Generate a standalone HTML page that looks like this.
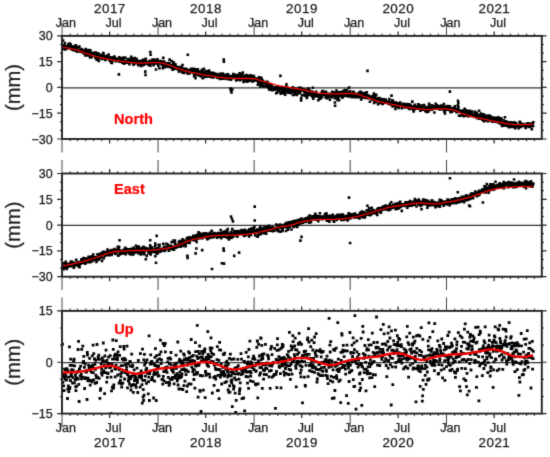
<!DOCTYPE html>
<html><head><meta charset="utf-8"><style>
html,body{margin:0;padding:0;background:#fff;width:550px;height:457px;overflow:hidden}
svg{display:block}

</style></head><body>
<div id="w"><svg width="550" height="457" viewBox="0 0 550 457">
<defs><filter id="bl" filterUnits="userSpaceOnUse" x="0" y="0" width="550" height="457" color-interpolation-filters="sRGB"><feConvolveMatrix order="3" kernelMatrix="1 6 1 6 36 6 1 6 1" divisor="64" edgeMode="duplicate"/></filter></defs><g filter="url(#bl)">
<rect width="550" height="457" fill="#fff"/>
<clipPath id="c0"><rect x="62.0" y="35.9" width="479.79999999999995" height="103.1"/></clipPath>
<clipPath id="c1"><rect x="62.0" y="173.5" width="479.79999999999995" height="103.19999999999999"/></clipPath>
<clipPath id="c2"><rect x="62.0" y="310.9" width="479.79999999999995" height="102.70000000000005"/></clipPath>
<line x1="62.0" y1="87.8" x2="541.8" y2="87.8" stroke="#333" stroke-width="1.15"/>
<line x1="62.0" y1="225.4" x2="541.8" y2="225.4" stroke="#333" stroke-width="1.15"/>
<line x1="62.0" y1="362.6" x2="541.8" y2="362.6" stroke="#333" stroke-width="1.15"/>
<path clip-path="url(#c0)" fill="#000" d="M60.7 45.0h2.6v2.6h-2.6zM61.2 47.6h2.6v2.6h-2.6zM61.5 47.3h2.6v2.6h-2.6zM61.8 44.1h2.6v2.6h-2.6zM62.3 44.5h2.6v2.6h-2.6zM62.5 44.1h2.6v2.6h-2.6zM62.8 46.2h2.6v2.6h-2.6zM63.1 45.0h2.6v2.6h-2.6zM63.3 46.6h2.6v2.6h-2.6zM63.6 41.7h2.6v2.6h-2.6zM63.9 48.2h2.6v2.6h-2.6zM64.1 45.1h2.6v2.6h-2.6zM64.4 46.6h2.6v2.6h-2.6zM64.6 45.1h2.6v2.6h-2.6zM65.2 44.7h2.6v2.6h-2.6zM65.4 46.3h2.6v2.6h-2.6zM66.0 47.1h2.6v2.6h-2.6zM66.2 45.1h2.6v2.6h-2.6zM66.5 45.3h2.6v2.6h-2.6zM66.8 46.9h2.6v2.6h-2.6zM67.0 44.0h2.6v2.6h-2.6zM67.3 42.8h2.6v2.6h-2.6zM67.5 46.5h2.6v2.6h-2.6zM68.1 44.5h2.6v2.6h-2.6zM68.3 42.2h2.6v2.6h-2.6zM68.6 44.4h2.6v2.6h-2.6zM68.9 45.1h2.6v2.6h-2.6zM69.1 43.8h2.6v2.6h-2.6zM69.4 43.2h2.6v2.6h-2.6zM69.6 46.2h2.6v2.6h-2.6zM69.9 47.9h2.6v2.6h-2.6zM70.2 45.8h2.6v2.6h-2.6zM70.4 44.9h2.6v2.6h-2.6zM70.7 47.1h2.6v2.6h-2.6zM71.0 47.8h2.6v2.6h-2.6zM71.2 45.9h2.6v2.6h-2.6zM71.8 47.6h2.6v2.6h-2.6zM72.0 48.7h2.6v2.6h-2.6zM72.3 46.4h2.6v2.6h-2.6zM72.5 45.3h2.6v2.6h-2.6zM72.8 47.6h2.6v2.6h-2.6zM73.1 47.4h2.6v2.6h-2.6zM73.3 49.1h2.6v2.6h-2.6zM73.9 44.8h2.6v2.6h-2.6zM74.1 46.0h2.6v2.6h-2.6zM74.4 45.8h2.6v2.6h-2.6zM74.6 44.1h2.6v2.6h-2.6zM74.9 47.8h2.6v2.6h-2.6zM75.2 48.6h2.6v2.6h-2.6zM75.4 46.3h2.6v2.6h-2.6zM75.7 50.4h2.6v2.6h-2.6zM76.2 49.5h2.6v2.6h-2.6zM76.5 49.2h2.6v2.6h-2.6zM76.8 48.9h2.6v2.6h-2.6zM77.0 50.0h2.6v2.6h-2.6zM77.3 45.8h2.6v2.6h-2.6zM77.5 49.6h2.6v2.6h-2.6zM77.8 49.6h2.6v2.6h-2.6zM78.1 45.2h2.6v2.6h-2.6zM78.3 49.3h2.6v2.6h-2.6zM78.9 48.4h2.6v2.6h-2.6zM79.1 50.4h2.6v2.6h-2.6zM79.4 48.2h2.6v2.6h-2.6zM79.9 49.2h2.6v2.6h-2.6zM80.2 50.0h2.6v2.6h-2.6zM80.4 47.7h2.6v2.6h-2.6zM81.2 50.8h2.6v2.6h-2.6zM81.5 49.6h2.6v2.6h-2.6zM81.8 50.8h2.6v2.6h-2.6zM82.3 49.1h2.6v2.6h-2.6zM82.5 52.2h2.6v2.6h-2.6zM83.1 51.5h2.6v2.6h-2.6zM83.3 50.1h2.6v2.6h-2.6zM83.6 51.7h2.6v2.6h-2.6zM83.9 53.0h2.6v2.6h-2.6zM84.1 54.1h2.6v2.6h-2.6zM84.4 47.8h2.6v2.6h-2.6zM84.9 52.7h2.6v2.6h-2.6zM85.2 52.0h2.6v2.6h-2.6zM85.4 51.0h2.6v2.6h-2.6zM85.7 49.4h2.6v2.6h-2.6zM86.0 53.8h2.6v2.6h-2.6zM86.2 49.1h2.6v2.6h-2.6zM86.5 52.6h2.6v2.6h-2.6zM86.8 54.1h2.6v2.6h-2.6zM87.3 48.8h2.6v2.6h-2.6zM87.5 51.4h2.6v2.6h-2.6zM87.8 49.6h2.6v2.6h-2.6zM88.3 52.7h2.6v2.6h-2.6zM88.6 55.2h2.6v2.6h-2.6zM88.9 56.2h2.6v2.6h-2.6zM89.1 49.1h2.6v2.6h-2.6zM89.4 51.5h2.6v2.6h-2.6zM89.6 54.0h2.6v2.6h-2.6zM90.2 55.8h2.6v2.6h-2.6zM90.7 53.8h2.6v2.6h-2.6zM91.0 51.7h2.6v2.6h-2.6zM91.2 53.7h2.6v2.6h-2.6zM91.5 53.2h2.6v2.6h-2.6zM91.8 52.9h2.6v2.6h-2.6zM92.0 52.0h2.6v2.6h-2.6zM92.3 54.2h2.6v2.6h-2.6zM92.5 54.1h2.6v2.6h-2.6zM92.8 53.4h2.6v2.6h-2.6zM93.1 53.3h2.6v2.6h-2.6zM93.3 51.3h2.6v2.6h-2.6zM93.6 52.9h2.6v2.6h-2.6zM93.9 56.2h2.6v2.6h-2.6zM94.1 53.6h2.6v2.6h-2.6zM94.4 51.3h2.6v2.6h-2.6zM94.6 56.6h2.6v2.6h-2.6zM95.2 55.2h2.6v2.6h-2.6zM95.4 58.3h2.6v2.6h-2.6zM95.7 54.5h2.6v2.6h-2.6zM96.2 53.6h2.6v2.6h-2.6zM96.8 51.9h2.6v2.6h-2.6zM97.0 57.2h2.6v2.6h-2.6zM97.5 59.7h2.6v2.6h-2.6zM97.8 53.3h2.6v2.6h-2.6zM98.1 53.7h2.6v2.6h-2.6zM98.6 56.2h2.6v2.6h-2.6zM99.1 53.6h2.6v2.6h-2.6zM99.4 54.7h2.6v2.6h-2.6zM99.7 54.6h2.6v2.6h-2.6zM100.2 55.8h2.6v2.6h-2.6zM100.4 57.6h2.6v2.6h-2.6zM100.7 55.6h2.6v2.6h-2.6zM101.0 57.3h2.6v2.6h-2.6zM101.2 54.9h2.6v2.6h-2.6zM101.8 56.4h2.6v2.6h-2.6zM102.0 51.8h2.6v2.6h-2.6zM102.3 53.1h2.6v2.6h-2.6zM102.5 57.5h2.6v2.6h-2.6zM102.8 54.9h2.6v2.6h-2.6zM103.3 57.2h2.6v2.6h-2.6zM103.6 57.2h2.6v2.6h-2.6zM103.9 58.7h2.6v2.6h-2.6zM104.1 57.8h2.6v2.6h-2.6zM104.4 58.3h2.6v2.6h-2.6zM104.7 56.2h2.6v2.6h-2.6zM104.9 55.1h2.6v2.6h-2.6zM105.4 55.2h2.6v2.6h-2.6zM105.7 55.7h2.6v2.6h-2.6zM106.0 54.6h2.6v2.6h-2.6zM106.2 55.7h2.6v2.6h-2.6zM106.5 56.6h2.6v2.6h-2.6zM106.8 57.4h2.6v2.6h-2.6zM107.0 56.3h2.6v2.6h-2.6zM107.3 53.3h2.6v2.6h-2.6zM107.5 56.9h2.6v2.6h-2.6zM107.8 57.5h2.6v2.6h-2.6zM108.3 59.3h2.6v2.6h-2.6zM108.9 58.4h2.6v2.6h-2.6zM109.4 56.2h2.6v2.6h-2.6zM109.7 56.1h2.6v2.6h-2.6zM109.9 61.3h2.6v2.6h-2.6zM110.2 59.0h2.6v2.6h-2.6zM110.4 61.1h2.6v2.6h-2.6zM110.7 61.7h2.6v2.6h-2.6zM111.0 56.2h2.6v2.6h-2.6zM111.2 58.5h2.6v2.6h-2.6zM111.5 58.7h2.6v2.6h-2.6zM111.8 58.9h2.6v2.6h-2.6zM112.0 58.9h2.6v2.6h-2.6zM112.3 58.3h2.6v2.6h-2.6zM112.5 58.3h2.6v2.6h-2.6zM113.1 55.2h2.6v2.6h-2.6zM113.3 57.8h2.6v2.6h-2.6zM113.6 56.7h2.6v2.6h-2.6zM113.9 58.4h2.6v2.6h-2.6zM114.1 57.3h2.6v2.6h-2.6zM114.4 59.4h2.6v2.6h-2.6zM114.7 59.8h2.6v2.6h-2.6zM114.9 58.9h2.6v2.6h-2.6zM115.7 59.0h2.6v2.6h-2.6zM116.0 58.6h2.6v2.6h-2.6zM116.2 57.6h2.6v2.6h-2.6zM116.5 58.2h2.6v2.6h-2.6zM116.8 57.6h2.6v2.6h-2.6zM117.0 59.3h2.6v2.6h-2.6zM117.3 58.6h2.6v2.6h-2.6zM117.8 59.7h2.6v2.6h-2.6zM118.1 56.1h2.6v2.6h-2.6zM118.3 60.4h2.6v2.6h-2.6zM118.9 57.3h2.6v2.6h-2.6zM119.1 57.4h2.6v2.6h-2.6zM119.4 58.4h2.6v2.6h-2.6zM119.7 57.7h2.6v2.6h-2.6zM119.9 59.4h2.6v2.6h-2.6zM120.2 57.8h2.6v2.6h-2.6zM120.4 56.9h2.6v2.6h-2.6zM120.7 57.3h2.6v2.6h-2.6zM121.0 61.4h2.6v2.6h-2.6zM121.2 59.1h2.6v2.6h-2.6zM121.5 56.8h2.6v2.6h-2.6zM122.3 59.1h2.6v2.6h-2.6zM122.5 56.2h2.6v2.6h-2.6zM122.8 62.5h2.6v2.6h-2.6zM123.1 56.3h2.6v2.6h-2.6zM123.3 60.1h2.6v2.6h-2.6zM123.9 60.3h2.6v2.6h-2.6zM124.1 56.5h2.6v2.6h-2.6zM124.4 59.9h2.6v2.6h-2.6zM124.7 61.3h2.6v2.6h-2.6zM124.9 60.3h2.6v2.6h-2.6zM125.2 59.9h2.6v2.6h-2.6zM125.4 61.3h2.6v2.6h-2.6zM125.7 59.8h2.6v2.6h-2.6zM126.0 60.2h2.6v2.6h-2.6zM126.2 59.3h2.6v2.6h-2.6zM126.5 60.8h2.6v2.6h-2.6zM126.8 57.9h2.6v2.6h-2.6zM127.0 61.2h2.6v2.6h-2.6zM127.3 58.8h2.6v2.6h-2.6zM127.5 57.7h2.6v2.6h-2.6zM127.8 60.5h2.6v2.6h-2.6zM128.1 63.0h2.6v2.6h-2.6zM128.3 61.7h2.6v2.6h-2.6zM128.6 58.9h2.6v2.6h-2.6zM128.9 61.2h2.6v2.6h-2.6zM129.1 59.1h2.6v2.6h-2.6zM129.4 59.7h2.6v2.6h-2.6zM129.7 60.2h2.6v2.6h-2.6zM129.9 55.6h2.6v2.6h-2.6zM130.2 60.4h2.6v2.6h-2.6zM130.4 58.1h2.6v2.6h-2.6zM131.0 58.8h2.6v2.6h-2.6zM131.2 57.4h2.6v2.6h-2.6zM131.5 57.3h2.6v2.6h-2.6zM131.8 58.4h2.6v2.6h-2.6zM132.0 61.8h2.6v2.6h-2.6zM132.3 63.4h2.6v2.6h-2.6zM132.8 60.3h2.6v2.6h-2.6zM133.1 62.4h2.6v2.6h-2.6zM133.3 59.8h2.6v2.6h-2.6zM133.6 56.7h2.6v2.6h-2.6zM133.9 60.7h2.6v2.6h-2.6zM134.1 61.3h2.6v2.6h-2.6zM134.4 59.6h2.6v2.6h-2.6zM134.7 61.0h2.6v2.6h-2.6zM134.9 61.5h2.6v2.6h-2.6zM135.2 58.8h2.6v2.6h-2.6zM135.4 57.7h2.6v2.6h-2.6zM135.7 60.1h2.6v2.6h-2.6zM136.0 60.1h2.6v2.6h-2.6zM136.2 59.9h2.6v2.6h-2.6zM136.5 62.4h2.6v2.6h-2.6zM137.0 63.9h2.6v2.6h-2.6zM137.3 59.8h2.6v2.6h-2.6zM137.5 61.9h2.6v2.6h-2.6zM137.8 62.4h2.6v2.6h-2.6zM138.1 62.0h2.6v2.6h-2.6zM138.9 62.6h2.6v2.6h-2.6zM139.1 59.9h2.6v2.6h-2.6zM139.4 62.1h2.6v2.6h-2.6zM139.7 64.6h2.6v2.6h-2.6zM139.9 62.3h2.6v2.6h-2.6zM140.2 59.6h2.6v2.6h-2.6zM140.4 62.0h2.6v2.6h-2.6zM140.7 63.3h2.6v2.6h-2.6zM141.0 61.6h2.6v2.6h-2.6zM141.2 59.9h2.6v2.6h-2.6zM141.5 63.9h2.6v2.6h-2.6zM141.8 58.6h2.6v2.6h-2.6zM142.0 62.0h2.6v2.6h-2.6zM142.3 61.0h2.6v2.6h-2.6zM142.5 58.8h2.6v2.6h-2.6zM142.8 63.4h2.6v2.6h-2.6zM143.1 61.8h2.6v2.6h-2.6zM143.3 58.9h2.6v2.6h-2.6zM143.6 62.3h2.6v2.6h-2.6zM144.1 60.3h2.6v2.6h-2.6zM144.4 57.6h2.6v2.6h-2.6zM144.7 59.9h2.6v2.6h-2.6zM145.2 61.7h2.6v2.6h-2.6zM145.4 62.5h2.6v2.6h-2.6zM145.7 61.6h2.6v2.6h-2.6zM146.2 61.4h2.6v2.6h-2.6zM146.5 62.2h2.6v2.6h-2.6zM147.0 60.9h2.6v2.6h-2.6zM147.3 63.6h2.6v2.6h-2.6zM147.5 61.6h2.6v2.6h-2.6zM147.8 61.9h2.6v2.6h-2.6zM148.1 62.4h2.6v2.6h-2.6zM148.3 59.4h2.6v2.6h-2.6zM148.9 60.1h2.6v2.6h-2.6zM149.1 64.3h2.6v2.6h-2.6zM149.4 62.0h2.6v2.6h-2.6zM149.7 60.8h2.6v2.6h-2.6zM149.9 62.0h2.6v2.6h-2.6zM150.2 60.4h2.6v2.6h-2.6zM150.4 61.9h2.6v2.6h-2.6zM150.7 60.1h2.6v2.6h-2.6zM151.0 61.8h2.6v2.6h-2.6zM151.2 58.3h2.6v2.6h-2.6zM152.3 63.8h2.6v2.6h-2.6zM152.5 60.3h2.6v2.6h-2.6zM152.8 58.3h2.6v2.6h-2.6zM153.1 60.9h2.6v2.6h-2.6zM153.3 60.6h2.6v2.6h-2.6zM153.6 61.6h2.6v2.6h-2.6zM153.9 59.1h2.6v2.6h-2.6zM154.1 62.1h2.6v2.6h-2.6zM154.7 68.2h2.6v2.6h-2.6zM154.9 58.9h2.6v2.6h-2.6zM155.2 62.0h2.6v2.6h-2.6zM155.4 60.7h2.6v2.6h-2.6zM155.7 61.7h2.6v2.6h-2.6zM156.0 57.9h2.6v2.6h-2.6zM156.2 59.2h2.6v2.6h-2.6zM156.5 62.3h2.6v2.6h-2.6zM156.8 61.3h2.6v2.6h-2.6zM157.0 64.5h2.6v2.6h-2.6zM157.3 60.1h2.6v2.6h-2.6zM157.8 61.8h2.6v2.6h-2.6zM158.1 67.0h2.6v2.6h-2.6zM158.3 60.0h2.6v2.6h-2.6zM159.1 59.8h2.6v2.6h-2.6zM159.7 61.5h2.6v2.6h-2.6zM159.9 61.5h2.6v2.6h-2.6zM160.2 63.2h2.6v2.6h-2.6zM160.7 61.9h2.6v2.6h-2.6zM161.0 60.3h2.6v2.6h-2.6zM161.2 62.2h2.6v2.6h-2.6zM161.5 66.8h2.6v2.6h-2.6zM161.8 64.2h2.6v2.6h-2.6zM162.0 56.6h2.6v2.6h-2.6zM162.5 61.7h2.6v2.6h-2.6zM162.8 60.3h2.6v2.6h-2.6zM163.1 63.2h2.6v2.6h-2.6zM163.3 61.8h2.6v2.6h-2.6zM163.6 65.8h2.6v2.6h-2.6zM163.9 64.0h2.6v2.6h-2.6zM164.1 64.0h2.6v2.6h-2.6zM164.4 62.7h2.6v2.6h-2.6zM164.7 62.3h2.6v2.6h-2.6zM164.9 63.1h2.6v2.6h-2.6zM165.2 65.0h2.6v2.6h-2.6zM165.7 63.7h2.6v2.6h-2.6zM166.0 62.1h2.6v2.6h-2.6zM166.5 65.4h2.6v2.6h-2.6zM166.8 63.4h2.6v2.6h-2.6zM167.0 63.0h2.6v2.6h-2.6zM167.5 61.8h2.6v2.6h-2.6zM167.8 62.4h2.6v2.6h-2.6zM168.1 62.3h2.6v2.6h-2.6zM168.3 58.3h2.6v2.6h-2.6zM168.6 65.7h2.6v2.6h-2.6zM168.9 64.9h2.6v2.6h-2.6zM169.4 63.7h2.6v2.6h-2.6zM169.7 66.2h2.6v2.6h-2.6zM169.9 65.1h2.6v2.6h-2.6zM170.2 65.1h2.6v2.6h-2.6zM170.4 59.8h2.6v2.6h-2.6zM170.7 64.1h2.6v2.6h-2.6zM171.0 65.7h2.6v2.6h-2.6zM171.2 67.9h2.6v2.6h-2.6zM171.5 68.4h2.6v2.6h-2.6zM171.8 67.7h2.6v2.6h-2.6zM172.0 62.9h2.6v2.6h-2.6zM172.3 61.0h2.6v2.6h-2.6zM172.8 66.5h2.6v2.6h-2.6zM173.1 65.5h2.6v2.6h-2.6zM173.3 67.4h2.6v2.6h-2.6zM173.6 65.5h2.6v2.6h-2.6zM173.9 66.2h2.6v2.6h-2.6zM174.1 63.0h2.6v2.6h-2.6zM174.4 66.8h2.6v2.6h-2.6zM174.7 65.2h2.6v2.6h-2.6zM175.2 66.9h2.6v2.6h-2.6zM175.4 67.2h2.6v2.6h-2.6zM175.7 66.2h2.6v2.6h-2.6zM176.0 67.1h2.6v2.6h-2.6zM176.2 66.6h2.6v2.6h-2.6zM176.5 68.1h2.6v2.6h-2.6zM176.8 67.8h2.6v2.6h-2.6zM177.0 65.8h2.6v2.6h-2.6zM177.6 65.9h2.6v2.6h-2.6zM177.8 70.5h2.6v2.6h-2.6zM178.1 67.0h2.6v2.6h-2.6zM178.3 69.2h2.6v2.6h-2.6zM178.6 68.2h2.6v2.6h-2.6zM178.9 66.4h2.6v2.6h-2.6zM179.1 66.2h2.6v2.6h-2.6zM179.4 67.9h2.6v2.6h-2.6zM179.7 68.2h2.6v2.6h-2.6zM179.9 69.0h2.6v2.6h-2.6zM180.2 65.5h2.6v2.6h-2.6zM180.4 66.9h2.6v2.6h-2.6zM180.7 67.9h2.6v2.6h-2.6zM181.0 71.2h2.6v2.6h-2.6zM181.2 63.7h2.6v2.6h-2.6zM181.5 69.1h2.6v2.6h-2.6zM181.8 67.3h2.6v2.6h-2.6zM182.0 69.3h2.6v2.6h-2.6zM182.3 67.6h2.6v2.6h-2.6zM182.6 69.3h2.6v2.6h-2.6zM182.8 71.6h2.6v2.6h-2.6zM183.1 69.4h2.6v2.6h-2.6zM183.3 69.6h2.6v2.6h-2.6zM183.6 69.6h2.6v2.6h-2.6zM183.9 67.5h2.6v2.6h-2.6zM184.1 70.0h2.6v2.6h-2.6zM184.4 68.7h2.6v2.6h-2.6zM184.7 67.6h2.6v2.6h-2.6zM185.2 69.2h2.6v2.6h-2.6zM185.4 68.9h2.6v2.6h-2.6zM185.7 70.8h2.6v2.6h-2.6zM186.0 69.4h2.6v2.6h-2.6zM186.2 68.5h2.6v2.6h-2.6zM186.5 72.3h2.6v2.6h-2.6zM186.8 71.5h2.6v2.6h-2.6zM187.0 72.1h2.6v2.6h-2.6zM187.3 70.9h2.6v2.6h-2.6zM187.6 69.6h2.6v2.6h-2.6zM188.1 69.1h2.6v2.6h-2.6zM188.3 69.4h2.6v2.6h-2.6zM188.6 71.8h2.6v2.6h-2.6zM188.9 70.3h2.6v2.6h-2.6zM189.7 67.4h2.6v2.6h-2.6zM189.9 70.2h2.6v2.6h-2.6zM190.4 67.7h2.6v2.6h-2.6zM190.7 70.7h2.6v2.6h-2.6zM191.0 68.2h2.6v2.6h-2.6zM191.5 68.1h2.6v2.6h-2.6zM191.8 70.8h2.6v2.6h-2.6zM192.0 70.5h2.6v2.6h-2.6zM192.3 67.5h2.6v2.6h-2.6zM192.6 72.2h2.6v2.6h-2.6zM192.8 74.9h2.6v2.6h-2.6zM193.1 68.0h2.6v2.6h-2.6zM193.3 74.3h2.6v2.6h-2.6zM193.6 69.6h2.6v2.6h-2.6zM193.9 70.0h2.6v2.6h-2.6zM194.1 70.7h2.6v2.6h-2.6zM194.4 68.3h2.6v2.6h-2.6zM194.7 73.6h2.6v2.6h-2.6zM194.9 72.1h2.6v2.6h-2.6zM195.2 69.8h2.6v2.6h-2.6zM195.4 70.7h2.6v2.6h-2.6zM195.7 68.4h2.6v2.6h-2.6zM196.0 70.7h2.6v2.6h-2.6zM196.2 73.1h2.6v2.6h-2.6zM196.5 68.1h2.6v2.6h-2.6zM196.8 70.6h2.6v2.6h-2.6zM197.0 71.8h2.6v2.6h-2.6zM197.3 73.5h2.6v2.6h-2.6zM197.6 74.1h2.6v2.6h-2.6zM197.8 70.7h2.6v2.6h-2.6zM198.1 70.3h2.6v2.6h-2.6zM198.3 72.6h2.6v2.6h-2.6zM198.6 71.0h2.6v2.6h-2.6zM198.9 71.2h2.6v2.6h-2.6zM199.1 73.9h2.6v2.6h-2.6zM199.7 75.1h2.6v2.6h-2.6zM199.9 72.5h2.6v2.6h-2.6zM200.2 71.6h2.6v2.6h-2.6zM200.4 73.1h2.6v2.6h-2.6zM200.7 68.5h2.6v2.6h-2.6zM201.0 72.1h2.6v2.6h-2.6zM201.2 70.2h2.6v2.6h-2.6zM201.5 76.8h2.6v2.6h-2.6zM201.8 73.6h2.6v2.6h-2.6zM202.0 72.6h2.6v2.6h-2.6zM202.3 72.0h2.6v2.6h-2.6zM202.6 67.6h2.6v2.6h-2.6zM203.1 73.8h2.6v2.6h-2.6zM203.3 75.6h2.6v2.6h-2.6zM203.6 71.2h2.6v2.6h-2.6zM203.9 73.9h2.6v2.6h-2.6zM204.1 74.0h2.6v2.6h-2.6zM204.4 69.8h2.6v2.6h-2.6zM204.7 74.5h2.6v2.6h-2.6zM204.9 75.4h2.6v2.6h-2.6zM205.2 73.3h2.6v2.6h-2.6zM205.4 72.8h2.6v2.6h-2.6zM205.7 74.4h2.6v2.6h-2.6zM206.0 70.0h2.6v2.6h-2.6zM206.2 73.2h2.6v2.6h-2.6zM206.5 75.1h2.6v2.6h-2.6zM206.8 70.7h2.6v2.6h-2.6zM207.3 75.1h2.6v2.6h-2.6zM207.6 72.4h2.6v2.6h-2.6zM207.8 69.3h2.6v2.6h-2.6zM208.1 73.1h2.6v2.6h-2.6zM208.3 71.5h2.6v2.6h-2.6zM208.6 74.0h2.6v2.6h-2.6zM208.9 71.2h2.6v2.6h-2.6zM209.1 75.5h2.6v2.6h-2.6zM209.4 72.1h2.6v2.6h-2.6zM209.7 74.3h2.6v2.6h-2.6zM209.9 72.5h2.6v2.6h-2.6zM210.2 73.1h2.6v2.6h-2.6zM210.4 76.0h2.6v2.6h-2.6zM210.7 74.2h2.6v2.6h-2.6zM211.0 73.1h2.6v2.6h-2.6zM211.8 71.6h2.6v2.6h-2.6zM212.0 76.2h2.6v2.6h-2.6zM212.3 75.4h2.6v2.6h-2.6zM212.6 73.4h2.6v2.6h-2.6zM212.8 74.6h2.6v2.6h-2.6zM213.1 72.2h2.6v2.6h-2.6zM213.9 72.3h2.6v2.6h-2.6zM214.1 72.7h2.6v2.6h-2.6zM214.4 75.0h2.6v2.6h-2.6zM214.7 74.9h2.6v2.6h-2.6zM215.4 73.1h2.6v2.6h-2.6zM215.7 75.9h2.6v2.6h-2.6zM216.0 76.1h2.6v2.6h-2.6zM216.2 74.9h2.6v2.6h-2.6zM216.8 76.6h2.6v2.6h-2.6zM217.0 74.2h2.6v2.6h-2.6zM217.3 74.5h2.6v2.6h-2.6zM217.6 75.7h2.6v2.6h-2.6zM217.8 74.7h2.6v2.6h-2.6zM218.1 76.3h2.6v2.6h-2.6zM218.3 72.5h2.6v2.6h-2.6zM218.9 77.6h2.6v2.6h-2.6zM219.1 73.5h2.6v2.6h-2.6zM219.4 74.7h2.6v2.6h-2.6zM219.7 72.4h2.6v2.6h-2.6zM219.9 76.2h2.6v2.6h-2.6zM220.2 77.5h2.6v2.6h-2.6zM220.4 77.2h2.6v2.6h-2.6zM221.0 76.8h2.6v2.6h-2.6zM221.5 72.3h2.6v2.6h-2.6zM222.0 73.8h2.6v2.6h-2.6zM222.3 74.4h2.6v2.6h-2.6zM222.6 73.6h2.6v2.6h-2.6zM222.8 77.5h2.6v2.6h-2.6zM223.1 75.7h2.6v2.6h-2.6zM223.3 75.4h2.6v2.6h-2.6zM223.6 76.4h2.6v2.6h-2.6zM223.9 73.7h2.6v2.6h-2.6zM224.1 73.8h2.6v2.6h-2.6zM224.7 73.9h2.6v2.6h-2.6zM224.9 76.5h2.6v2.6h-2.6zM225.2 76.2h2.6v2.6h-2.6zM225.4 76.7h2.6v2.6h-2.6zM225.7 77.7h2.6v2.6h-2.6zM226.0 73.0h2.6v2.6h-2.6zM226.2 74.6h2.6v2.6h-2.6zM226.5 75.9h2.6v2.6h-2.6zM226.8 73.1h2.6v2.6h-2.6zM227.0 74.7h2.6v2.6h-2.6zM227.3 77.6h2.6v2.6h-2.6zM227.6 77.8h2.6v2.6h-2.6zM227.8 77.8h2.6v2.6h-2.6zM228.1 75.8h2.6v2.6h-2.6zM228.3 75.4h2.6v2.6h-2.6zM228.6 77.8h2.6v2.6h-2.6zM229.1 75.1h2.6v2.6h-2.6zM229.4 76.4h2.6v2.6h-2.6zM229.7 78.3h2.6v2.6h-2.6zM229.9 75.1h2.6v2.6h-2.6zM230.2 74.7h2.6v2.6h-2.6zM230.4 75.8h2.6v2.6h-2.6zM230.7 77.0h2.6v2.6h-2.6zM231.0 76.8h2.6v2.6h-2.6zM231.2 76.2h2.6v2.6h-2.6zM231.8 76.9h2.6v2.6h-2.6zM232.0 72.8h2.6v2.6h-2.6zM232.3 74.3h2.6v2.6h-2.6zM232.6 76.2h2.6v2.6h-2.6zM232.8 74.1h2.6v2.6h-2.6zM233.3 73.4h2.6v2.6h-2.6zM233.6 73.6h2.6v2.6h-2.6zM233.9 74.2h2.6v2.6h-2.6zM234.1 75.6h2.6v2.6h-2.6zM234.4 74.0h2.6v2.6h-2.6zM234.7 76.4h2.6v2.6h-2.6zM234.9 79.2h2.6v2.6h-2.6zM235.2 75.7h2.6v2.6h-2.6zM235.4 78.4h2.6v2.6h-2.6zM235.7 76.5h2.6v2.6h-2.6zM236.0 73.8h2.6v2.6h-2.6zM236.5 75.5h2.6v2.6h-2.6zM236.8 74.1h2.6v2.6h-2.6zM237.0 77.4h2.6v2.6h-2.6zM237.3 73.8h2.6v2.6h-2.6zM237.6 78.5h2.6v2.6h-2.6zM238.1 77.1h2.6v2.6h-2.6zM238.3 72.1h2.6v2.6h-2.6zM238.6 77.5h2.6v2.6h-2.6zM238.9 79.0h2.6v2.6h-2.6zM239.7 74.6h2.6v2.6h-2.6zM239.9 78.0h2.6v2.6h-2.6zM240.2 72.7h2.6v2.6h-2.6zM240.4 76.6h2.6v2.6h-2.6zM240.7 73.0h2.6v2.6h-2.6zM241.0 77.1h2.6v2.6h-2.6zM241.2 72.8h2.6v2.6h-2.6zM241.5 71.2h2.6v2.6h-2.6zM241.8 77.0h2.6v2.6h-2.6zM242.3 80.6h2.6v2.6h-2.6zM242.6 75.2h2.6v2.6h-2.6zM242.8 77.9h2.6v2.6h-2.6zM243.1 76.6h2.6v2.6h-2.6zM243.3 75.8h2.6v2.6h-2.6zM243.6 77.6h2.6v2.6h-2.6zM244.1 79.6h2.6v2.6h-2.6zM244.4 74.1h2.6v2.6h-2.6zM244.7 77.5h2.6v2.6h-2.6zM244.9 77.2h2.6v2.6h-2.6zM245.2 73.8h2.6v2.6h-2.6zM245.4 79.6h2.6v2.6h-2.6zM245.7 80.3h2.6v2.6h-2.6zM246.0 74.8h2.6v2.6h-2.6zM246.2 79.9h2.6v2.6h-2.6zM246.5 76.7h2.6v2.6h-2.6zM246.8 76.3h2.6v2.6h-2.6zM247.0 79.5h2.6v2.6h-2.6zM247.3 77.1h2.6v2.6h-2.6zM247.6 77.3h2.6v2.6h-2.6zM247.8 79.6h2.6v2.6h-2.6zM248.1 79.2h2.6v2.6h-2.6zM248.3 78.5h2.6v2.6h-2.6zM248.6 74.2h2.6v2.6h-2.6zM248.9 73.9h2.6v2.6h-2.6zM249.1 79.0h2.6v2.6h-2.6zM249.4 75.1h2.6v2.6h-2.6zM249.7 77.2h2.6v2.6h-2.6zM249.9 74.9h2.6v2.6h-2.6zM250.2 76.7h2.6v2.6h-2.6zM250.4 74.6h2.6v2.6h-2.6zM251.0 80.2h2.6v2.6h-2.6zM251.2 75.2h2.6v2.6h-2.6zM251.5 77.0h2.6v2.6h-2.6zM251.8 76.9h2.6v2.6h-2.6zM252.3 79.7h2.6v2.6h-2.6zM252.6 74.7h2.6v2.6h-2.6zM252.8 77.4h2.6v2.6h-2.6zM253.1 77.2h2.6v2.6h-2.6zM253.6 78.7h2.6v2.6h-2.6zM253.9 78.7h2.6v2.6h-2.6zM254.1 77.1h2.6v2.6h-2.6zM254.4 78.5h2.6v2.6h-2.6zM254.7 77.5h2.6v2.6h-2.6zM254.9 79.2h2.6v2.6h-2.6zM255.2 78.3h2.6v2.6h-2.6zM255.5 77.4h2.6v2.6h-2.6zM256.0 78.9h2.6v2.6h-2.6zM256.2 79.7h2.6v2.6h-2.6zM256.5 83.5h2.6v2.6h-2.6zM256.8 78.4h2.6v2.6h-2.6zM257.0 80.1h2.6v2.6h-2.6zM257.3 82.4h2.6v2.6h-2.6zM257.8 76.0h2.6v2.6h-2.6zM258.1 76.8h2.6v2.6h-2.6zM258.3 78.0h2.6v2.6h-2.6zM258.6 80.2h2.6v2.6h-2.6zM258.9 85.2h2.6v2.6h-2.6zM259.1 81.5h2.6v2.6h-2.6zM259.4 83.2h2.6v2.6h-2.6zM259.7 80.6h2.6v2.6h-2.6zM259.9 76.5h2.6v2.6h-2.6zM260.2 76.9h2.6v2.6h-2.6zM260.5 83.4h2.6v2.6h-2.6zM260.7 82.0h2.6v2.6h-2.6zM261.0 79.3h2.6v2.6h-2.6zM261.2 84.1h2.6v2.6h-2.6zM261.5 79.2h2.6v2.6h-2.6zM261.8 84.4h2.6v2.6h-2.6zM262.0 85.2h2.6v2.6h-2.6zM262.3 81.1h2.6v2.6h-2.6zM262.6 80.6h2.6v2.6h-2.6zM262.8 84.5h2.6v2.6h-2.6zM263.1 80.9h2.6v2.6h-2.6zM263.9 85.1h2.6v2.6h-2.6zM264.1 81.3h2.6v2.6h-2.6zM264.4 85.1h2.6v2.6h-2.6zM264.7 83.9h2.6v2.6h-2.6zM264.9 83.0h2.6v2.6h-2.6zM265.2 82.2h2.6v2.6h-2.6zM265.7 84.5h2.6v2.6h-2.6zM266.0 80.6h2.6v2.6h-2.6zM266.2 83.7h2.6v2.6h-2.6zM266.5 83.6h2.6v2.6h-2.6zM267.0 85.8h2.6v2.6h-2.6zM267.3 82.2h2.6v2.6h-2.6zM267.8 88.1h2.6v2.6h-2.6zM268.1 84.3h2.6v2.6h-2.6zM268.3 82.8h2.6v2.6h-2.6zM268.9 87.8h2.6v2.6h-2.6zM269.4 88.5h2.6v2.6h-2.6zM269.7 85.1h2.6v2.6h-2.6zM269.9 83.8h2.6v2.6h-2.6zM270.2 85.7h2.6v2.6h-2.6zM270.5 84.4h2.6v2.6h-2.6zM270.7 85.2h2.6v2.6h-2.6zM271.0 88.9h2.6v2.6h-2.6zM271.5 86.8h2.6v2.6h-2.6zM271.8 86.4h2.6v2.6h-2.6zM272.0 86.9h2.6v2.6h-2.6zM272.3 86.2h2.6v2.6h-2.6zM273.1 88.2h2.6v2.6h-2.6zM273.3 88.3h2.6v2.6h-2.6zM274.1 86.1h2.6v2.6h-2.6zM274.7 87.2h2.6v2.6h-2.6zM274.9 91.9h2.6v2.6h-2.6zM275.2 88.0h2.6v2.6h-2.6zM275.5 86.9h2.6v2.6h-2.6zM275.7 91.4h2.6v2.6h-2.6zM276.0 87.4h2.6v2.6h-2.6zM276.2 85.3h2.6v2.6h-2.6zM276.5 88.9h2.6v2.6h-2.6zM276.8 85.8h2.6v2.6h-2.6zM277.0 86.7h2.6v2.6h-2.6zM277.3 88.4h2.6v2.6h-2.6zM277.6 87.6h2.6v2.6h-2.6zM277.8 86.4h2.6v2.6h-2.6zM278.1 86.9h2.6v2.6h-2.6zM278.3 86.8h2.6v2.6h-2.6zM278.6 90.5h2.6v2.6h-2.6zM278.9 86.7h2.6v2.6h-2.6zM279.1 87.1h2.6v2.6h-2.6zM279.4 92.5h2.6v2.6h-2.6zM279.7 87.3h2.6v2.6h-2.6zM279.9 91.5h2.6v2.6h-2.6zM280.2 91.2h2.6v2.6h-2.6zM280.5 88.3h2.6v2.6h-2.6zM280.7 85.7h2.6v2.6h-2.6zM281.0 89.7h2.6v2.6h-2.6zM281.2 90.2h2.6v2.6h-2.6zM281.5 90.9h2.6v2.6h-2.6zM281.8 89.1h2.6v2.6h-2.6zM282.0 91.5h2.6v2.6h-2.6zM282.3 91.9h2.6v2.6h-2.6zM282.6 86.9h2.6v2.6h-2.6zM282.8 92.1h2.6v2.6h-2.6zM283.1 89.6h2.6v2.6h-2.6zM283.3 88.1h2.6v2.6h-2.6zM283.6 88.7h2.6v2.6h-2.6zM283.9 93.3h2.6v2.6h-2.6zM284.1 91.5h2.6v2.6h-2.6zM284.7 85.7h2.6v2.6h-2.6zM284.9 89.7h2.6v2.6h-2.6zM285.2 89.2h2.6v2.6h-2.6zM285.7 89.2h2.6v2.6h-2.6zM286.0 88.5h2.6v2.6h-2.6zM286.8 86.6h2.6v2.6h-2.6zM287.0 91.5h2.6v2.6h-2.6zM287.3 87.7h2.6v2.6h-2.6zM287.6 88.9h2.6v2.6h-2.6zM287.8 88.5h2.6v2.6h-2.6zM288.1 88.2h2.6v2.6h-2.6zM288.3 91.4h2.6v2.6h-2.6zM288.6 90.7h2.6v2.6h-2.6zM288.9 88.4h2.6v2.6h-2.6zM289.1 87.8h2.6v2.6h-2.6zM289.4 88.9h2.6v2.6h-2.6zM289.7 92.0h2.6v2.6h-2.6zM289.9 90.2h2.6v2.6h-2.6zM290.2 90.5h2.6v2.6h-2.6zM290.7 89.3h2.6v2.6h-2.6zM291.0 89.5h2.6v2.6h-2.6zM291.2 90.5h2.6v2.6h-2.6zM291.5 86.0h2.6v2.6h-2.6zM291.8 93.7h2.6v2.6h-2.6zM292.6 88.4h2.6v2.6h-2.6zM292.8 89.0h2.6v2.6h-2.6zM293.1 93.2h2.6v2.6h-2.6zM293.3 90.8h2.6v2.6h-2.6zM293.6 90.4h2.6v2.6h-2.6zM293.9 89.0h2.6v2.6h-2.6zM294.1 86.9h2.6v2.6h-2.6zM294.4 90.8h2.6v2.6h-2.6zM294.7 93.1h2.6v2.6h-2.6zM294.9 88.4h2.6v2.6h-2.6zM295.5 93.6h2.6v2.6h-2.6zM295.7 88.0h2.6v2.6h-2.6zM296.0 88.9h2.6v2.6h-2.6zM296.2 91.8h2.6v2.6h-2.6zM296.5 90.6h2.6v2.6h-2.6zM296.8 92.2h2.6v2.6h-2.6zM297.0 89.0h2.6v2.6h-2.6zM297.3 88.4h2.6v2.6h-2.6zM297.6 86.5h2.6v2.6h-2.6zM297.8 88.1h2.6v2.6h-2.6zM298.3 88.4h2.6v2.6h-2.6zM298.6 87.6h2.6v2.6h-2.6zM298.9 91.7h2.6v2.6h-2.6zM299.1 89.5h2.6v2.6h-2.6zM299.7 86.5h2.6v2.6h-2.6zM299.9 96.8h2.6v2.6h-2.6zM300.2 89.2h2.6v2.6h-2.6zM300.5 88.3h2.6v2.6h-2.6zM300.7 94.0h2.6v2.6h-2.6zM301.0 93.9h2.6v2.6h-2.6zM301.2 88.6h2.6v2.6h-2.6zM301.5 87.9h2.6v2.6h-2.6zM302.3 89.1h2.6v2.6h-2.6zM302.8 94.0h2.6v2.6h-2.6zM303.1 90.8h2.6v2.6h-2.6zM303.3 89.7h2.6v2.6h-2.6zM303.6 91.5h2.6v2.6h-2.6zM303.9 94.3h2.6v2.6h-2.6zM304.1 88.4h2.6v2.6h-2.6zM304.4 90.8h2.6v2.6h-2.6zM304.7 88.5h2.6v2.6h-2.6zM305.5 96.7h2.6v2.6h-2.6zM305.7 95.9h2.6v2.6h-2.6zM306.2 94.0h2.6v2.6h-2.6zM306.5 91.6h2.6v2.6h-2.6zM306.8 93.5h2.6v2.6h-2.6zM307.3 87.3h2.6v2.6h-2.6zM307.6 92.7h2.6v2.6h-2.6zM307.8 89.1h2.6v2.6h-2.6zM308.1 89.1h2.6v2.6h-2.6zM308.3 90.6h2.6v2.6h-2.6zM309.1 91.5h2.6v2.6h-2.6zM309.4 93.6h2.6v2.6h-2.6zM309.7 93.9h2.6v2.6h-2.6zM309.9 93.0h2.6v2.6h-2.6zM310.2 90.3h2.6v2.6h-2.6zM310.5 94.0h2.6v2.6h-2.6zM310.7 92.2h2.6v2.6h-2.6zM311.0 95.2h2.6v2.6h-2.6zM311.2 90.5h2.6v2.6h-2.6zM311.5 86.4h2.6v2.6h-2.6zM311.8 91.6h2.6v2.6h-2.6zM312.0 97.5h2.6v2.6h-2.6zM312.3 93.8h2.6v2.6h-2.6zM312.8 92.3h2.6v2.6h-2.6zM313.1 94.8h2.6v2.6h-2.6zM313.3 94.0h2.6v2.6h-2.6zM313.6 93.9h2.6v2.6h-2.6zM313.9 91.7h2.6v2.6h-2.6zM314.1 93.1h2.6v2.6h-2.6zM314.4 93.4h2.6v2.6h-2.6zM314.7 91.5h2.6v2.6h-2.6zM314.9 90.5h2.6v2.6h-2.6zM315.2 93.3h2.6v2.6h-2.6zM315.5 95.2h2.6v2.6h-2.6zM315.7 94.5h2.6v2.6h-2.6zM316.0 94.2h2.6v2.6h-2.6zM316.8 94.3h2.6v2.6h-2.6zM317.0 98.9h2.6v2.6h-2.6zM317.6 93.8h2.6v2.6h-2.6zM317.8 95.5h2.6v2.6h-2.6zM318.1 97.6h2.6v2.6h-2.6zM318.3 93.4h2.6v2.6h-2.6zM318.6 93.8h2.6v2.6h-2.6zM318.9 95.6h2.6v2.6h-2.6zM319.4 97.1h2.6v2.6h-2.6zM319.7 94.1h2.6v2.6h-2.6zM319.9 94.2h2.6v2.6h-2.6zM320.2 93.6h2.6v2.6h-2.6zM320.5 90.8h2.6v2.6h-2.6zM320.7 96.0h2.6v2.6h-2.6zM321.0 92.9h2.6v2.6h-2.6zM321.2 89.7h2.6v2.6h-2.6zM321.5 93.2h2.6v2.6h-2.6zM321.8 89.8h2.6v2.6h-2.6zM322.8 91.4h2.6v2.6h-2.6zM323.1 93.7h2.6v2.6h-2.6zM323.6 91.7h2.6v2.6h-2.6zM324.4 96.1h2.6v2.6h-2.6zM324.7 90.6h2.6v2.6h-2.6zM324.9 94.4h2.6v2.6h-2.6zM325.2 95.0h2.6v2.6h-2.6zM325.5 97.0h2.6v2.6h-2.6zM325.7 95.8h2.6v2.6h-2.6zM326.0 94.3h2.6v2.6h-2.6zM326.2 94.0h2.6v2.6h-2.6zM326.8 93.7h2.6v2.6h-2.6zM327.0 96.3h2.6v2.6h-2.6zM327.3 92.4h2.6v2.6h-2.6zM327.6 95.0h2.6v2.6h-2.6zM327.8 93.6h2.6v2.6h-2.6zM328.1 94.4h2.6v2.6h-2.6zM328.3 93.3h2.6v2.6h-2.6zM328.6 98.5h2.6v2.6h-2.6zM328.9 92.4h2.6v2.6h-2.6zM329.1 94.4h2.6v2.6h-2.6zM329.4 94.4h2.6v2.6h-2.6zM329.7 95.2h2.6v2.6h-2.6zM329.9 94.8h2.6v2.6h-2.6zM330.5 94.7h2.6v2.6h-2.6zM330.7 96.0h2.6v2.6h-2.6zM331.0 90.6h2.6v2.6h-2.6zM331.5 93.8h2.6v2.6h-2.6zM331.8 91.1h2.6v2.6h-2.6zM332.3 94.3h2.6v2.6h-2.6zM332.6 91.2h2.6v2.6h-2.6zM332.8 91.7h2.6v2.6h-2.6zM333.4 93.7h2.6v2.6h-2.6zM333.6 96.8h2.6v2.6h-2.6zM334.1 95.0h2.6v2.6h-2.6zM334.4 94.4h2.6v2.6h-2.6zM334.7 96.8h2.6v2.6h-2.6zM334.9 91.7h2.6v2.6h-2.6zM335.2 89.2h2.6v2.6h-2.6zM335.5 92.8h2.6v2.6h-2.6zM335.7 93.1h2.6v2.6h-2.6zM336.0 96.4h2.6v2.6h-2.6zM336.2 98.3h2.6v2.6h-2.6zM336.5 90.9h2.6v2.6h-2.6zM336.8 99.0h2.6v2.6h-2.6zM337.0 97.1h2.6v2.6h-2.6zM337.3 95.5h2.6v2.6h-2.6zM337.6 94.5h2.6v2.6h-2.6zM337.8 98.9h2.6v2.6h-2.6zM338.4 93.8h2.6v2.6h-2.6zM338.6 92.6h2.6v2.6h-2.6zM338.9 93.9h2.6v2.6h-2.6zM339.1 90.7h2.6v2.6h-2.6zM339.4 94.6h2.6v2.6h-2.6zM339.7 93.4h2.6v2.6h-2.6zM339.9 94.3h2.6v2.6h-2.6zM340.5 94.3h2.6v2.6h-2.6zM340.7 91.3h2.6v2.6h-2.6zM341.0 96.3h2.6v2.6h-2.6zM341.2 91.4h2.6v2.6h-2.6zM341.5 95.4h2.6v2.6h-2.6zM341.8 90.1h2.6v2.6h-2.6zM342.0 94.3h2.6v2.6h-2.6zM342.3 91.7h2.6v2.6h-2.6zM342.8 93.5h2.6v2.6h-2.6zM343.1 92.0h2.6v2.6h-2.6zM343.4 88.8h2.6v2.6h-2.6zM343.9 91.0h2.6v2.6h-2.6zM344.1 93.5h2.6v2.6h-2.6zM344.4 94.6h2.6v2.6h-2.6zM345.2 90.2h2.6v2.6h-2.6zM345.7 88.7h2.6v2.6h-2.6zM346.0 91.4h2.6v2.6h-2.6zM346.2 92.8h2.6v2.6h-2.6zM346.5 91.9h2.6v2.6h-2.6zM346.8 91.5h2.6v2.6h-2.6zM347.0 95.0h2.6v2.6h-2.6zM347.3 95.2h2.6v2.6h-2.6zM347.6 94.7h2.6v2.6h-2.6zM347.8 91.2h2.6v2.6h-2.6zM348.1 93.3h2.6v2.6h-2.6zM348.6 92.7h2.6v2.6h-2.6zM348.9 90.1h2.6v2.6h-2.6zM349.1 94.9h2.6v2.6h-2.6zM349.4 93.2h2.6v2.6h-2.6zM349.9 92.0h2.6v2.6h-2.6zM350.5 95.9h2.6v2.6h-2.6zM350.7 94.6h2.6v2.6h-2.6zM351.0 94.7h2.6v2.6h-2.6zM351.2 95.4h2.6v2.6h-2.6zM351.8 94.4h2.6v2.6h-2.6zM352.0 90.4h2.6v2.6h-2.6zM352.3 92.2h2.6v2.6h-2.6zM352.6 95.0h2.6v2.6h-2.6zM352.8 91.4h2.6v2.6h-2.6zM353.1 93.0h2.6v2.6h-2.6zM353.4 93.8h2.6v2.6h-2.6zM353.6 95.9h2.6v2.6h-2.6zM353.9 95.6h2.6v2.6h-2.6zM354.4 94.8h2.6v2.6h-2.6zM354.7 92.7h2.6v2.6h-2.6zM355.2 94.9h2.6v2.6h-2.6zM355.5 94.2h2.6v2.6h-2.6zM355.7 92.9h2.6v2.6h-2.6zM356.2 95.9h2.6v2.6h-2.6zM356.8 94.3h2.6v2.6h-2.6zM357.3 92.0h2.6v2.6h-2.6zM357.6 96.0h2.6v2.6h-2.6zM357.8 93.1h2.6v2.6h-2.6zM358.1 94.8h2.6v2.6h-2.6zM358.4 90.8h2.6v2.6h-2.6zM358.6 93.8h2.6v2.6h-2.6zM358.9 92.1h2.6v2.6h-2.6zM359.4 92.2h2.6v2.6h-2.6zM359.7 90.5h2.6v2.6h-2.6zM359.9 98.2h2.6v2.6h-2.6zM360.2 94.0h2.6v2.6h-2.6zM360.5 94.8h2.6v2.6h-2.6zM360.7 96.5h2.6v2.6h-2.6zM361.0 94.3h2.6v2.6h-2.6zM361.2 95.5h2.6v2.6h-2.6zM361.5 92.1h2.6v2.6h-2.6zM361.8 95.1h2.6v2.6h-2.6zM362.0 94.0h2.6v2.6h-2.6zM362.6 95.9h2.6v2.6h-2.6zM362.8 95.4h2.6v2.6h-2.6zM363.1 92.6h2.6v2.6h-2.6zM363.4 91.8h2.6v2.6h-2.6zM363.6 93.4h2.6v2.6h-2.6zM363.9 96.6h2.6v2.6h-2.6zM364.4 96.2h2.6v2.6h-2.6zM364.7 96.3h2.6v2.6h-2.6zM364.9 92.1h2.6v2.6h-2.6zM365.5 91.0h2.6v2.6h-2.6zM365.7 94.8h2.6v2.6h-2.6zM366.0 95.4h2.6v2.6h-2.6zM366.2 95.0h2.6v2.6h-2.6zM366.8 96.8h2.6v2.6h-2.6zM367.0 95.9h2.6v2.6h-2.6zM367.3 94.3h2.6v2.6h-2.6zM367.6 94.9h2.6v2.6h-2.6zM367.8 96.7h2.6v2.6h-2.6zM368.1 96.7h2.6v2.6h-2.6zM368.4 96.5h2.6v2.6h-2.6zM368.6 100.5h2.6v2.6h-2.6zM368.9 96.3h2.6v2.6h-2.6zM369.1 97.0h2.6v2.6h-2.6zM369.9 95.3h2.6v2.6h-2.6zM370.2 96.5h2.6v2.6h-2.6zM370.7 98.1h2.6v2.6h-2.6zM371.0 98.3h2.6v2.6h-2.6zM371.2 97.1h2.6v2.6h-2.6zM371.5 98.1h2.6v2.6h-2.6zM371.8 97.6h2.6v2.6h-2.6zM372.0 94.4h2.6v2.6h-2.6zM372.6 92.2h2.6v2.6h-2.6zM372.8 101.7h2.6v2.6h-2.6zM373.1 99.3h2.6v2.6h-2.6zM373.4 97.8h2.6v2.6h-2.6zM373.9 95.1h2.6v2.6h-2.6zM374.1 96.0h2.6v2.6h-2.6zM374.7 100.6h2.6v2.6h-2.6zM374.9 93.6h2.6v2.6h-2.6zM375.2 97.8h2.6v2.6h-2.6zM375.5 99.9h2.6v2.6h-2.6zM376.0 98.8h2.6v2.6h-2.6zM376.2 99.9h2.6v2.6h-2.6zM376.5 98.5h2.6v2.6h-2.6zM376.8 102.9h2.6v2.6h-2.6zM377.0 97.1h2.6v2.6h-2.6zM378.1 96.8h2.6v2.6h-2.6zM378.4 99.6h2.6v2.6h-2.6zM378.6 101.6h2.6v2.6h-2.6zM379.1 99.2h2.6v2.6h-2.6zM379.4 101.2h2.6v2.6h-2.6zM379.7 98.6h2.6v2.6h-2.6zM380.5 97.7h2.6v2.6h-2.6zM381.0 102.2h2.6v2.6h-2.6zM381.2 102.6h2.6v2.6h-2.6zM381.5 102.6h2.6v2.6h-2.6zM381.8 99.3h2.6v2.6h-2.6zM382.0 98.1h2.6v2.6h-2.6zM382.3 98.2h2.6v2.6h-2.6zM382.8 99.9h2.6v2.6h-2.6zM383.1 101.4h2.6v2.6h-2.6zM383.6 101.4h2.6v2.6h-2.6zM384.4 98.2h2.6v2.6h-2.6zM384.7 101.1h2.6v2.6h-2.6zM384.9 100.8h2.6v2.6h-2.6zM385.5 101.1h2.6v2.6h-2.6zM385.7 100.9h2.6v2.6h-2.6zM386.2 100.7h2.6v2.6h-2.6zM386.5 102.1h2.6v2.6h-2.6zM386.8 101.4h2.6v2.6h-2.6zM387.0 101.6h2.6v2.6h-2.6zM387.3 100.1h2.6v2.6h-2.6zM387.6 102.0h2.6v2.6h-2.6zM387.8 101.2h2.6v2.6h-2.6zM388.1 97.8h2.6v2.6h-2.6zM388.4 102.3h2.6v2.6h-2.6zM388.6 101.1h2.6v2.6h-2.6zM388.9 103.2h2.6v2.6h-2.6zM389.1 101.4h2.6v2.6h-2.6zM389.4 101.5h2.6v2.6h-2.6zM389.9 102.2h2.6v2.6h-2.6zM390.2 101.8h2.6v2.6h-2.6zM390.5 101.1h2.6v2.6h-2.6zM391.0 98.9h2.6v2.6h-2.6zM391.2 105.2h2.6v2.6h-2.6zM391.5 99.4h2.6v2.6h-2.6zM391.8 101.6h2.6v2.6h-2.6zM392.3 103.4h2.6v2.6h-2.6zM392.6 103.0h2.6v2.6h-2.6zM392.8 103.4h2.6v2.6h-2.6zM393.1 103.8h2.6v2.6h-2.6zM393.6 104.7h2.6v2.6h-2.6zM393.9 103.1h2.6v2.6h-2.6zM394.1 107.6h2.6v2.6h-2.6zM394.4 101.0h2.6v2.6h-2.6zM394.7 103.2h2.6v2.6h-2.6zM394.9 102.2h2.6v2.6h-2.6zM395.5 102.0h2.6v2.6h-2.6zM395.7 103.5h2.6v2.6h-2.6zM396.0 105.5h2.6v2.6h-2.6zM396.2 101.9h2.6v2.6h-2.6zM396.5 101.9h2.6v2.6h-2.6zM396.8 104.4h2.6v2.6h-2.6zM397.0 104.2h2.6v2.6h-2.6zM397.3 106.7h2.6v2.6h-2.6zM397.6 105.1h2.6v2.6h-2.6zM397.8 103.8h2.6v2.6h-2.6zM398.1 102.9h2.6v2.6h-2.6zM398.4 103.9h2.6v2.6h-2.6zM398.6 103.3h2.6v2.6h-2.6zM398.9 101.3h2.6v2.6h-2.6zM399.1 103.7h2.6v2.6h-2.6zM399.4 103.5h2.6v2.6h-2.6zM399.9 103.5h2.6v2.6h-2.6zM400.2 103.2h2.6v2.6h-2.6zM400.5 106.9h2.6v2.6h-2.6zM400.7 105.2h2.6v2.6h-2.6zM401.2 105.7h2.6v2.6h-2.6zM401.8 103.2h2.6v2.6h-2.6zM402.0 102.5h2.6v2.6h-2.6zM402.3 103.8h2.6v2.6h-2.6zM402.8 104.8h2.6v2.6h-2.6zM403.1 103.9h2.6v2.6h-2.6zM403.4 104.2h2.6v2.6h-2.6zM403.6 106.2h2.6v2.6h-2.6zM403.9 105.1h2.6v2.6h-2.6zM404.1 103.0h2.6v2.6h-2.6zM404.4 104.0h2.6v2.6h-2.6zM404.7 103.6h2.6v2.6h-2.6zM404.9 105.1h2.6v2.6h-2.6zM405.2 102.8h2.6v2.6h-2.6zM405.5 104.6h2.6v2.6h-2.6zM405.7 106.1h2.6v2.6h-2.6zM406.0 105.0h2.6v2.6h-2.6zM406.2 103.4h2.6v2.6h-2.6zM406.5 104.0h2.6v2.6h-2.6zM406.8 105.3h2.6v2.6h-2.6zM407.0 106.0h2.6v2.6h-2.6zM407.3 106.6h2.6v2.6h-2.6zM407.6 104.9h2.6v2.6h-2.6zM407.8 103.0h2.6v2.6h-2.6zM408.1 107.7h2.6v2.6h-2.6zM408.4 105.8h2.6v2.6h-2.6zM408.6 106.1h2.6v2.6h-2.6zM408.9 105.9h2.6v2.6h-2.6zM409.1 103.6h2.6v2.6h-2.6zM409.9 105.0h2.6v2.6h-2.6zM410.2 106.0h2.6v2.6h-2.6zM410.5 107.4h2.6v2.6h-2.6zM410.7 105.8h2.6v2.6h-2.6zM411.0 100.3h2.6v2.6h-2.6zM411.3 105.3h2.6v2.6h-2.6zM411.5 106.4h2.6v2.6h-2.6zM411.8 108.0h2.6v2.6h-2.6zM412.0 107.1h2.6v2.6h-2.6zM412.3 110.2h2.6v2.6h-2.6zM412.6 108.4h2.6v2.6h-2.6zM412.8 108.3h2.6v2.6h-2.6zM413.1 107.6h2.6v2.6h-2.6zM413.4 103.6h2.6v2.6h-2.6zM413.6 107.5h2.6v2.6h-2.6zM413.9 107.1h2.6v2.6h-2.6zM414.1 105.2h2.6v2.6h-2.6zM414.4 107.2h2.6v2.6h-2.6zM414.7 106.9h2.6v2.6h-2.6zM414.9 105.4h2.6v2.6h-2.6zM415.2 106.0h2.6v2.6h-2.6zM415.5 105.8h2.6v2.6h-2.6zM415.7 106.7h2.6v2.6h-2.6zM416.3 105.6h2.6v2.6h-2.6zM416.5 107.4h2.6v2.6h-2.6zM416.8 103.1h2.6v2.6h-2.6zM417.0 106.0h2.6v2.6h-2.6zM417.6 103.6h2.6v2.6h-2.6zM417.8 105.7h2.6v2.6h-2.6zM418.1 107.5h2.6v2.6h-2.6zM418.4 106.7h2.6v2.6h-2.6zM418.6 106.5h2.6v2.6h-2.6zM418.9 106.8h2.6v2.6h-2.6zM419.1 109.5h2.6v2.6h-2.6zM419.7 104.9h2.6v2.6h-2.6zM419.9 108.4h2.6v2.6h-2.6zM420.2 104.3h2.6v2.6h-2.6zM420.5 106.1h2.6v2.6h-2.6zM420.7 107.2h2.6v2.6h-2.6zM421.0 105.5h2.6v2.6h-2.6zM421.3 107.3h2.6v2.6h-2.6zM421.5 108.3h2.6v2.6h-2.6zM421.8 105.0h2.6v2.6h-2.6zM422.0 106.9h2.6v2.6h-2.6zM422.3 106.4h2.6v2.6h-2.6zM422.8 103.8h2.6v2.6h-2.6zM423.6 106.9h2.6v2.6h-2.6zM423.9 105.8h2.6v2.6h-2.6zM424.1 109.5h2.6v2.6h-2.6zM424.4 105.7h2.6v2.6h-2.6zM424.7 110.2h2.6v2.6h-2.6zM425.2 106.3h2.6v2.6h-2.6zM425.5 110.6h2.6v2.6h-2.6zM425.7 108.2h2.6v2.6h-2.6zM426.0 108.1h2.6v2.6h-2.6zM426.3 108.7h2.6v2.6h-2.6zM426.5 108.8h2.6v2.6h-2.6zM426.8 109.7h2.6v2.6h-2.6zM427.0 110.3h2.6v2.6h-2.6zM427.3 106.7h2.6v2.6h-2.6zM427.6 105.1h2.6v2.6h-2.6zM427.8 102.6h2.6v2.6h-2.6zM428.1 106.6h2.6v2.6h-2.6zM428.4 108.6h2.6v2.6h-2.6zM428.6 107.9h2.6v2.6h-2.6zM428.9 107.4h2.6v2.6h-2.6zM429.1 106.6h2.6v2.6h-2.6zM429.4 106.1h2.6v2.6h-2.6zM429.7 106.7h2.6v2.6h-2.6zM429.9 107.8h2.6v2.6h-2.6zM430.5 104.0h2.6v2.6h-2.6zM430.7 108.4h2.6v2.6h-2.6zM431.0 104.5h2.6v2.6h-2.6zM431.3 106.8h2.6v2.6h-2.6zM431.5 105.9h2.6v2.6h-2.6zM431.8 106.4h2.6v2.6h-2.6zM432.0 105.2h2.6v2.6h-2.6zM432.3 105.0h2.6v2.6h-2.6zM432.6 106.5h2.6v2.6h-2.6zM432.8 105.0h2.6v2.6h-2.6zM433.1 111.2h2.6v2.6h-2.6zM433.4 106.2h2.6v2.6h-2.6zM433.6 105.7h2.6v2.6h-2.6zM433.9 105.9h2.6v2.6h-2.6zM434.1 104.9h2.6v2.6h-2.6zM434.4 102.5h2.6v2.6h-2.6zM434.7 106.3h2.6v2.6h-2.6zM435.2 107.3h2.6v2.6h-2.6zM435.5 104.1h2.6v2.6h-2.6zM436.0 106.7h2.6v2.6h-2.6zM436.3 104.6h2.6v2.6h-2.6zM436.5 106.6h2.6v2.6h-2.6zM436.8 107.3h2.6v2.6h-2.6zM437.3 107.5h2.6v2.6h-2.6zM437.6 107.4h2.6v2.6h-2.6zM438.1 105.3h2.6v2.6h-2.6zM438.4 108.1h2.6v2.6h-2.6zM438.6 105.8h2.6v2.6h-2.6zM438.9 107.2h2.6v2.6h-2.6zM439.1 107.8h2.6v2.6h-2.6zM439.4 106.0h2.6v2.6h-2.6zM439.7 104.3h2.6v2.6h-2.6zM439.9 107.7h2.6v2.6h-2.6zM440.5 104.7h2.6v2.6h-2.6zM440.7 105.1h2.6v2.6h-2.6zM441.3 104.7h2.6v2.6h-2.6zM442.0 108.2h2.6v2.6h-2.6zM442.3 106.4h2.6v2.6h-2.6zM442.6 102.8h2.6v2.6h-2.6zM442.8 108.0h2.6v2.6h-2.6zM443.1 110.4h2.6v2.6h-2.6zM443.4 109.9h2.6v2.6h-2.6zM443.6 105.8h2.6v2.6h-2.6zM444.1 107.0h2.6v2.6h-2.6zM444.7 107.8h2.6v2.6h-2.6zM444.9 108.5h2.6v2.6h-2.6zM445.2 107.0h2.6v2.6h-2.6zM445.5 105.1h2.6v2.6h-2.6zM445.7 108.3h2.6v2.6h-2.6zM446.3 108.1h2.6v2.6h-2.6zM446.5 104.8h2.6v2.6h-2.6zM446.8 106.5h2.6v2.6h-2.6zM447.0 107.6h2.6v2.6h-2.6zM447.3 107.2h2.6v2.6h-2.6zM447.6 108.1h2.6v2.6h-2.6zM447.8 108.7h2.6v2.6h-2.6zM448.1 108.3h2.6v2.6h-2.6zM448.4 107.1h2.6v2.6h-2.6zM448.6 105.0h2.6v2.6h-2.6zM448.9 108.5h2.6v2.6h-2.6zM449.1 109.9h2.6v2.6h-2.6zM449.4 111.0h2.6v2.6h-2.6zM449.9 107.6h2.6v2.6h-2.6zM450.2 107.6h2.6v2.6h-2.6zM450.5 110.3h2.6v2.6h-2.6zM450.7 110.3h2.6v2.6h-2.6zM451.0 108.5h2.6v2.6h-2.6zM451.3 109.2h2.6v2.6h-2.6zM451.5 106.7h2.6v2.6h-2.6zM452.0 109.2h2.6v2.6h-2.6zM452.6 106.9h2.6v2.6h-2.6zM452.8 108.1h2.6v2.6h-2.6zM453.1 108.3h2.6v2.6h-2.6zM453.4 107.8h2.6v2.6h-2.6zM453.6 105.0h2.6v2.6h-2.6zM453.9 107.3h2.6v2.6h-2.6zM454.1 109.5h2.6v2.6h-2.6zM454.4 108.9h2.6v2.6h-2.6zM454.7 108.4h2.6v2.6h-2.6zM454.9 110.0h2.6v2.6h-2.6zM455.2 110.5h2.6v2.6h-2.6zM455.5 110.9h2.6v2.6h-2.6zM455.7 108.2h2.6v2.6h-2.6zM456.0 109.7h2.6v2.6h-2.6zM456.3 109.2h2.6v2.6h-2.6zM456.5 108.4h2.6v2.6h-2.6zM456.8 107.4h2.6v2.6h-2.6zM457.0 110.0h2.6v2.6h-2.6zM457.6 108.9h2.6v2.6h-2.6zM457.8 114.3h2.6v2.6h-2.6zM458.1 110.5h2.6v2.6h-2.6zM458.4 110.4h2.6v2.6h-2.6zM458.9 110.3h2.6v2.6h-2.6zM459.1 114.4h2.6v2.6h-2.6zM459.4 109.5h2.6v2.6h-2.6zM459.7 111.0h2.6v2.6h-2.6zM460.2 110.1h2.6v2.6h-2.6zM460.5 111.3h2.6v2.6h-2.6zM460.7 111.5h2.6v2.6h-2.6zM461.0 113.5h2.6v2.6h-2.6zM461.5 109.2h2.6v2.6h-2.6zM462.0 111.8h2.6v2.6h-2.6zM462.3 114.8h2.6v2.6h-2.6zM462.6 111.1h2.6v2.6h-2.6zM462.8 111.7h2.6v2.6h-2.6zM463.1 110.5h2.6v2.6h-2.6zM463.4 107.5h2.6v2.6h-2.6zM463.6 112.0h2.6v2.6h-2.6zM463.9 114.3h2.6v2.6h-2.6zM464.1 111.5h2.6v2.6h-2.6zM464.4 109.1h2.6v2.6h-2.6zM464.9 112.9h2.6v2.6h-2.6zM465.2 112.6h2.6v2.6h-2.6zM465.5 114.3h2.6v2.6h-2.6zM465.7 114.2h2.6v2.6h-2.6zM466.0 112.2h2.6v2.6h-2.6zM466.3 113.4h2.6v2.6h-2.6zM466.5 109.6h2.6v2.6h-2.6zM466.8 114.7h2.6v2.6h-2.6zM467.0 113.1h2.6v2.6h-2.6zM467.3 114.8h2.6v2.6h-2.6zM467.6 114.8h2.6v2.6h-2.6zM467.8 112.4h2.6v2.6h-2.6zM468.1 112.7h2.6v2.6h-2.6zM468.4 111.5h2.6v2.6h-2.6zM468.6 109.4h2.6v2.6h-2.6zM468.9 112.9h2.6v2.6h-2.6zM469.1 113.4h2.6v2.6h-2.6zM469.4 111.2h2.6v2.6h-2.6zM469.7 114.4h2.6v2.6h-2.6zM469.9 113.4h2.6v2.6h-2.6zM470.5 114.1h2.6v2.6h-2.6zM470.7 112.0h2.6v2.6h-2.6zM471.0 110.3h2.6v2.6h-2.6zM471.5 114.9h2.6v2.6h-2.6zM471.8 114.7h2.6v2.6h-2.6zM472.3 113.6h2.6v2.6h-2.6zM472.8 113.2h2.6v2.6h-2.6zM473.1 113.5h2.6v2.6h-2.6zM473.4 113.8h2.6v2.6h-2.6zM473.6 113.2h2.6v2.6h-2.6zM473.9 110.6h2.6v2.6h-2.6zM474.1 115.6h2.6v2.6h-2.6zM474.4 111.7h2.6v2.6h-2.6zM474.7 113.8h2.6v2.6h-2.6zM474.9 113.9h2.6v2.6h-2.6zM475.2 114.9h2.6v2.6h-2.6zM475.5 111.7h2.6v2.6h-2.6zM475.7 116.7h2.6v2.6h-2.6zM476.8 116.0h2.6v2.6h-2.6zM477.0 116.2h2.6v2.6h-2.6zM477.3 117.2h2.6v2.6h-2.6zM477.6 113.6h2.6v2.6h-2.6zM477.8 109.5h2.6v2.6h-2.6zM478.1 115.7h2.6v2.6h-2.6zM478.4 117.5h2.6v2.6h-2.6zM478.6 117.3h2.6v2.6h-2.6zM478.9 114.4h2.6v2.6h-2.6zM479.1 115.2h2.6v2.6h-2.6zM479.4 115.9h2.6v2.6h-2.6zM479.7 112.3h2.6v2.6h-2.6zM479.9 114.3h2.6v2.6h-2.6zM480.7 114.6h2.6v2.6h-2.6zM481.0 118.5h2.6v2.6h-2.6zM481.3 114.7h2.6v2.6h-2.6zM481.8 118.7h2.6v2.6h-2.6zM482.0 116.0h2.6v2.6h-2.6zM482.3 113.1h2.6v2.6h-2.6zM482.6 120.0h2.6v2.6h-2.6zM482.8 114.4h2.6v2.6h-2.6zM483.1 117.3h2.6v2.6h-2.6zM483.4 119.3h2.6v2.6h-2.6zM483.6 115.4h2.6v2.6h-2.6zM483.9 114.2h2.6v2.6h-2.6zM484.2 118.3h2.6v2.6h-2.6zM484.4 116.6h2.6v2.6h-2.6zM484.7 114.4h2.6v2.6h-2.6zM484.9 114.7h2.6v2.6h-2.6zM485.2 116.0h2.6v2.6h-2.6zM485.5 118.4h2.6v2.6h-2.6zM485.7 116.3h2.6v2.6h-2.6zM486.0 118.0h2.6v2.6h-2.6zM486.3 119.8h2.6v2.6h-2.6zM486.5 119.2h2.6v2.6h-2.6zM486.8 119.6h2.6v2.6h-2.6zM487.0 119.2h2.6v2.6h-2.6zM487.3 114.3h2.6v2.6h-2.6zM487.6 119.3h2.6v2.6h-2.6zM487.8 117.8h2.6v2.6h-2.6zM488.1 117.1h2.6v2.6h-2.6zM488.4 115.4h2.6v2.6h-2.6zM488.6 114.6h2.6v2.6h-2.6zM488.9 115.5h2.6v2.6h-2.6zM489.2 117.5h2.6v2.6h-2.6zM489.4 115.5h2.6v2.6h-2.6zM489.7 116.2h2.6v2.6h-2.6zM489.9 116.6h2.6v2.6h-2.6zM490.2 118.9h2.6v2.6h-2.6zM490.5 117.3h2.6v2.6h-2.6zM490.7 117.6h2.6v2.6h-2.6zM491.0 120.3h2.6v2.6h-2.6zM491.3 117.4h2.6v2.6h-2.6zM491.5 119.1h2.6v2.6h-2.6zM491.8 116.2h2.6v2.6h-2.6zM492.0 118.7h2.6v2.6h-2.6zM492.3 118.4h2.6v2.6h-2.6zM492.6 118.6h2.6v2.6h-2.6zM492.8 117.5h2.6v2.6h-2.6zM493.1 116.6h2.6v2.6h-2.6zM493.4 117.9h2.6v2.6h-2.6zM493.6 117.7h2.6v2.6h-2.6zM493.9 120.4h2.6v2.6h-2.6zM494.2 120.2h2.6v2.6h-2.6zM494.4 116.5h2.6v2.6h-2.6zM494.7 119.8h2.6v2.6h-2.6zM494.9 117.9h2.6v2.6h-2.6zM495.2 119.7h2.6v2.6h-2.6zM495.5 118.1h2.6v2.6h-2.6zM496.0 116.4h2.6v2.6h-2.6zM496.3 120.9h2.6v2.6h-2.6zM496.5 119.9h2.6v2.6h-2.6zM496.8 117.0h2.6v2.6h-2.6zM497.0 115.9h2.6v2.6h-2.6zM497.3 118.4h2.6v2.6h-2.6zM497.6 117.3h2.6v2.6h-2.6zM497.8 118.8h2.6v2.6h-2.6zM498.1 120.6h2.6v2.6h-2.6zM498.4 122.2h2.6v2.6h-2.6zM498.6 119.0h2.6v2.6h-2.6zM498.9 122.1h2.6v2.6h-2.6zM499.2 121.9h2.6v2.6h-2.6zM499.4 119.1h2.6v2.6h-2.6zM499.9 117.1h2.6v2.6h-2.6zM500.2 121.7h2.6v2.6h-2.6zM500.5 121.4h2.6v2.6h-2.6zM500.7 124.6h2.6v2.6h-2.6zM501.5 123.2h2.6v2.6h-2.6zM501.8 122.1h2.6v2.6h-2.6zM502.0 123.8h2.6v2.6h-2.6zM502.3 119.1h2.6v2.6h-2.6zM502.6 121.4h2.6v2.6h-2.6zM502.8 120.6h2.6v2.6h-2.6zM503.1 124.3h2.6v2.6h-2.6zM503.4 122.3h2.6v2.6h-2.6zM503.6 115.9h2.6v2.6h-2.6zM503.9 123.9h2.6v2.6h-2.6zM504.2 119.9h2.6v2.6h-2.6zM504.4 123.0h2.6v2.6h-2.6zM504.7 120.9h2.6v2.6h-2.6zM504.9 122.2h2.6v2.6h-2.6zM505.2 123.0h2.6v2.6h-2.6zM505.5 122.3h2.6v2.6h-2.6zM505.7 120.4h2.6v2.6h-2.6zM506.0 124.6h2.6v2.6h-2.6zM506.5 123.0h2.6v2.6h-2.6zM506.8 122.4h2.6v2.6h-2.6zM507.0 123.7h2.6v2.6h-2.6zM507.3 121.6h2.6v2.6h-2.6zM507.6 126.0h2.6v2.6h-2.6zM507.8 123.1h2.6v2.6h-2.6zM508.1 123.4h2.6v2.6h-2.6zM508.4 123.5h2.6v2.6h-2.6zM508.6 121.3h2.6v2.6h-2.6zM509.2 121.0h2.6v2.6h-2.6zM509.4 123.6h2.6v2.6h-2.6zM509.7 123.9h2.6v2.6h-2.6zM509.9 125.7h2.6v2.6h-2.6zM510.2 124.2h2.6v2.6h-2.6zM510.5 121.5h2.6v2.6h-2.6zM510.7 124.5h2.6v2.6h-2.6zM511.0 125.0h2.6v2.6h-2.6zM511.3 125.4h2.6v2.6h-2.6zM511.5 124.2h2.6v2.6h-2.6zM511.8 121.4h2.6v2.6h-2.6zM512.0 125.7h2.6v2.6h-2.6zM512.3 122.4h2.6v2.6h-2.6zM512.6 124.7h2.6v2.6h-2.6zM512.8 120.9h2.6v2.6h-2.6zM513.1 125.1h2.6v2.6h-2.6zM513.4 122.3h2.6v2.6h-2.6zM513.6 125.7h2.6v2.6h-2.6zM513.9 126.9h2.6v2.6h-2.6zM514.2 125.8h2.6v2.6h-2.6zM514.4 121.7h2.6v2.6h-2.6zM514.7 122.1h2.6v2.6h-2.6zM514.9 122.2h2.6v2.6h-2.6zM515.2 125.0h2.6v2.6h-2.6zM515.5 124.4h2.6v2.6h-2.6zM515.7 124.1h2.6v2.6h-2.6zM516.0 124.3h2.6v2.6h-2.6zM516.8 124.8h2.6v2.6h-2.6zM517.0 124.9h2.6v2.6h-2.6zM517.3 126.8h2.6v2.6h-2.6zM517.6 123.7h2.6v2.6h-2.6zM518.1 124.1h2.6v2.6h-2.6zM518.4 120.4h2.6v2.6h-2.6zM518.6 121.4h2.6v2.6h-2.6zM518.9 122.5h2.6v2.6h-2.6zM519.2 121.6h2.6v2.6h-2.6zM519.7 124.1h2.6v2.6h-2.6zM519.9 125.6h2.6v2.6h-2.6zM520.2 122.9h2.6v2.6h-2.6zM520.7 122.8h2.6v2.6h-2.6zM521.0 122.8h2.6v2.6h-2.6zM522.0 123.9h2.6v2.6h-2.6zM522.3 122.7h2.6v2.6h-2.6zM522.6 124.4h2.6v2.6h-2.6zM522.8 124.1h2.6v2.6h-2.6zM523.1 124.2h2.6v2.6h-2.6zM523.6 124.9h2.6v2.6h-2.6zM523.9 123.6h2.6v2.6h-2.6zM524.2 123.8h2.6v2.6h-2.6zM524.4 126.7h2.6v2.6h-2.6zM524.7 123.4h2.6v2.6h-2.6zM524.9 124.9h2.6v2.6h-2.6zM525.5 123.6h2.6v2.6h-2.6zM525.7 122.7h2.6v2.6h-2.6zM526.0 122.6h2.6v2.6h-2.6zM526.3 122.0h2.6v2.6h-2.6zM526.5 123.5h2.6v2.6h-2.6zM526.8 122.3h2.6v2.6h-2.6zM527.3 122.6h2.6v2.6h-2.6zM527.6 125.6h2.6v2.6h-2.6zM528.4 123.1h2.6v2.6h-2.6zM528.6 125.4h2.6v2.6h-2.6zM529.2 123.8h2.6v2.6h-2.6zM529.4 124.8h2.6v2.6h-2.6zM529.7 122.2h2.6v2.6h-2.6zM529.9 123.5h2.6v2.6h-2.6zM530.5 127.9h2.6v2.6h-2.6zM530.7 124.7h2.6v2.6h-2.6zM531.0 125.0h2.6v2.6h-2.6zM531.3 123.6h2.6v2.6h-2.6zM531.8 124.7h2.6v2.6h-2.6zM532.0 121.0h2.6v2.6h-2.6zM61.7 39.2h2.6v2.6h-2.6zM149.0 50.7h2.6v2.6h-2.6zM149.3 53.5h2.6v2.6h-2.6zM144.0 70.3h2.6v2.6h-2.6zM144.2 73.6h2.6v2.6h-2.6zM117.6 73.1h2.6v2.6h-2.6zM186.5 53.5h2.6v2.6h-2.6zM222.5 58.3h2.6v2.6h-2.6zM222.6 60.5h2.6v2.6h-2.6zM229.2 87.3h2.6v2.6h-2.6zM229.7 89.3h2.6v2.6h-2.6zM230.2 91.1h2.6v2.6h-2.6zM231.0 88.2h2.6v2.6h-2.6zM194.2 76.9h2.6v2.6h-2.6zM279.1 74.6h2.6v2.6h-2.6zM285.2 83.1h2.6v2.6h-2.6zM299.8 99.1h2.6v2.6h-2.6zM333.6 101.2h2.6v2.6h-2.6zM333.8 104.5h2.6v2.6h-2.6zM347.8 86.3h2.6v2.6h-2.6zM366.2 69.6h2.6v2.6h-2.6zM390.2 94.3h2.6v2.6h-2.6zM448.6 90.3h2.6v2.6h-2.6zM456.7 99.5h2.6v2.6h-2.6zM457.0 101.7h2.6v2.6h-2.6zM456.5 103.9h2.6v2.6h-2.6zM457.2 105.7h2.6v2.6h-2.6zM443.7 112.2h2.6v2.6h-2.6z"/>
<path clip-path="url(#c0)" fill="none" stroke="#f00000" stroke-width="1.3" d="M62.0 47.5 63.5 47.6 65.0 47.7 66.5 47.9 68.0 48.1 69.5 48.3 71.0 48.6 72.5 48.9 74.0 49.3 75.5 49.7 77.0 50.2 78.5 50.7 80.0 51.2 81.5 51.7 83.0 52.2 84.5 52.8 86.0 53.3 87.5 53.8 89.0 54.4 90.5 54.9 92.0 55.3 93.5 55.8 95.0 56.2 96.5 56.6 98.0 56.9 99.5 57.3 101.0 57.6 102.5 58.0 104.0 58.3 105.5 58.6 107.0 59.0 108.5 59.3 110.0 59.6 111.5 59.9 113.0 60.2 114.5 60.5 116.0 60.7 117.5 60.8 119.0 61.0 120.5 61.2 122.0 61.3 123.5 61.5 125.0 61.7 126.5 61.9 128.0 62.1 129.5 62.3 131.0 62.5 132.5 62.6 134.0 62.8 135.5 62.9 137.0 63.0 138.5 63.1 140.0 63.1 141.5 63.1 143.0 63.1 144.5 63.1 146.0 63.0 147.5 62.9 149.0 62.8 150.5 62.7 152.0 62.7 153.5 62.7 155.0 62.7 156.5 62.7 158.0 62.8 159.5 62.9 161.0 63.1 162.5 63.3 164.0 63.5 165.5 63.8 167.0 64.3 168.5 64.8 170.0 65.4 171.5 66.0 173.0 66.7 174.5 67.3 176.0 67.8 177.5 68.4 179.0 68.9 180.5 69.4 182.0 69.9 183.5 70.4 185.0 70.8 186.5 71.2 188.0 71.6 189.5 72.0 191.0 72.3 192.5 72.6 194.0 72.9 195.5 73.2 197.0 73.5 198.5 73.8 200.0 74.1 201.5 74.3 203.0 74.6 204.5 74.8 206.0 75.1 207.5 75.3 209.0 75.6 210.5 75.9 212.0 76.1 213.5 76.4 215.0 76.6 216.5 76.8 218.0 77.1 219.5 77.3 221.0 77.4 222.5 77.6 224.0 77.8 225.5 77.9 227.0 78.0 228.5 78.1 230.0 78.2 231.5 78.3 233.0 78.3 234.5 78.4 236.0 78.4 237.5 78.5 239.0 78.5 240.5 78.5 242.0 78.5 243.5 78.5 245.0 78.5 246.5 78.5 248.0 78.5 249.5 78.5 251.0 78.6 252.5 78.7 254.0 78.9 255.5 79.1 257.0 79.5 258.5 79.9 260.0 80.4 261.5 80.8 263.0 81.3 264.5 81.7 266.0 82.2 267.5 82.6 269.0 83.1 270.5 83.5 272.0 83.9 273.5 84.3 275.0 84.7 276.5 85.1 278.0 85.4 279.5 85.8 281.0 86.1 282.5 86.4 284.0 86.7 285.5 86.9 287.0 87.2 288.5 87.4 290.0 87.6 291.5 87.8 293.0 88.0 294.5 88.3 296.0 88.5 297.5 88.8 299.0 89.0 300.5 89.3 302.0 89.6 303.5 89.9 305.0 90.2 306.5 90.5 308.0 90.8 309.5 91.2 311.0 91.5 312.5 91.8 314.0 92.1 315.5 92.4 317.0 92.6 318.5 92.9 320.0 93.1 321.5 93.3 323.0 93.4 324.5 93.6 326.0 93.7 327.5 93.7 329.0 93.8 330.5 93.8 332.0 93.8 333.5 93.8 335.0 93.8 336.5 93.8 338.0 93.8 339.5 93.8 341.0 93.7 342.5 93.7 344.0 93.6 345.5 93.5 347.0 93.5 348.5 93.4 350.0 93.4 351.5 93.4 353.0 93.5 354.5 93.6 356.0 93.9 357.5 94.2 359.0 94.6 360.5 95.2 362.0 95.7 363.5 96.3 365.0 96.9 366.5 97.4 368.0 97.9 369.5 98.4 371.0 98.9 372.5 99.4 374.0 99.9 375.5 100.4 377.0 100.8 378.5 101.3 380.0 101.7 381.5 102.1 383.0 102.5 384.5 102.9 386.0 103.2 387.5 103.5 389.0 103.8 390.5 104.1 392.0 104.4 393.5 104.7 395.0 105.0 396.5 105.3 398.0 105.6 399.5 105.9 401.0 106.2 402.5 106.5 404.0 106.8 405.5 107.1 407.0 107.3 408.5 107.5 410.0 107.8 411.5 108.0 413.0 108.2 414.5 108.4 416.0 108.6 417.5 108.7 419.0 108.9 420.5 109.1 422.0 109.3 423.5 109.4 425.0 109.5 426.5 109.6 428.0 109.6 429.5 109.6 431.0 109.5 432.5 109.4 434.0 109.3 435.5 109.1 437.0 109.0 438.5 108.9 440.0 108.9 441.5 108.9 443.0 108.9 444.5 108.9 446.0 109.0 447.5 109.1 449.0 109.3 450.5 109.4 452.0 109.7 453.5 110.0 455.0 110.5 456.5 111.1 458.0 111.7 459.5 112.4 461.0 113.0 462.5 113.6 464.0 114.2 465.5 114.7 467.0 115.2 468.5 115.7 470.0 116.1 471.5 116.5 473.0 116.9 474.5 117.3 476.0 117.6 477.5 117.9 479.0 118.2 480.5 118.5 482.0 118.8 483.5 119.1 485.0 119.4 486.5 119.7 488.0 120.0 489.5 120.3 491.0 120.6 492.5 120.9 494.0 121.2 495.5 121.5 497.0 121.8 498.5 122.1 500.0 122.4 501.5 122.7 503.0 123.0 504.5 123.3 506.0 123.5 507.5 123.7 509.0 123.9 510.5 124.1 512.0 124.3 513.5 124.5 515.0 124.6 516.5 124.6 518.0 124.7 519.5 124.7 521.0 124.7 522.5 124.7 524.0 124.7 525.5 124.6 527.0 124.6 528.5 124.6 530.0 124.5 531.5 124.4 533.0 124.4"/>
<path clip-path="url(#c1)" fill="#000" d="M60.7 264.8h2.6v2.6h-2.6zM61.2 266.9h2.6v2.6h-2.6zM61.5 266.3h2.6v2.6h-2.6zM61.8 266.2h2.6v2.6h-2.6zM62.3 267.9h2.6v2.6h-2.6zM62.5 262.2h2.6v2.6h-2.6zM62.8 263.4h2.6v2.6h-2.6zM63.1 261.9h2.6v2.6h-2.6zM63.3 264.3h2.6v2.6h-2.6zM63.6 266.5h2.6v2.6h-2.6zM63.9 264.4h2.6v2.6h-2.6zM64.1 265.4h2.6v2.6h-2.6zM64.4 260.6h2.6v2.6h-2.6zM64.6 264.6h2.6v2.6h-2.6zM65.2 262.4h2.6v2.6h-2.6zM65.4 267.7h2.6v2.6h-2.6zM66.0 265.9h2.6v2.6h-2.6zM66.2 266.0h2.6v2.6h-2.6zM66.5 263.9h2.6v2.6h-2.6zM66.8 265.2h2.6v2.6h-2.6zM67.0 265.2h2.6v2.6h-2.6zM67.3 263.2h2.6v2.6h-2.6zM67.5 262.8h2.6v2.6h-2.6zM68.1 263.5h2.6v2.6h-2.6zM68.3 262.5h2.6v2.6h-2.6zM68.6 262.4h2.6v2.6h-2.6zM68.9 263.0h2.6v2.6h-2.6zM69.1 262.1h2.6v2.6h-2.6zM69.4 265.0h2.6v2.6h-2.6zM69.6 260.2h2.6v2.6h-2.6zM69.9 265.0h2.6v2.6h-2.6zM70.2 262.1h2.6v2.6h-2.6zM70.4 262.2h2.6v2.6h-2.6zM70.7 260.5h2.6v2.6h-2.6zM71.0 262.9h2.6v2.6h-2.6zM71.2 262.6h2.6v2.6h-2.6zM71.8 263.4h2.6v2.6h-2.6zM72.0 261.9h2.6v2.6h-2.6zM72.3 263.1h2.6v2.6h-2.6zM72.5 266.5h2.6v2.6h-2.6zM72.8 263.6h2.6v2.6h-2.6zM73.1 261.6h2.6v2.6h-2.6zM73.3 264.6h2.6v2.6h-2.6zM73.9 262.3h2.6v2.6h-2.6zM74.1 263.7h2.6v2.6h-2.6zM74.4 263.6h2.6v2.6h-2.6zM74.6 261.6h2.6v2.6h-2.6zM74.9 258.4h2.6v2.6h-2.6zM75.2 261.5h2.6v2.6h-2.6zM75.4 263.3h2.6v2.6h-2.6zM75.7 261.4h2.6v2.6h-2.6zM76.2 262.9h2.6v2.6h-2.6zM76.5 263.9h2.6v2.6h-2.6zM76.8 260.8h2.6v2.6h-2.6zM77.0 264.3h2.6v2.6h-2.6zM77.3 265.0h2.6v2.6h-2.6zM77.5 263.8h2.6v2.6h-2.6zM77.8 263.9h2.6v2.6h-2.6zM78.1 263.7h2.6v2.6h-2.6zM78.3 266.0h2.6v2.6h-2.6zM78.9 261.7h2.6v2.6h-2.6zM79.1 261.3h2.6v2.6h-2.6zM79.4 262.4h2.6v2.6h-2.6zM79.9 259.3h2.6v2.6h-2.6zM80.2 257.9h2.6v2.6h-2.6zM80.4 259.2h2.6v2.6h-2.6zM81.2 261.5h2.6v2.6h-2.6zM81.5 261.6h2.6v2.6h-2.6zM81.8 257.5h2.6v2.6h-2.6zM82.3 256.7h2.6v2.6h-2.6zM82.5 259.8h2.6v2.6h-2.6zM83.1 259.9h2.6v2.6h-2.6zM83.3 260.1h2.6v2.6h-2.6zM83.6 261.5h2.6v2.6h-2.6zM83.9 262.5h2.6v2.6h-2.6zM84.1 260.4h2.6v2.6h-2.6zM84.4 261.1h2.6v2.6h-2.6zM84.9 257.6h2.6v2.6h-2.6zM85.2 257.3h2.6v2.6h-2.6zM85.4 260.1h2.6v2.6h-2.6zM85.7 260.9h2.6v2.6h-2.6zM86.0 260.9h2.6v2.6h-2.6zM86.2 260.6h2.6v2.6h-2.6zM86.5 260.9h2.6v2.6h-2.6zM86.8 260.8h2.6v2.6h-2.6zM87.3 255.6h2.6v2.6h-2.6zM87.5 257.5h2.6v2.6h-2.6zM87.8 259.8h2.6v2.6h-2.6zM88.3 259.9h2.6v2.6h-2.6zM88.6 255.6h2.6v2.6h-2.6zM88.9 260.9h2.6v2.6h-2.6zM89.1 257.6h2.6v2.6h-2.6zM89.4 257.9h2.6v2.6h-2.6zM89.6 258.9h2.6v2.6h-2.6zM90.2 259.7h2.6v2.6h-2.6zM90.7 255.1h2.6v2.6h-2.6zM91.0 259.9h2.6v2.6h-2.6zM91.2 258.0h2.6v2.6h-2.6zM91.5 256.2h2.6v2.6h-2.6zM91.8 257.1h2.6v2.6h-2.6zM92.0 253.2h2.6v2.6h-2.6zM92.3 256.2h2.6v2.6h-2.6zM92.5 257.7h2.6v2.6h-2.6zM92.8 255.9h2.6v2.6h-2.6zM93.1 256.5h2.6v2.6h-2.6zM93.3 256.8h2.6v2.6h-2.6zM93.6 257.1h2.6v2.6h-2.6zM93.9 259.0h2.6v2.6h-2.6zM94.1 256.8h2.6v2.6h-2.6zM94.4 256.2h2.6v2.6h-2.6zM94.6 257.7h2.6v2.6h-2.6zM95.2 260.6h2.6v2.6h-2.6zM95.4 255.7h2.6v2.6h-2.6zM95.7 257.3h2.6v2.6h-2.6zM96.2 252.9h2.6v2.6h-2.6zM96.8 258.5h2.6v2.6h-2.6zM97.0 257.1h2.6v2.6h-2.6zM97.5 258.2h2.6v2.6h-2.6zM97.8 255.3h2.6v2.6h-2.6zM98.1 253.3h2.6v2.6h-2.6zM98.6 256.9h2.6v2.6h-2.6zM99.1 256.5h2.6v2.6h-2.6zM99.4 253.1h2.6v2.6h-2.6zM99.7 251.8h2.6v2.6h-2.6zM100.2 255.5h2.6v2.6h-2.6zM100.4 254.1h2.6v2.6h-2.6zM100.7 259.6h2.6v2.6h-2.6zM101.0 253.1h2.6v2.6h-2.6zM101.2 253.1h2.6v2.6h-2.6zM101.8 253.8h2.6v2.6h-2.6zM102.0 250.6h2.6v2.6h-2.6zM102.3 252.0h2.6v2.6h-2.6zM102.5 257.0h2.6v2.6h-2.6zM102.8 253.4h2.6v2.6h-2.6zM103.3 252.2h2.6v2.6h-2.6zM103.6 250.8h2.6v2.6h-2.6zM103.9 254.4h2.6v2.6h-2.6zM104.1 254.5h2.6v2.6h-2.6zM104.4 253.6h2.6v2.6h-2.6zM104.7 252.2h2.6v2.6h-2.6zM104.9 253.5h2.6v2.6h-2.6zM105.4 253.4h2.6v2.6h-2.6zM105.7 251.2h2.6v2.6h-2.6zM106.0 253.7h2.6v2.6h-2.6zM106.2 248.2h2.6v2.6h-2.6zM106.5 249.7h2.6v2.6h-2.6zM106.8 251.6h2.6v2.6h-2.6zM107.0 251.9h2.6v2.6h-2.6zM107.3 249.7h2.6v2.6h-2.6zM107.5 252.6h2.6v2.6h-2.6zM107.8 254.0h2.6v2.6h-2.6zM108.3 252.6h2.6v2.6h-2.6zM108.9 252.0h2.6v2.6h-2.6zM109.4 253.0h2.6v2.6h-2.6zM109.7 252.1h2.6v2.6h-2.6zM109.9 248.9h2.6v2.6h-2.6zM110.2 250.8h2.6v2.6h-2.6zM110.4 253.7h2.6v2.6h-2.6zM110.7 248.8h2.6v2.6h-2.6zM111.0 251.1h2.6v2.6h-2.6zM111.2 250.1h2.6v2.6h-2.6zM111.5 249.1h2.6v2.6h-2.6zM111.8 248.8h2.6v2.6h-2.6zM112.0 251.0h2.6v2.6h-2.6zM112.3 251.3h2.6v2.6h-2.6zM112.5 251.3h2.6v2.6h-2.6zM113.1 247.7h2.6v2.6h-2.6zM113.3 250.0h2.6v2.6h-2.6zM113.6 251.2h2.6v2.6h-2.6zM113.9 252.4h2.6v2.6h-2.6zM114.1 251.8h2.6v2.6h-2.6zM114.4 252.1h2.6v2.6h-2.6zM114.7 252.6h2.6v2.6h-2.6zM114.9 252.0h2.6v2.6h-2.6zM115.7 248.6h2.6v2.6h-2.6zM116.0 250.4h2.6v2.6h-2.6zM116.2 248.8h2.6v2.6h-2.6zM116.5 245.4h2.6v2.6h-2.6zM116.8 246.8h2.6v2.6h-2.6zM117.0 254.3h2.6v2.6h-2.6zM117.3 247.9h2.6v2.6h-2.6zM117.8 245.6h2.6v2.6h-2.6zM118.1 248.9h2.6v2.6h-2.6zM118.3 253.1h2.6v2.6h-2.6zM118.9 250.0h2.6v2.6h-2.6zM119.1 250.9h2.6v2.6h-2.6zM119.4 249.5h2.6v2.6h-2.6zM119.7 249.8h2.6v2.6h-2.6zM119.9 252.5h2.6v2.6h-2.6zM120.2 251.6h2.6v2.6h-2.6zM120.4 249.8h2.6v2.6h-2.6zM120.7 251.7h2.6v2.6h-2.6zM121.0 252.1h2.6v2.6h-2.6zM121.2 249.5h2.6v2.6h-2.6zM121.5 250.4h2.6v2.6h-2.6zM122.3 250.4h2.6v2.6h-2.6zM122.5 248.5h2.6v2.6h-2.6zM122.8 252.1h2.6v2.6h-2.6zM123.1 249.5h2.6v2.6h-2.6zM123.3 248.6h2.6v2.6h-2.6zM123.9 246.4h2.6v2.6h-2.6zM124.1 247.2h2.6v2.6h-2.6zM124.4 252.8h2.6v2.6h-2.6zM124.7 247.5h2.6v2.6h-2.6zM124.9 250.6h2.6v2.6h-2.6zM125.2 249.0h2.6v2.6h-2.6zM125.4 250.7h2.6v2.6h-2.6zM125.7 250.9h2.6v2.6h-2.6zM126.0 248.1h2.6v2.6h-2.6zM126.2 249.1h2.6v2.6h-2.6zM126.5 249.8h2.6v2.6h-2.6zM126.8 249.8h2.6v2.6h-2.6zM127.0 249.5h2.6v2.6h-2.6zM127.3 248.9h2.6v2.6h-2.6zM127.5 250.8h2.6v2.6h-2.6zM127.8 252.2h2.6v2.6h-2.6zM128.1 250.6h2.6v2.6h-2.6zM128.3 248.0h2.6v2.6h-2.6zM128.6 250.3h2.6v2.6h-2.6zM128.9 249.6h2.6v2.6h-2.6zM129.1 250.4h2.6v2.6h-2.6zM129.4 253.1h2.6v2.6h-2.6zM129.7 249.0h2.6v2.6h-2.6zM129.9 249.4h2.6v2.6h-2.6zM130.2 247.6h2.6v2.6h-2.6zM130.4 248.8h2.6v2.6h-2.6zM131.0 248.2h2.6v2.6h-2.6zM131.2 252.5h2.6v2.6h-2.6zM131.5 249.9h2.6v2.6h-2.6zM131.8 248.2h2.6v2.6h-2.6zM132.0 253.2h2.6v2.6h-2.6zM132.3 246.6h2.6v2.6h-2.6zM132.8 251.0h2.6v2.6h-2.6zM133.1 251.3h2.6v2.6h-2.6zM133.3 250.4h2.6v2.6h-2.6zM133.6 248.7h2.6v2.6h-2.6zM133.9 249.0h2.6v2.6h-2.6zM134.1 248.6h2.6v2.6h-2.6zM134.4 250.8h2.6v2.6h-2.6zM134.7 244.6h2.6v2.6h-2.6zM134.9 248.2h2.6v2.6h-2.6zM135.2 249.5h2.6v2.6h-2.6zM135.4 248.0h2.6v2.6h-2.6zM135.7 245.6h2.6v2.6h-2.6zM136.0 248.7h2.6v2.6h-2.6zM136.2 247.7h2.6v2.6h-2.6zM136.5 250.8h2.6v2.6h-2.6zM137.0 252.0h2.6v2.6h-2.6zM137.3 249.3h2.6v2.6h-2.6zM137.5 245.3h2.6v2.6h-2.6zM137.8 248.8h2.6v2.6h-2.6zM138.1 247.3h2.6v2.6h-2.6zM138.9 250.5h2.6v2.6h-2.6zM139.1 252.6h2.6v2.6h-2.6zM139.4 249.8h2.6v2.6h-2.6zM139.7 253.2h2.6v2.6h-2.6zM139.9 252.2h2.6v2.6h-2.6zM140.2 250.6h2.6v2.6h-2.6zM140.4 247.4h2.6v2.6h-2.6zM140.7 249.6h2.6v2.6h-2.6zM141.0 246.5h2.6v2.6h-2.6zM141.2 251.5h2.6v2.6h-2.6zM141.5 249.6h2.6v2.6h-2.6zM141.8 252.1h2.6v2.6h-2.6zM142.0 250.0h2.6v2.6h-2.6zM142.3 245.5h2.6v2.6h-2.6zM142.5 250.7h2.6v2.6h-2.6zM142.8 251.3h2.6v2.6h-2.6zM143.1 252.8h2.6v2.6h-2.6zM143.3 247.5h2.6v2.6h-2.6zM143.6 247.6h2.6v2.6h-2.6zM144.1 249.5h2.6v2.6h-2.6zM144.4 247.3h2.6v2.6h-2.6zM144.7 246.7h2.6v2.6h-2.6zM145.2 247.2h2.6v2.6h-2.6zM145.4 254.6h2.6v2.6h-2.6zM145.7 248.1h2.6v2.6h-2.6zM146.2 247.3h2.6v2.6h-2.6zM146.5 248.4h2.6v2.6h-2.6zM147.0 249.3h2.6v2.6h-2.6zM147.3 251.8h2.6v2.6h-2.6zM147.5 251.1h2.6v2.6h-2.6zM147.8 250.8h2.6v2.6h-2.6zM148.1 249.3h2.6v2.6h-2.6zM148.3 249.5h2.6v2.6h-2.6zM148.9 247.9h2.6v2.6h-2.6zM149.1 246.1h2.6v2.6h-2.6zM149.4 253.2h2.6v2.6h-2.6zM149.7 248.2h2.6v2.6h-2.6zM149.9 251.1h2.6v2.6h-2.6zM150.2 248.4h2.6v2.6h-2.6zM150.4 248.8h2.6v2.6h-2.6zM150.7 248.7h2.6v2.6h-2.6zM151.0 246.2h2.6v2.6h-2.6zM151.2 248.8h2.6v2.6h-2.6zM152.3 249.6h2.6v2.6h-2.6zM152.5 250.4h2.6v2.6h-2.6zM152.8 249.7h2.6v2.6h-2.6zM153.1 250.7h2.6v2.6h-2.6zM153.3 249.3h2.6v2.6h-2.6zM153.6 248.6h2.6v2.6h-2.6zM153.9 244.7h2.6v2.6h-2.6zM154.1 247.5h2.6v2.6h-2.6zM154.7 251.6h2.6v2.6h-2.6zM154.9 248.7h2.6v2.6h-2.6zM155.2 250.0h2.6v2.6h-2.6zM155.4 248.0h2.6v2.6h-2.6zM155.7 247.0h2.6v2.6h-2.6zM156.0 252.4h2.6v2.6h-2.6zM156.2 249.0h2.6v2.6h-2.6zM156.5 251.3h2.6v2.6h-2.6zM156.8 249.3h2.6v2.6h-2.6zM157.0 247.6h2.6v2.6h-2.6zM157.3 243.7h2.6v2.6h-2.6zM157.8 248.3h2.6v2.6h-2.6zM158.1 244.9h2.6v2.6h-2.6zM158.3 243.6h2.6v2.6h-2.6zM159.1 250.4h2.6v2.6h-2.6zM159.7 249.3h2.6v2.6h-2.6zM159.9 249.1h2.6v2.6h-2.6zM160.2 247.9h2.6v2.6h-2.6zM160.7 247.6h2.6v2.6h-2.6zM161.0 248.5h2.6v2.6h-2.6zM161.2 247.9h2.6v2.6h-2.6zM161.5 247.7h2.6v2.6h-2.6zM161.8 249.0h2.6v2.6h-2.6zM162.0 242.6h2.6v2.6h-2.6zM162.5 249.2h2.6v2.6h-2.6zM162.8 246.1h2.6v2.6h-2.6zM163.1 249.1h2.6v2.6h-2.6zM163.3 249.6h2.6v2.6h-2.6zM163.6 245.6h2.6v2.6h-2.6zM163.9 248.8h2.6v2.6h-2.6zM164.1 248.7h2.6v2.6h-2.6zM164.4 245.7h2.6v2.6h-2.6zM164.7 246.0h2.6v2.6h-2.6zM164.9 247.2h2.6v2.6h-2.6zM165.2 242.4h2.6v2.6h-2.6zM165.7 245.9h2.6v2.6h-2.6zM166.0 247.1h2.6v2.6h-2.6zM166.5 245.7h2.6v2.6h-2.6zM166.8 243.4h2.6v2.6h-2.6zM167.0 245.7h2.6v2.6h-2.6zM167.5 249.4h2.6v2.6h-2.6zM167.8 249.0h2.6v2.6h-2.6zM168.1 246.0h2.6v2.6h-2.6zM168.3 244.6h2.6v2.6h-2.6zM168.6 246.1h2.6v2.6h-2.6zM168.9 246.1h2.6v2.6h-2.6zM169.4 244.6h2.6v2.6h-2.6zM169.7 245.2h2.6v2.6h-2.6zM169.9 247.1h2.6v2.6h-2.6zM170.2 247.6h2.6v2.6h-2.6zM170.4 240.8h2.6v2.6h-2.6zM170.7 247.5h2.6v2.6h-2.6zM171.0 245.8h2.6v2.6h-2.6zM171.2 247.7h2.6v2.6h-2.6zM171.5 245.3h2.6v2.6h-2.6zM171.8 246.2h2.6v2.6h-2.6zM172.0 248.5h2.6v2.6h-2.6zM172.3 239.2h2.6v2.6h-2.6zM172.8 248.1h2.6v2.6h-2.6zM173.1 245.2h2.6v2.6h-2.6zM173.3 241.1h2.6v2.6h-2.6zM173.6 239.3h2.6v2.6h-2.6zM173.9 245.2h2.6v2.6h-2.6zM174.1 242.5h2.6v2.6h-2.6zM174.4 246.4h2.6v2.6h-2.6zM174.7 244.8h2.6v2.6h-2.6zM175.2 243.9h2.6v2.6h-2.6zM175.4 246.0h2.6v2.6h-2.6zM175.7 244.3h2.6v2.6h-2.6zM176.0 245.3h2.6v2.6h-2.6zM176.2 245.4h2.6v2.6h-2.6zM176.5 244.3h2.6v2.6h-2.6zM176.8 245.2h2.6v2.6h-2.6zM177.0 245.1h2.6v2.6h-2.6zM177.6 240.5h2.6v2.6h-2.6zM177.8 242.6h2.6v2.6h-2.6zM178.1 242.8h2.6v2.6h-2.6zM178.3 242.2h2.6v2.6h-2.6zM178.6 239.7h2.6v2.6h-2.6zM178.9 241.6h2.6v2.6h-2.6zM179.1 243.3h2.6v2.6h-2.6zM179.4 242.9h2.6v2.6h-2.6zM179.7 245.5h2.6v2.6h-2.6zM179.9 241.1h2.6v2.6h-2.6zM180.2 241.3h2.6v2.6h-2.6zM180.4 240.9h2.6v2.6h-2.6zM180.7 241.3h2.6v2.6h-2.6zM181.0 240.6h2.6v2.6h-2.6zM181.2 237.9h2.6v2.6h-2.6zM181.5 242.3h2.6v2.6h-2.6zM181.8 243.4h2.6v2.6h-2.6zM182.0 243.6h2.6v2.6h-2.6zM182.3 239.0h2.6v2.6h-2.6zM182.6 240.7h2.6v2.6h-2.6zM182.8 244.6h2.6v2.6h-2.6zM183.1 240.6h2.6v2.6h-2.6zM183.3 241.4h2.6v2.6h-2.6zM183.6 240.2h2.6v2.6h-2.6zM183.9 242.4h2.6v2.6h-2.6zM184.1 242.2h2.6v2.6h-2.6zM184.4 244.8h2.6v2.6h-2.6zM184.7 241.0h2.6v2.6h-2.6zM185.2 240.7h2.6v2.6h-2.6zM185.4 237.2h2.6v2.6h-2.6zM185.7 238.7h2.6v2.6h-2.6zM186.0 238.0h2.6v2.6h-2.6zM186.2 238.6h2.6v2.6h-2.6zM186.5 236.5h2.6v2.6h-2.6zM186.8 241.4h2.6v2.6h-2.6zM187.0 236.8h2.6v2.6h-2.6zM187.3 239.3h2.6v2.6h-2.6zM187.6 236.1h2.6v2.6h-2.6zM188.1 239.1h2.6v2.6h-2.6zM188.3 241.6h2.6v2.6h-2.6zM188.6 236.6h2.6v2.6h-2.6zM188.9 238.8h2.6v2.6h-2.6zM189.7 237.7h2.6v2.6h-2.6zM189.9 238.3h2.6v2.6h-2.6zM190.4 238.4h2.6v2.6h-2.6zM190.7 236.2h2.6v2.6h-2.6zM191.0 237.0h2.6v2.6h-2.6zM191.5 236.0h2.6v2.6h-2.6zM191.8 235.4h2.6v2.6h-2.6zM192.0 234.5h2.6v2.6h-2.6zM192.3 238.8h2.6v2.6h-2.6zM192.6 235.4h2.6v2.6h-2.6zM192.8 238.1h2.6v2.6h-2.6zM193.1 237.8h2.6v2.6h-2.6zM193.3 234.6h2.6v2.6h-2.6zM193.6 238.6h2.6v2.6h-2.6zM193.9 234.7h2.6v2.6h-2.6zM194.1 237.7h2.6v2.6h-2.6zM194.4 239.2h2.6v2.6h-2.6zM194.7 234.8h2.6v2.6h-2.6zM194.9 234.3h2.6v2.6h-2.6zM195.2 234.2h2.6v2.6h-2.6zM195.4 240.6h2.6v2.6h-2.6zM195.7 235.2h2.6v2.6h-2.6zM196.0 233.4h2.6v2.6h-2.6zM196.2 237.5h2.6v2.6h-2.6zM196.5 235.4h2.6v2.6h-2.6zM196.8 235.7h2.6v2.6h-2.6zM197.0 233.7h2.6v2.6h-2.6zM197.3 231.1h2.6v2.6h-2.6zM197.6 234.1h2.6v2.6h-2.6zM197.8 233.4h2.6v2.6h-2.6zM198.1 232.2h2.6v2.6h-2.6zM198.3 233.2h2.6v2.6h-2.6zM198.6 233.4h2.6v2.6h-2.6zM198.9 236.8h2.6v2.6h-2.6zM199.1 236.6h2.6v2.6h-2.6zM199.7 236.1h2.6v2.6h-2.6zM199.9 234.0h2.6v2.6h-2.6zM200.2 232.5h2.6v2.6h-2.6zM200.4 235.5h2.6v2.6h-2.6zM200.7 235.8h2.6v2.6h-2.6zM201.0 236.8h2.6v2.6h-2.6zM201.2 234.7h2.6v2.6h-2.6zM201.5 234.5h2.6v2.6h-2.6zM201.8 235.3h2.6v2.6h-2.6zM202.0 232.8h2.6v2.6h-2.6zM202.3 233.0h2.6v2.6h-2.6zM202.6 235.8h2.6v2.6h-2.6zM203.1 231.9h2.6v2.6h-2.6zM203.3 234.3h2.6v2.6h-2.6zM203.6 235.9h2.6v2.6h-2.6zM203.9 234.8h2.6v2.6h-2.6zM204.1 235.1h2.6v2.6h-2.6zM204.4 232.0h2.6v2.6h-2.6zM204.7 233.9h2.6v2.6h-2.6zM204.9 233.6h2.6v2.6h-2.6zM205.2 235.3h2.6v2.6h-2.6zM205.4 234.9h2.6v2.6h-2.6zM205.7 234.1h2.6v2.6h-2.6zM206.0 237.8h2.6v2.6h-2.6zM206.2 235.0h2.6v2.6h-2.6zM206.5 233.3h2.6v2.6h-2.6zM206.8 232.6h2.6v2.6h-2.6zM207.3 233.7h2.6v2.6h-2.6zM207.6 232.6h2.6v2.6h-2.6zM207.8 236.9h2.6v2.6h-2.6zM208.1 234.8h2.6v2.6h-2.6zM208.3 233.0h2.6v2.6h-2.6zM208.6 232.2h2.6v2.6h-2.6zM208.9 231.4h2.6v2.6h-2.6zM209.1 232.9h2.6v2.6h-2.6zM209.4 236.1h2.6v2.6h-2.6zM209.7 235.1h2.6v2.6h-2.6zM209.9 233.3h2.6v2.6h-2.6zM210.2 233.6h2.6v2.6h-2.6zM210.4 229.6h2.6v2.6h-2.6zM210.7 234.8h2.6v2.6h-2.6zM211.0 232.8h2.6v2.6h-2.6zM211.8 235.9h2.6v2.6h-2.6zM212.0 232.8h2.6v2.6h-2.6zM212.3 232.1h2.6v2.6h-2.6zM212.6 233.5h2.6v2.6h-2.6zM212.8 231.8h2.6v2.6h-2.6zM213.1 235.7h2.6v2.6h-2.6zM213.9 233.5h2.6v2.6h-2.6zM214.1 233.7h2.6v2.6h-2.6zM214.4 233.6h2.6v2.6h-2.6zM214.7 232.2h2.6v2.6h-2.6zM215.4 233.8h2.6v2.6h-2.6zM215.7 233.2h2.6v2.6h-2.6zM216.0 236.3h2.6v2.6h-2.6zM216.2 232.9h2.6v2.6h-2.6zM216.8 233.5h2.6v2.6h-2.6zM217.0 231.8h2.6v2.6h-2.6zM217.3 232.0h2.6v2.6h-2.6zM217.6 232.1h2.6v2.6h-2.6zM217.8 235.3h2.6v2.6h-2.6zM218.1 232.9h2.6v2.6h-2.6zM218.3 234.7h2.6v2.6h-2.6zM218.9 232.2h2.6v2.6h-2.6zM219.1 232.0h2.6v2.6h-2.6zM219.4 228.8h2.6v2.6h-2.6zM219.7 234.3h2.6v2.6h-2.6zM219.9 236.8h2.6v2.6h-2.6zM220.2 232.2h2.6v2.6h-2.6zM220.4 235.5h2.6v2.6h-2.6zM221.0 234.4h2.6v2.6h-2.6zM221.5 231.3h2.6v2.6h-2.6zM222.0 234.2h2.6v2.6h-2.6zM222.3 230.8h2.6v2.6h-2.6zM222.6 232.0h2.6v2.6h-2.6zM222.8 235.1h2.6v2.6h-2.6zM223.1 232.9h2.6v2.6h-2.6zM223.3 230.3h2.6v2.6h-2.6zM223.6 235.4h2.6v2.6h-2.6zM223.9 230.4h2.6v2.6h-2.6zM224.1 232.3h2.6v2.6h-2.6zM224.7 231.9h2.6v2.6h-2.6zM224.9 232.3h2.6v2.6h-2.6zM225.2 230.9h2.6v2.6h-2.6zM225.4 229.3h2.6v2.6h-2.6zM225.7 236.3h2.6v2.6h-2.6zM226.0 230.7h2.6v2.6h-2.6zM226.2 230.8h2.6v2.6h-2.6zM226.5 227.7h2.6v2.6h-2.6zM226.8 232.8h2.6v2.6h-2.6zM227.0 235.2h2.6v2.6h-2.6zM227.3 235.4h2.6v2.6h-2.6zM227.6 238.1h2.6v2.6h-2.6zM227.8 235.6h2.6v2.6h-2.6zM228.1 233.4h2.6v2.6h-2.6zM228.3 232.7h2.6v2.6h-2.6zM228.6 235.5h2.6v2.6h-2.6zM229.1 232.5h2.6v2.6h-2.6zM229.4 233.0h2.6v2.6h-2.6zM229.7 230.7h2.6v2.6h-2.6zM229.9 232.8h2.6v2.6h-2.6zM230.2 236.6h2.6v2.6h-2.6zM230.4 232.5h2.6v2.6h-2.6zM230.7 233.4h2.6v2.6h-2.6zM231.0 227.8h2.6v2.6h-2.6zM231.2 235.3h2.6v2.6h-2.6zM231.8 233.3h2.6v2.6h-2.6zM232.0 235.4h2.6v2.6h-2.6zM232.3 233.1h2.6v2.6h-2.6zM232.6 230.9h2.6v2.6h-2.6zM232.8 229.8h2.6v2.6h-2.6zM233.3 233.6h2.6v2.6h-2.6zM233.6 232.5h2.6v2.6h-2.6zM233.9 230.6h2.6v2.6h-2.6zM234.1 232.4h2.6v2.6h-2.6zM234.4 231.2h2.6v2.6h-2.6zM234.7 233.9h2.6v2.6h-2.6zM234.9 231.6h2.6v2.6h-2.6zM235.2 230.0h2.6v2.6h-2.6zM235.4 232.2h2.6v2.6h-2.6zM235.7 231.3h2.6v2.6h-2.6zM236.0 235.3h2.6v2.6h-2.6zM236.5 231.4h2.6v2.6h-2.6zM236.8 229.7h2.6v2.6h-2.6zM237.0 232.2h2.6v2.6h-2.6zM237.3 231.7h2.6v2.6h-2.6zM237.6 232.7h2.6v2.6h-2.6zM238.1 232.6h2.6v2.6h-2.6zM238.3 230.1h2.6v2.6h-2.6zM238.6 232.0h2.6v2.6h-2.6zM238.9 231.9h2.6v2.6h-2.6zM239.7 229.6h2.6v2.6h-2.6zM239.9 230.8h2.6v2.6h-2.6zM240.2 232.3h2.6v2.6h-2.6zM240.4 228.7h2.6v2.6h-2.6zM240.7 229.7h2.6v2.6h-2.6zM241.0 230.9h2.6v2.6h-2.6zM241.2 231.6h2.6v2.6h-2.6zM241.5 232.8h2.6v2.6h-2.6zM241.8 229.0h2.6v2.6h-2.6zM242.3 232.3h2.6v2.6h-2.6zM242.6 232.9h2.6v2.6h-2.6zM242.8 234.7h2.6v2.6h-2.6zM243.1 230.7h2.6v2.6h-2.6zM243.3 229.7h2.6v2.6h-2.6zM243.6 228.4h2.6v2.6h-2.6zM244.1 232.5h2.6v2.6h-2.6zM244.4 234.0h2.6v2.6h-2.6zM244.7 230.0h2.6v2.6h-2.6zM244.9 232.2h2.6v2.6h-2.6zM245.2 233.0h2.6v2.6h-2.6zM245.4 233.2h2.6v2.6h-2.6zM245.7 230.5h2.6v2.6h-2.6zM246.0 232.6h2.6v2.6h-2.6zM246.2 231.2h2.6v2.6h-2.6zM246.5 229.4h2.6v2.6h-2.6zM246.8 231.7h2.6v2.6h-2.6zM247.0 231.9h2.6v2.6h-2.6zM247.3 229.3h2.6v2.6h-2.6zM247.6 232.0h2.6v2.6h-2.6zM247.8 235.1h2.6v2.6h-2.6zM248.1 228.1h2.6v2.6h-2.6zM248.3 232.5h2.6v2.6h-2.6zM248.6 232.8h2.6v2.6h-2.6zM248.9 231.1h2.6v2.6h-2.6zM249.1 231.6h2.6v2.6h-2.6zM249.4 230.4h2.6v2.6h-2.6zM249.7 233.6h2.6v2.6h-2.6zM249.9 229.0h2.6v2.6h-2.6zM250.2 230.6h2.6v2.6h-2.6zM250.4 226.9h2.6v2.6h-2.6zM251.0 231.4h2.6v2.6h-2.6zM251.2 231.4h2.6v2.6h-2.6zM251.5 227.3h2.6v2.6h-2.6zM251.8 228.8h2.6v2.6h-2.6zM252.3 231.5h2.6v2.6h-2.6zM252.6 229.5h2.6v2.6h-2.6zM252.8 228.0h2.6v2.6h-2.6zM253.1 225.4h2.6v2.6h-2.6zM253.6 231.0h2.6v2.6h-2.6zM253.9 234.1h2.6v2.6h-2.6zM254.1 229.3h2.6v2.6h-2.6zM254.4 231.1h2.6v2.6h-2.6zM254.7 231.0h2.6v2.6h-2.6zM254.9 229.9h2.6v2.6h-2.6zM255.2 230.3h2.6v2.6h-2.6zM255.5 230.3h2.6v2.6h-2.6zM256.0 228.2h2.6v2.6h-2.6zM256.2 234.9h2.6v2.6h-2.6zM256.5 235.3h2.6v2.6h-2.6zM256.8 230.5h2.6v2.6h-2.6zM257.0 233.4h2.6v2.6h-2.6zM257.3 228.2h2.6v2.6h-2.6zM257.8 229.3h2.6v2.6h-2.6zM258.1 232.0h2.6v2.6h-2.6zM258.3 227.4h2.6v2.6h-2.6zM258.6 227.0h2.6v2.6h-2.6zM258.9 230.3h2.6v2.6h-2.6zM259.1 225.6h2.6v2.6h-2.6zM259.4 233.0h2.6v2.6h-2.6zM259.7 231.0h2.6v2.6h-2.6zM259.9 230.0h2.6v2.6h-2.6zM260.2 230.8h2.6v2.6h-2.6zM260.5 227.6h2.6v2.6h-2.6zM260.7 227.5h2.6v2.6h-2.6zM261.0 231.0h2.6v2.6h-2.6zM261.2 231.2h2.6v2.6h-2.6zM261.5 229.6h2.6v2.6h-2.6zM261.8 229.2h2.6v2.6h-2.6zM262.0 228.2h2.6v2.6h-2.6zM262.3 232.0h2.6v2.6h-2.6zM262.6 226.2h2.6v2.6h-2.6zM262.8 227.4h2.6v2.6h-2.6zM263.1 228.0h2.6v2.6h-2.6zM263.9 225.9h2.6v2.6h-2.6zM264.1 226.3h2.6v2.6h-2.6zM264.4 226.8h2.6v2.6h-2.6zM264.7 230.9h2.6v2.6h-2.6zM264.9 232.4h2.6v2.6h-2.6zM265.2 229.5h2.6v2.6h-2.6zM265.7 225.4h2.6v2.6h-2.6zM266.0 227.4h2.6v2.6h-2.6zM266.2 228.3h2.6v2.6h-2.6zM266.5 228.0h2.6v2.6h-2.6zM267.0 227.7h2.6v2.6h-2.6zM267.3 229.4h2.6v2.6h-2.6zM267.8 224.4h2.6v2.6h-2.6zM268.1 227.0h2.6v2.6h-2.6zM268.3 228.6h2.6v2.6h-2.6zM268.9 229.4h2.6v2.6h-2.6zM269.4 228.5h2.6v2.6h-2.6zM269.7 227.9h2.6v2.6h-2.6zM269.9 227.5h2.6v2.6h-2.6zM270.2 226.4h2.6v2.6h-2.6zM270.5 227.8h2.6v2.6h-2.6zM270.7 227.2h2.6v2.6h-2.6zM271.0 226.1h2.6v2.6h-2.6zM271.5 229.8h2.6v2.6h-2.6zM271.8 229.7h2.6v2.6h-2.6zM272.0 226.5h2.6v2.6h-2.6zM272.3 228.4h2.6v2.6h-2.6zM273.1 229.4h2.6v2.6h-2.6zM273.3 227.4h2.6v2.6h-2.6zM274.1 227.0h2.6v2.6h-2.6zM274.7 227.6h2.6v2.6h-2.6zM274.9 223.2h2.6v2.6h-2.6zM275.2 223.6h2.6v2.6h-2.6zM275.5 227.4h2.6v2.6h-2.6zM275.7 226.9h2.6v2.6h-2.6zM276.0 229.0h2.6v2.6h-2.6zM276.2 225.2h2.6v2.6h-2.6zM276.5 228.4h2.6v2.6h-2.6zM276.8 228.2h2.6v2.6h-2.6zM277.0 230.0h2.6v2.6h-2.6zM277.3 224.4h2.6v2.6h-2.6zM277.6 225.3h2.6v2.6h-2.6zM277.8 226.5h2.6v2.6h-2.6zM278.1 226.4h2.6v2.6h-2.6zM278.3 223.9h2.6v2.6h-2.6zM278.6 224.7h2.6v2.6h-2.6zM278.9 223.2h2.6v2.6h-2.6zM279.1 230.3h2.6v2.6h-2.6zM279.4 225.5h2.6v2.6h-2.6zM279.7 225.6h2.6v2.6h-2.6zM279.9 224.3h2.6v2.6h-2.6zM280.2 225.6h2.6v2.6h-2.6zM280.5 227.0h2.6v2.6h-2.6zM280.7 224.8h2.6v2.6h-2.6zM281.0 225.3h2.6v2.6h-2.6zM281.2 229.6h2.6v2.6h-2.6zM281.5 227.1h2.6v2.6h-2.6zM281.8 225.7h2.6v2.6h-2.6zM282.0 224.4h2.6v2.6h-2.6zM282.3 225.1h2.6v2.6h-2.6zM282.6 223.7h2.6v2.6h-2.6zM282.8 225.6h2.6v2.6h-2.6zM283.1 223.7h2.6v2.6h-2.6zM283.3 223.6h2.6v2.6h-2.6zM283.6 224.1h2.6v2.6h-2.6zM283.9 222.8h2.6v2.6h-2.6zM284.1 225.2h2.6v2.6h-2.6zM284.7 229.7h2.6v2.6h-2.6zM284.9 223.5h2.6v2.6h-2.6zM285.2 221.4h2.6v2.6h-2.6zM285.7 226.5h2.6v2.6h-2.6zM286.0 224.3h2.6v2.6h-2.6zM286.8 228.3h2.6v2.6h-2.6zM287.0 225.1h2.6v2.6h-2.6zM287.3 226.1h2.6v2.6h-2.6zM287.6 222.7h2.6v2.6h-2.6zM287.8 221.0h2.6v2.6h-2.6zM288.1 223.7h2.6v2.6h-2.6zM288.3 225.3h2.6v2.6h-2.6zM288.6 222.3h2.6v2.6h-2.6zM288.9 220.8h2.6v2.6h-2.6zM289.1 222.7h2.6v2.6h-2.6zM289.4 222.9h2.6v2.6h-2.6zM289.7 223.1h2.6v2.6h-2.6zM289.9 223.6h2.6v2.6h-2.6zM290.2 228.2h2.6v2.6h-2.6zM290.7 223.5h2.6v2.6h-2.6zM291.0 222.4h2.6v2.6h-2.6zM291.2 221.2h2.6v2.6h-2.6zM291.5 224.8h2.6v2.6h-2.6zM291.8 220.1h2.6v2.6h-2.6zM292.6 225.7h2.6v2.6h-2.6zM292.8 222.8h2.6v2.6h-2.6zM293.1 219.8h2.6v2.6h-2.6zM293.3 223.0h2.6v2.6h-2.6zM293.6 222.4h2.6v2.6h-2.6zM293.9 224.9h2.6v2.6h-2.6zM294.1 219.5h2.6v2.6h-2.6zM294.4 222.7h2.6v2.6h-2.6zM294.7 222.2h2.6v2.6h-2.6zM294.9 223.9h2.6v2.6h-2.6zM295.5 219.8h2.6v2.6h-2.6zM295.7 220.4h2.6v2.6h-2.6zM296.0 225.6h2.6v2.6h-2.6zM296.2 222.8h2.6v2.6h-2.6zM296.5 218.8h2.6v2.6h-2.6zM296.8 222.2h2.6v2.6h-2.6zM297.0 220.0h2.6v2.6h-2.6zM297.3 220.1h2.6v2.6h-2.6zM297.6 219.0h2.6v2.6h-2.6zM297.8 223.1h2.6v2.6h-2.6zM298.3 220.1h2.6v2.6h-2.6zM298.6 221.4h2.6v2.6h-2.6zM298.9 221.1h2.6v2.6h-2.6zM299.1 217.9h2.6v2.6h-2.6zM299.7 219.1h2.6v2.6h-2.6zM299.9 221.9h2.6v2.6h-2.6zM300.2 217.3h2.6v2.6h-2.6zM300.5 220.7h2.6v2.6h-2.6zM300.7 219.9h2.6v2.6h-2.6zM301.0 221.2h2.6v2.6h-2.6zM301.2 221.2h2.6v2.6h-2.6zM301.5 221.4h2.6v2.6h-2.6zM302.3 219.6h2.6v2.6h-2.6zM302.8 219.8h2.6v2.6h-2.6zM303.1 217.8h2.6v2.6h-2.6zM303.3 218.0h2.6v2.6h-2.6zM303.6 220.7h2.6v2.6h-2.6zM303.9 217.7h2.6v2.6h-2.6zM304.1 220.7h2.6v2.6h-2.6zM304.4 220.6h2.6v2.6h-2.6zM304.7 217.1h2.6v2.6h-2.6zM305.5 219.3h2.6v2.6h-2.6zM305.7 216.7h2.6v2.6h-2.6zM306.2 218.7h2.6v2.6h-2.6zM306.5 216.5h2.6v2.6h-2.6zM306.8 218.5h2.6v2.6h-2.6zM307.3 218.0h2.6v2.6h-2.6zM307.6 215.6h2.6v2.6h-2.6zM307.8 221.3h2.6v2.6h-2.6zM308.1 219.2h2.6v2.6h-2.6zM308.3 214.3h2.6v2.6h-2.6zM309.1 217.7h2.6v2.6h-2.6zM309.4 216.2h2.6v2.6h-2.6zM309.7 220.8h2.6v2.6h-2.6zM309.9 216.7h2.6v2.6h-2.6zM310.2 217.5h2.6v2.6h-2.6zM310.5 216.4h2.6v2.6h-2.6zM310.7 217.8h2.6v2.6h-2.6zM311.0 215.6h2.6v2.6h-2.6zM311.2 214.9h2.6v2.6h-2.6zM311.5 215.6h2.6v2.6h-2.6zM311.8 215.7h2.6v2.6h-2.6zM312.0 217.7h2.6v2.6h-2.6zM312.3 216.6h2.6v2.6h-2.6zM312.8 215.6h2.6v2.6h-2.6zM313.1 215.7h2.6v2.6h-2.6zM313.3 214.7h2.6v2.6h-2.6zM313.6 216.6h2.6v2.6h-2.6zM313.9 212.6h2.6v2.6h-2.6zM314.1 215.9h2.6v2.6h-2.6zM314.4 218.5h2.6v2.6h-2.6zM314.7 215.6h2.6v2.6h-2.6zM314.9 215.1h2.6v2.6h-2.6zM315.2 216.4h2.6v2.6h-2.6zM315.5 214.5h2.6v2.6h-2.6zM315.7 214.8h2.6v2.6h-2.6zM316.0 217.5h2.6v2.6h-2.6zM316.8 215.0h2.6v2.6h-2.6zM317.0 219.8h2.6v2.6h-2.6zM317.6 217.1h2.6v2.6h-2.6zM317.8 215.9h2.6v2.6h-2.6zM318.1 215.0h2.6v2.6h-2.6zM318.3 215.6h2.6v2.6h-2.6zM318.6 211.9h2.6v2.6h-2.6zM318.9 216.5h2.6v2.6h-2.6zM319.4 217.7h2.6v2.6h-2.6zM319.7 217.1h2.6v2.6h-2.6zM319.9 215.3h2.6v2.6h-2.6zM320.2 217.2h2.6v2.6h-2.6zM320.5 217.2h2.6v2.6h-2.6zM320.7 215.8h2.6v2.6h-2.6zM321.0 216.7h2.6v2.6h-2.6zM321.2 217.9h2.6v2.6h-2.6zM321.5 216.9h2.6v2.6h-2.6zM321.8 215.3h2.6v2.6h-2.6zM322.8 216.1h2.6v2.6h-2.6zM323.1 216.3h2.6v2.6h-2.6zM323.6 213.1h2.6v2.6h-2.6zM324.4 216.3h2.6v2.6h-2.6zM324.7 215.8h2.6v2.6h-2.6zM324.9 212.1h2.6v2.6h-2.6zM325.2 212.9h2.6v2.6h-2.6zM325.5 219.3h2.6v2.6h-2.6zM325.7 216.2h2.6v2.6h-2.6zM326.0 218.5h2.6v2.6h-2.6zM326.2 215.4h2.6v2.6h-2.6zM326.8 218.8h2.6v2.6h-2.6zM327.0 217.1h2.6v2.6h-2.6zM327.3 214.8h2.6v2.6h-2.6zM327.6 216.6h2.6v2.6h-2.6zM327.8 218.9h2.6v2.6h-2.6zM328.1 220.4h2.6v2.6h-2.6zM328.3 217.0h2.6v2.6h-2.6zM328.6 215.3h2.6v2.6h-2.6zM328.9 214.5h2.6v2.6h-2.6zM329.1 217.3h2.6v2.6h-2.6zM329.4 218.0h2.6v2.6h-2.6zM329.7 216.3h2.6v2.6h-2.6zM329.9 215.9h2.6v2.6h-2.6zM330.5 217.6h2.6v2.6h-2.6zM330.7 217.0h2.6v2.6h-2.6zM331.0 216.8h2.6v2.6h-2.6zM331.5 213.4h2.6v2.6h-2.6zM331.8 215.5h2.6v2.6h-2.6zM332.3 219.5h2.6v2.6h-2.6zM332.6 216.1h2.6v2.6h-2.6zM332.8 220.4h2.6v2.6h-2.6zM333.4 216.8h2.6v2.6h-2.6zM333.6 215.6h2.6v2.6h-2.6zM334.1 216.6h2.6v2.6h-2.6zM334.4 217.2h2.6v2.6h-2.6zM334.7 214.8h2.6v2.6h-2.6zM334.9 216.5h2.6v2.6h-2.6zM335.2 215.3h2.6v2.6h-2.6zM335.5 218.7h2.6v2.6h-2.6zM335.7 215.3h2.6v2.6h-2.6zM336.0 216.3h2.6v2.6h-2.6zM336.2 213.4h2.6v2.6h-2.6zM336.5 213.6h2.6v2.6h-2.6zM336.8 215.9h2.6v2.6h-2.6zM337.0 214.4h2.6v2.6h-2.6zM337.3 215.5h2.6v2.6h-2.6zM337.6 216.4h2.6v2.6h-2.6zM337.8 217.0h2.6v2.6h-2.6zM338.4 213.5h2.6v2.6h-2.6zM338.6 215.6h2.6v2.6h-2.6zM338.9 217.1h2.6v2.6h-2.6zM339.1 214.7h2.6v2.6h-2.6zM339.4 213.6h2.6v2.6h-2.6zM339.7 214.6h2.6v2.6h-2.6zM339.9 218.7h2.6v2.6h-2.6zM340.5 215.8h2.6v2.6h-2.6zM340.7 218.5h2.6v2.6h-2.6zM341.0 215.2h2.6v2.6h-2.6zM341.2 217.8h2.6v2.6h-2.6zM341.5 213.2h2.6v2.6h-2.6zM341.8 215.3h2.6v2.6h-2.6zM342.0 215.8h2.6v2.6h-2.6zM342.3 218.7h2.6v2.6h-2.6zM342.8 216.4h2.6v2.6h-2.6zM343.1 217.5h2.6v2.6h-2.6zM343.4 214.8h2.6v2.6h-2.6zM343.9 214.8h2.6v2.6h-2.6zM344.1 217.7h2.6v2.6h-2.6zM344.4 218.0h2.6v2.6h-2.6zM345.2 217.6h2.6v2.6h-2.6zM345.7 217.5h2.6v2.6h-2.6zM346.0 214.6h2.6v2.6h-2.6zM346.2 219.2h2.6v2.6h-2.6zM346.5 215.7h2.6v2.6h-2.6zM346.8 217.6h2.6v2.6h-2.6zM347.0 216.7h2.6v2.6h-2.6zM347.3 212.4h2.6v2.6h-2.6zM347.6 212.0h2.6v2.6h-2.6zM347.8 212.6h2.6v2.6h-2.6zM348.1 215.2h2.6v2.6h-2.6zM348.6 217.2h2.6v2.6h-2.6zM348.9 214.8h2.6v2.6h-2.6zM349.1 216.7h2.6v2.6h-2.6zM349.4 213.1h2.6v2.6h-2.6zM349.9 214.1h2.6v2.6h-2.6zM350.5 213.6h2.6v2.6h-2.6zM350.7 215.2h2.6v2.6h-2.6zM351.0 213.1h2.6v2.6h-2.6zM351.2 214.9h2.6v2.6h-2.6zM351.8 216.0h2.6v2.6h-2.6zM352.0 214.2h2.6v2.6h-2.6zM352.3 213.4h2.6v2.6h-2.6zM352.6 214.1h2.6v2.6h-2.6zM352.8 212.8h2.6v2.6h-2.6zM353.1 213.1h2.6v2.6h-2.6zM353.4 216.2h2.6v2.6h-2.6zM353.6 215.3h2.6v2.6h-2.6zM353.9 212.3h2.6v2.6h-2.6zM354.4 214.2h2.6v2.6h-2.6zM354.7 215.4h2.6v2.6h-2.6zM355.2 215.9h2.6v2.6h-2.6zM355.5 215.6h2.6v2.6h-2.6zM355.7 216.1h2.6v2.6h-2.6zM356.2 214.3h2.6v2.6h-2.6zM356.8 214.3h2.6v2.6h-2.6zM357.3 213.8h2.6v2.6h-2.6zM357.6 216.1h2.6v2.6h-2.6zM357.8 215.6h2.6v2.6h-2.6zM358.1 217.1h2.6v2.6h-2.6zM358.4 216.0h2.6v2.6h-2.6zM358.6 212.7h2.6v2.6h-2.6zM358.9 211.5h2.6v2.6h-2.6zM359.4 211.5h2.6v2.6h-2.6zM359.7 212.3h2.6v2.6h-2.6zM359.9 214.7h2.6v2.6h-2.6zM360.2 211.3h2.6v2.6h-2.6zM360.5 210.2h2.6v2.6h-2.6zM360.7 213.2h2.6v2.6h-2.6zM361.0 214.8h2.6v2.6h-2.6zM361.2 214.6h2.6v2.6h-2.6zM361.5 216.1h2.6v2.6h-2.6zM361.8 213.1h2.6v2.6h-2.6zM362.0 212.2h2.6v2.6h-2.6zM362.6 212.5h2.6v2.6h-2.6zM362.8 210.7h2.6v2.6h-2.6zM363.1 211.7h2.6v2.6h-2.6zM363.4 214.9h2.6v2.6h-2.6zM363.6 216.2h2.6v2.6h-2.6zM363.9 214.7h2.6v2.6h-2.6zM364.4 212.9h2.6v2.6h-2.6zM364.7 212.0h2.6v2.6h-2.6zM364.9 212.7h2.6v2.6h-2.6zM365.5 209.0h2.6v2.6h-2.6zM365.7 213.0h2.6v2.6h-2.6zM366.0 213.3h2.6v2.6h-2.6zM366.2 211.7h2.6v2.6h-2.6zM366.8 211.8h2.6v2.6h-2.6zM367.0 208.9h2.6v2.6h-2.6zM367.3 212.9h2.6v2.6h-2.6zM367.6 212.8h2.6v2.6h-2.6zM367.8 206.9h2.6v2.6h-2.6zM368.1 210.4h2.6v2.6h-2.6zM368.4 211.9h2.6v2.6h-2.6zM368.6 214.0h2.6v2.6h-2.6zM368.9 209.7h2.6v2.6h-2.6zM369.1 211.0h2.6v2.6h-2.6zM369.9 213.2h2.6v2.6h-2.6zM370.2 211.5h2.6v2.6h-2.6zM370.7 210.2h2.6v2.6h-2.6zM371.0 209.8h2.6v2.6h-2.6zM371.2 210.5h2.6v2.6h-2.6zM371.5 209.1h2.6v2.6h-2.6zM371.8 211.9h2.6v2.6h-2.6zM372.0 208.8h2.6v2.6h-2.6zM372.6 211.0h2.6v2.6h-2.6zM372.8 211.5h2.6v2.6h-2.6zM373.1 211.9h2.6v2.6h-2.6zM373.4 210.1h2.6v2.6h-2.6zM373.9 209.8h2.6v2.6h-2.6zM374.1 210.2h2.6v2.6h-2.6zM374.7 209.7h2.6v2.6h-2.6zM374.9 211.2h2.6v2.6h-2.6zM375.2 209.2h2.6v2.6h-2.6zM375.5 212.4h2.6v2.6h-2.6zM376.0 213.7h2.6v2.6h-2.6zM376.2 208.0h2.6v2.6h-2.6zM376.5 209.7h2.6v2.6h-2.6zM376.8 207.1h2.6v2.6h-2.6zM377.0 210.1h2.6v2.6h-2.6zM378.1 209.2h2.6v2.6h-2.6zM378.4 208.1h2.6v2.6h-2.6zM378.6 206.7h2.6v2.6h-2.6zM379.1 208.2h2.6v2.6h-2.6zM379.4 211.3h2.6v2.6h-2.6zM379.7 210.6h2.6v2.6h-2.6zM380.5 208.4h2.6v2.6h-2.6zM381.0 206.6h2.6v2.6h-2.6zM381.2 207.5h2.6v2.6h-2.6zM381.5 206.2h2.6v2.6h-2.6zM381.8 205.2h2.6v2.6h-2.6zM382.0 205.8h2.6v2.6h-2.6zM382.3 208.2h2.6v2.6h-2.6zM382.8 207.5h2.6v2.6h-2.6zM383.1 207.2h2.6v2.6h-2.6zM383.6 205.0h2.6v2.6h-2.6zM384.4 204.3h2.6v2.6h-2.6zM384.7 208.1h2.6v2.6h-2.6zM384.9 205.9h2.6v2.6h-2.6zM385.5 208.2h2.6v2.6h-2.6zM385.7 205.0h2.6v2.6h-2.6zM386.2 207.7h2.6v2.6h-2.6zM386.5 206.4h2.6v2.6h-2.6zM386.8 205.3h2.6v2.6h-2.6zM387.0 205.2h2.6v2.6h-2.6zM387.3 208.9h2.6v2.6h-2.6zM387.6 207.3h2.6v2.6h-2.6zM387.8 205.3h2.6v2.6h-2.6zM388.1 206.0h2.6v2.6h-2.6zM388.4 203.1h2.6v2.6h-2.6zM388.6 208.3h2.6v2.6h-2.6zM388.9 207.8h2.6v2.6h-2.6zM389.1 204.8h2.6v2.6h-2.6zM389.4 206.2h2.6v2.6h-2.6zM389.9 200.9h2.6v2.6h-2.6zM390.2 206.8h2.6v2.6h-2.6zM390.5 206.0h2.6v2.6h-2.6zM391.0 205.5h2.6v2.6h-2.6zM391.2 206.4h2.6v2.6h-2.6zM391.5 205.5h2.6v2.6h-2.6zM391.8 203.4h2.6v2.6h-2.6zM392.3 203.8h2.6v2.6h-2.6zM392.6 204.5h2.6v2.6h-2.6zM392.8 206.2h2.6v2.6h-2.6zM393.1 204.8h2.6v2.6h-2.6zM393.6 203.6h2.6v2.6h-2.6zM393.9 205.2h2.6v2.6h-2.6zM394.1 202.6h2.6v2.6h-2.6zM394.4 207.9h2.6v2.6h-2.6zM394.7 205.0h2.6v2.6h-2.6zM394.9 202.9h2.6v2.6h-2.6zM395.5 204.6h2.6v2.6h-2.6zM395.7 206.1h2.6v2.6h-2.6zM396.0 205.2h2.6v2.6h-2.6zM396.2 207.5h2.6v2.6h-2.6zM396.5 201.9h2.6v2.6h-2.6zM396.8 206.7h2.6v2.6h-2.6zM397.0 204.1h2.6v2.6h-2.6zM397.3 205.5h2.6v2.6h-2.6zM397.6 206.8h2.6v2.6h-2.6zM397.8 202.1h2.6v2.6h-2.6zM398.1 201.7h2.6v2.6h-2.6zM398.4 203.3h2.6v2.6h-2.6zM398.6 201.2h2.6v2.6h-2.6zM398.9 200.6h2.6v2.6h-2.6zM399.1 204.0h2.6v2.6h-2.6zM399.4 205.7h2.6v2.6h-2.6zM399.9 203.0h2.6v2.6h-2.6zM400.2 204.5h2.6v2.6h-2.6zM400.5 209.6h2.6v2.6h-2.6zM400.7 204.2h2.6v2.6h-2.6zM401.2 203.1h2.6v2.6h-2.6zM401.8 203.2h2.6v2.6h-2.6zM402.0 204.2h2.6v2.6h-2.6zM402.3 203.0h2.6v2.6h-2.6zM402.8 204.5h2.6v2.6h-2.6zM403.1 203.7h2.6v2.6h-2.6zM403.4 204.7h2.6v2.6h-2.6zM403.6 203.5h2.6v2.6h-2.6zM403.9 203.1h2.6v2.6h-2.6zM404.1 201.7h2.6v2.6h-2.6zM404.4 200.9h2.6v2.6h-2.6zM404.7 202.6h2.6v2.6h-2.6zM404.9 202.4h2.6v2.6h-2.6zM405.2 203.4h2.6v2.6h-2.6zM405.5 202.8h2.6v2.6h-2.6zM405.7 202.3h2.6v2.6h-2.6zM406.0 206.5h2.6v2.6h-2.6zM406.2 203.3h2.6v2.6h-2.6zM406.5 204.7h2.6v2.6h-2.6zM406.8 201.1h2.6v2.6h-2.6zM407.0 204.3h2.6v2.6h-2.6zM407.3 204.5h2.6v2.6h-2.6zM407.6 203.3h2.6v2.6h-2.6zM407.8 201.1h2.6v2.6h-2.6zM408.1 204.5h2.6v2.6h-2.6zM408.4 201.3h2.6v2.6h-2.6zM408.6 199.9h2.6v2.6h-2.6zM408.9 199.8h2.6v2.6h-2.6zM409.1 202.4h2.6v2.6h-2.6zM409.9 201.4h2.6v2.6h-2.6zM410.2 203.5h2.6v2.6h-2.6zM410.5 203.2h2.6v2.6h-2.6zM410.7 204.3h2.6v2.6h-2.6zM411.0 202.6h2.6v2.6h-2.6zM411.3 202.2h2.6v2.6h-2.6zM411.5 202.0h2.6v2.6h-2.6zM411.8 200.7h2.6v2.6h-2.6zM412.0 200.6h2.6v2.6h-2.6zM412.3 200.7h2.6v2.6h-2.6zM412.6 202.2h2.6v2.6h-2.6zM412.8 200.4h2.6v2.6h-2.6zM413.1 201.6h2.6v2.6h-2.6zM413.4 203.5h2.6v2.6h-2.6zM413.6 197.8h2.6v2.6h-2.6zM413.9 200.3h2.6v2.6h-2.6zM414.1 200.0h2.6v2.6h-2.6zM414.4 201.6h2.6v2.6h-2.6zM414.7 199.2h2.6v2.6h-2.6zM414.9 200.5h2.6v2.6h-2.6zM415.2 205.2h2.6v2.6h-2.6zM415.5 199.3h2.6v2.6h-2.6zM415.7 201.3h2.6v2.6h-2.6zM416.3 201.8h2.6v2.6h-2.6zM416.5 201.0h2.6v2.6h-2.6zM416.8 199.5h2.6v2.6h-2.6zM417.0 203.0h2.6v2.6h-2.6zM417.6 198.3h2.6v2.6h-2.6zM417.8 199.9h2.6v2.6h-2.6zM418.1 201.0h2.6v2.6h-2.6zM418.4 200.4h2.6v2.6h-2.6zM418.6 203.3h2.6v2.6h-2.6zM418.9 200.9h2.6v2.6h-2.6zM419.1 204.5h2.6v2.6h-2.6zM419.7 201.4h2.6v2.6h-2.6zM419.9 203.9h2.6v2.6h-2.6zM420.2 202.1h2.6v2.6h-2.6zM420.5 201.0h2.6v2.6h-2.6zM420.7 201.0h2.6v2.6h-2.6zM421.0 203.1h2.6v2.6h-2.6zM421.3 200.6h2.6v2.6h-2.6zM421.5 201.4h2.6v2.6h-2.6zM421.8 200.2h2.6v2.6h-2.6zM422.0 198.2h2.6v2.6h-2.6zM422.3 202.4h2.6v2.6h-2.6zM422.8 202.6h2.6v2.6h-2.6zM423.6 199.7h2.6v2.6h-2.6zM423.9 202.4h2.6v2.6h-2.6zM424.1 201.3h2.6v2.6h-2.6zM424.4 198.7h2.6v2.6h-2.6zM424.7 200.2h2.6v2.6h-2.6zM425.2 202.9h2.6v2.6h-2.6zM425.5 203.5h2.6v2.6h-2.6zM425.7 202.5h2.6v2.6h-2.6zM426.0 206.4h2.6v2.6h-2.6zM426.3 202.5h2.6v2.6h-2.6zM426.5 200.8h2.6v2.6h-2.6zM426.8 199.6h2.6v2.6h-2.6zM427.0 204.4h2.6v2.6h-2.6zM427.3 201.3h2.6v2.6h-2.6zM427.6 201.5h2.6v2.6h-2.6zM427.8 200.8h2.6v2.6h-2.6zM428.1 200.8h2.6v2.6h-2.6zM428.4 201.6h2.6v2.6h-2.6zM428.6 202.9h2.6v2.6h-2.6zM428.9 203.1h2.6v2.6h-2.6zM429.1 202.8h2.6v2.6h-2.6zM429.4 203.8h2.6v2.6h-2.6zM429.7 201.5h2.6v2.6h-2.6zM429.9 200.7h2.6v2.6h-2.6zM430.5 202.3h2.6v2.6h-2.6zM430.7 199.1h2.6v2.6h-2.6zM431.0 203.8h2.6v2.6h-2.6zM431.3 203.2h2.6v2.6h-2.6zM431.5 203.3h2.6v2.6h-2.6zM431.8 200.7h2.6v2.6h-2.6zM432.0 201.6h2.6v2.6h-2.6zM432.3 202.5h2.6v2.6h-2.6zM432.6 200.8h2.6v2.6h-2.6zM432.8 200.7h2.6v2.6h-2.6zM433.1 202.1h2.6v2.6h-2.6zM433.4 202.6h2.6v2.6h-2.6zM433.6 201.3h2.6v2.6h-2.6zM433.9 204.0h2.6v2.6h-2.6zM434.1 205.9h2.6v2.6h-2.6zM434.4 203.3h2.6v2.6h-2.6zM434.7 202.1h2.6v2.6h-2.6zM435.2 201.8h2.6v2.6h-2.6zM435.5 204.9h2.6v2.6h-2.6zM436.0 202.8h2.6v2.6h-2.6zM436.3 203.2h2.6v2.6h-2.6zM436.5 202.6h2.6v2.6h-2.6zM436.8 201.3h2.6v2.6h-2.6zM437.3 204.6h2.6v2.6h-2.6zM437.6 201.7h2.6v2.6h-2.6zM438.1 202.3h2.6v2.6h-2.6zM438.4 198.5h2.6v2.6h-2.6zM438.6 205.4h2.6v2.6h-2.6zM438.9 203.1h2.6v2.6h-2.6zM439.1 201.7h2.6v2.6h-2.6zM439.4 200.6h2.6v2.6h-2.6zM439.7 200.8h2.6v2.6h-2.6zM439.9 199.0h2.6v2.6h-2.6zM440.5 202.4h2.6v2.6h-2.6zM440.7 200.2h2.6v2.6h-2.6zM441.3 202.2h2.6v2.6h-2.6zM442.0 202.1h2.6v2.6h-2.6zM442.3 204.5h2.6v2.6h-2.6zM442.6 201.7h2.6v2.6h-2.6zM442.8 201.8h2.6v2.6h-2.6zM443.1 202.1h2.6v2.6h-2.6zM443.4 200.2h2.6v2.6h-2.6zM443.6 200.8h2.6v2.6h-2.6zM444.1 201.6h2.6v2.6h-2.6zM444.7 202.9h2.6v2.6h-2.6zM444.9 202.2h2.6v2.6h-2.6zM445.2 200.5h2.6v2.6h-2.6zM445.5 202.8h2.6v2.6h-2.6zM445.7 200.2h2.6v2.6h-2.6zM446.3 198.3h2.6v2.6h-2.6zM446.5 203.2h2.6v2.6h-2.6zM446.8 200.7h2.6v2.6h-2.6zM447.0 199.9h2.6v2.6h-2.6zM447.3 198.7h2.6v2.6h-2.6zM447.6 199.9h2.6v2.6h-2.6zM447.8 203.2h2.6v2.6h-2.6zM448.1 200.4h2.6v2.6h-2.6zM448.4 204.0h2.6v2.6h-2.6zM448.6 200.5h2.6v2.6h-2.6zM448.9 202.2h2.6v2.6h-2.6zM449.1 200.4h2.6v2.6h-2.6zM449.4 199.6h2.6v2.6h-2.6zM449.9 199.5h2.6v2.6h-2.6zM450.2 199.7h2.6v2.6h-2.6zM450.5 198.2h2.6v2.6h-2.6zM450.7 198.1h2.6v2.6h-2.6zM451.0 200.6h2.6v2.6h-2.6zM451.3 202.0h2.6v2.6h-2.6zM451.5 200.2h2.6v2.6h-2.6zM452.0 199.9h2.6v2.6h-2.6zM452.6 198.3h2.6v2.6h-2.6zM452.8 201.5h2.6v2.6h-2.6zM453.1 201.3h2.6v2.6h-2.6zM453.4 197.7h2.6v2.6h-2.6zM453.6 199.7h2.6v2.6h-2.6zM453.9 199.0h2.6v2.6h-2.6zM454.1 197.0h2.6v2.6h-2.6zM454.4 202.0h2.6v2.6h-2.6zM454.7 201.3h2.6v2.6h-2.6zM454.9 199.8h2.6v2.6h-2.6zM455.2 201.5h2.6v2.6h-2.6zM455.5 198.4h2.6v2.6h-2.6zM455.7 199.6h2.6v2.6h-2.6zM456.0 201.3h2.6v2.6h-2.6zM456.3 198.6h2.6v2.6h-2.6zM456.5 199.5h2.6v2.6h-2.6zM456.8 197.4h2.6v2.6h-2.6zM457.0 199.9h2.6v2.6h-2.6zM457.6 200.6h2.6v2.6h-2.6zM457.8 197.1h2.6v2.6h-2.6zM458.1 197.4h2.6v2.6h-2.6zM458.4 198.5h2.6v2.6h-2.6zM458.9 200.7h2.6v2.6h-2.6zM459.1 197.6h2.6v2.6h-2.6zM459.4 197.0h2.6v2.6h-2.6zM459.7 198.1h2.6v2.6h-2.6zM460.2 200.0h2.6v2.6h-2.6zM460.5 195.6h2.6v2.6h-2.6zM460.7 197.7h2.6v2.6h-2.6zM461.0 200.0h2.6v2.6h-2.6zM461.5 197.8h2.6v2.6h-2.6zM462.0 197.2h2.6v2.6h-2.6zM462.3 199.0h2.6v2.6h-2.6zM462.6 195.6h2.6v2.6h-2.6zM462.8 200.8h2.6v2.6h-2.6zM463.1 198.2h2.6v2.6h-2.6zM463.4 196.7h2.6v2.6h-2.6zM463.6 197.4h2.6v2.6h-2.6zM463.9 197.1h2.6v2.6h-2.6zM464.1 196.6h2.6v2.6h-2.6zM464.4 195.0h2.6v2.6h-2.6zM464.9 196.5h2.6v2.6h-2.6zM465.2 194.0h2.6v2.6h-2.6zM465.5 198.9h2.6v2.6h-2.6zM465.7 194.8h2.6v2.6h-2.6zM466.0 195.4h2.6v2.6h-2.6zM466.3 195.2h2.6v2.6h-2.6zM466.5 197.5h2.6v2.6h-2.6zM466.8 196.0h2.6v2.6h-2.6zM467.0 198.5h2.6v2.6h-2.6zM467.3 195.4h2.6v2.6h-2.6zM467.6 196.3h2.6v2.6h-2.6zM467.8 195.9h2.6v2.6h-2.6zM468.1 195.4h2.6v2.6h-2.6zM468.4 197.6h2.6v2.6h-2.6zM468.6 197.7h2.6v2.6h-2.6zM468.9 197.7h2.6v2.6h-2.6zM469.1 193.3h2.6v2.6h-2.6zM469.4 195.9h2.6v2.6h-2.6zM469.7 193.4h2.6v2.6h-2.6zM469.9 193.3h2.6v2.6h-2.6zM470.5 192.0h2.6v2.6h-2.6zM470.7 193.2h2.6v2.6h-2.6zM471.0 195.6h2.6v2.6h-2.6zM471.5 196.6h2.6v2.6h-2.6zM471.8 197.0h2.6v2.6h-2.6zM472.3 192.5h2.6v2.6h-2.6zM472.8 192.7h2.6v2.6h-2.6zM473.1 193.9h2.6v2.6h-2.6zM473.4 193.6h2.6v2.6h-2.6zM473.6 193.6h2.6v2.6h-2.6zM473.9 190.3h2.6v2.6h-2.6zM474.1 192.7h2.6v2.6h-2.6zM474.4 193.8h2.6v2.6h-2.6zM474.7 193.2h2.6v2.6h-2.6zM474.9 192.4h2.6v2.6h-2.6zM475.2 191.3h2.6v2.6h-2.6zM475.5 192.2h2.6v2.6h-2.6zM475.7 194.8h2.6v2.6h-2.6zM476.8 192.5h2.6v2.6h-2.6zM477.0 193.2h2.6v2.6h-2.6zM477.3 194.0h2.6v2.6h-2.6zM477.6 189.5h2.6v2.6h-2.6zM477.8 192.2h2.6v2.6h-2.6zM478.1 191.7h2.6v2.6h-2.6zM478.4 192.9h2.6v2.6h-2.6zM478.6 190.3h2.6v2.6h-2.6zM478.9 190.2h2.6v2.6h-2.6zM479.1 189.4h2.6v2.6h-2.6zM479.4 190.6h2.6v2.6h-2.6zM479.7 189.8h2.6v2.6h-2.6zM479.9 189.9h2.6v2.6h-2.6zM480.7 190.3h2.6v2.6h-2.6zM481.0 189.0h2.6v2.6h-2.6zM481.3 188.1h2.6v2.6h-2.6zM481.8 188.7h2.6v2.6h-2.6zM482.0 188.3h2.6v2.6h-2.6zM482.3 189.8h2.6v2.6h-2.6zM482.6 191.0h2.6v2.6h-2.6zM482.8 188.3h2.6v2.6h-2.6zM483.1 184.9h2.6v2.6h-2.6zM483.4 189.6h2.6v2.6h-2.6zM483.6 188.4h2.6v2.6h-2.6zM483.9 186.9h2.6v2.6h-2.6zM484.2 187.9h2.6v2.6h-2.6zM484.4 191.2h2.6v2.6h-2.6zM484.7 185.7h2.6v2.6h-2.6zM484.9 186.2h2.6v2.6h-2.6zM485.2 187.8h2.6v2.6h-2.6zM485.5 182.8h2.6v2.6h-2.6zM485.7 187.0h2.6v2.6h-2.6zM486.0 189.2h2.6v2.6h-2.6zM486.3 188.4h2.6v2.6h-2.6zM486.5 188.0h2.6v2.6h-2.6zM486.8 186.8h2.6v2.6h-2.6zM487.0 187.0h2.6v2.6h-2.6zM487.3 191.5h2.6v2.6h-2.6zM487.6 187.4h2.6v2.6h-2.6zM487.8 189.1h2.6v2.6h-2.6zM488.1 184.8h2.6v2.6h-2.6zM488.4 187.2h2.6v2.6h-2.6zM488.6 187.3h2.6v2.6h-2.6zM488.9 186.8h2.6v2.6h-2.6zM489.2 183.0h2.6v2.6h-2.6zM489.4 185.8h2.6v2.6h-2.6zM489.7 188.7h2.6v2.6h-2.6zM489.9 187.2h2.6v2.6h-2.6zM490.2 184.9h2.6v2.6h-2.6zM490.5 187.5h2.6v2.6h-2.6zM490.7 183.0h2.6v2.6h-2.6zM491.0 186.9h2.6v2.6h-2.6zM491.3 186.4h2.6v2.6h-2.6zM491.5 184.8h2.6v2.6h-2.6zM491.8 184.1h2.6v2.6h-2.6zM492.0 183.0h2.6v2.6h-2.6zM492.3 185.3h2.6v2.6h-2.6zM492.6 188.3h2.6v2.6h-2.6zM492.8 186.9h2.6v2.6h-2.6zM493.1 186.1h2.6v2.6h-2.6zM493.4 186.8h2.6v2.6h-2.6zM493.6 184.3h2.6v2.6h-2.6zM493.9 186.1h2.6v2.6h-2.6zM494.2 180.5h2.6v2.6h-2.6zM494.4 184.3h2.6v2.6h-2.6zM494.7 184.2h2.6v2.6h-2.6zM494.9 184.8h2.6v2.6h-2.6zM495.2 184.6h2.6v2.6h-2.6zM495.5 185.8h2.6v2.6h-2.6zM496.0 183.7h2.6v2.6h-2.6zM496.3 186.1h2.6v2.6h-2.6zM496.5 184.2h2.6v2.6h-2.6zM496.8 185.9h2.6v2.6h-2.6zM497.0 184.6h2.6v2.6h-2.6zM497.3 185.8h2.6v2.6h-2.6zM497.6 185.1h2.6v2.6h-2.6zM497.8 183.3h2.6v2.6h-2.6zM498.1 184.5h2.6v2.6h-2.6zM498.4 182.1h2.6v2.6h-2.6zM498.6 184.2h2.6v2.6h-2.6zM498.9 184.7h2.6v2.6h-2.6zM499.2 183.6h2.6v2.6h-2.6zM499.4 183.7h2.6v2.6h-2.6zM499.9 185.5h2.6v2.6h-2.6zM500.2 185.8h2.6v2.6h-2.6zM500.5 186.1h2.6v2.6h-2.6zM500.7 182.9h2.6v2.6h-2.6zM501.5 183.1h2.6v2.6h-2.6zM501.8 185.0h2.6v2.6h-2.6zM502.0 185.1h2.6v2.6h-2.6zM502.3 180.8h2.6v2.6h-2.6zM502.6 186.8h2.6v2.6h-2.6zM502.8 185.5h2.6v2.6h-2.6zM503.1 181.6h2.6v2.6h-2.6zM503.4 185.4h2.6v2.6h-2.6zM503.6 182.9h2.6v2.6h-2.6zM503.9 183.3h2.6v2.6h-2.6zM504.2 181.9h2.6v2.6h-2.6zM504.4 182.2h2.6v2.6h-2.6zM504.7 182.9h2.6v2.6h-2.6zM504.9 183.6h2.6v2.6h-2.6zM505.2 181.7h2.6v2.6h-2.6zM505.5 183.3h2.6v2.6h-2.6zM505.7 182.3h2.6v2.6h-2.6zM506.0 182.5h2.6v2.6h-2.6zM506.5 181.9h2.6v2.6h-2.6zM506.8 182.3h2.6v2.6h-2.6zM507.0 185.9h2.6v2.6h-2.6zM507.3 180.7h2.6v2.6h-2.6zM507.6 181.2h2.6v2.6h-2.6zM507.8 183.1h2.6v2.6h-2.6zM508.1 182.4h2.6v2.6h-2.6zM508.4 181.5h2.6v2.6h-2.6zM508.6 183.8h2.6v2.6h-2.6zM509.2 181.3h2.6v2.6h-2.6zM509.4 183.1h2.6v2.6h-2.6zM509.7 184.6h2.6v2.6h-2.6zM509.9 184.0h2.6v2.6h-2.6zM510.2 182.6h2.6v2.6h-2.6zM510.5 183.1h2.6v2.6h-2.6zM510.7 183.3h2.6v2.6h-2.6zM511.0 184.0h2.6v2.6h-2.6zM511.3 181.5h2.6v2.6h-2.6zM511.5 185.0h2.6v2.6h-2.6zM511.8 184.2h2.6v2.6h-2.6zM512.0 186.0h2.6v2.6h-2.6zM512.3 184.3h2.6v2.6h-2.6zM512.6 184.6h2.6v2.6h-2.6zM512.8 178.2h2.6v2.6h-2.6zM513.1 182.2h2.6v2.6h-2.6zM513.4 185.9h2.6v2.6h-2.6zM513.6 183.5h2.6v2.6h-2.6zM513.9 182.2h2.6v2.6h-2.6zM514.2 184.0h2.6v2.6h-2.6zM514.4 183.0h2.6v2.6h-2.6zM514.7 183.5h2.6v2.6h-2.6zM514.9 181.7h2.6v2.6h-2.6zM515.2 183.7h2.6v2.6h-2.6zM515.5 185.3h2.6v2.6h-2.6zM515.7 183.2h2.6v2.6h-2.6zM516.0 183.5h2.6v2.6h-2.6zM516.8 181.7h2.6v2.6h-2.6zM517.0 183.6h2.6v2.6h-2.6zM517.3 182.2h2.6v2.6h-2.6zM517.6 180.6h2.6v2.6h-2.6zM518.1 182.1h2.6v2.6h-2.6zM518.4 182.4h2.6v2.6h-2.6zM518.6 183.7h2.6v2.6h-2.6zM518.9 184.3h2.6v2.6h-2.6zM519.2 182.5h2.6v2.6h-2.6zM519.7 182.2h2.6v2.6h-2.6zM519.9 183.8h2.6v2.6h-2.6zM520.2 181.4h2.6v2.6h-2.6zM520.7 182.3h2.6v2.6h-2.6zM521.0 182.4h2.6v2.6h-2.6zM522.0 182.6h2.6v2.6h-2.6zM522.3 181.9h2.6v2.6h-2.6zM522.6 185.4h2.6v2.6h-2.6zM522.8 184.4h2.6v2.6h-2.6zM523.1 182.6h2.6v2.6h-2.6zM523.6 180.5h2.6v2.6h-2.6zM523.9 182.0h2.6v2.6h-2.6zM524.2 183.8h2.6v2.6h-2.6zM524.4 179.7h2.6v2.6h-2.6zM524.7 186.8h2.6v2.6h-2.6zM524.9 182.7h2.6v2.6h-2.6zM525.5 182.8h2.6v2.6h-2.6zM525.7 183.9h2.6v2.6h-2.6zM526.0 180.6h2.6v2.6h-2.6zM526.3 183.0h2.6v2.6h-2.6zM526.5 182.9h2.6v2.6h-2.6zM526.8 184.1h2.6v2.6h-2.6zM527.3 181.3h2.6v2.6h-2.6zM527.6 183.9h2.6v2.6h-2.6zM528.4 184.8h2.6v2.6h-2.6zM528.6 183.4h2.6v2.6h-2.6zM529.2 182.1h2.6v2.6h-2.6zM529.4 181.6h2.6v2.6h-2.6zM529.7 180.1h2.6v2.6h-2.6zM529.9 182.1h2.6v2.6h-2.6zM530.5 183.8h2.6v2.6h-2.6zM530.7 185.4h2.6v2.6h-2.6zM531.0 184.7h2.6v2.6h-2.6zM531.3 184.9h2.6v2.6h-2.6zM531.8 182.2h2.6v2.6h-2.6zM532.0 182.3h2.6v2.6h-2.6zM118.3 239.0h2.6v2.6h-2.6zM148.9 239.0h2.6v2.6h-2.6zM155.4 234.6h2.6v2.6h-2.6zM154.7 261.5h2.6v2.6h-2.6zM144.5 257.9h2.6v2.6h-2.6zM154.0 255.0h2.6v2.6h-2.6zM154.0 242.3h2.6v2.6h-2.6zM148.9 244.1h2.6v2.6h-2.6zM253.4 205.3h2.6v2.6h-2.6zM253.4 219.2h2.6v2.6h-2.6zM229.7 215.2h2.6v2.6h-2.6zM230.7 217.7h2.6v2.6h-2.6zM231.7 220.2h2.6v2.6h-2.6zM210.7 267.7h2.6v2.6h-2.6zM220.6 261.9h2.6v2.6h-2.6zM222.7 262.3h2.6v2.6h-2.6zM222.2 247.2h2.6v2.6h-2.6zM222.5 249.3h2.6v2.6h-2.6zM186.1 254.6h2.6v2.6h-2.6zM186.3 256.7h2.6v2.6h-2.6zM195.1 247.2h2.6v2.6h-2.6zM194.3 252.1h2.6v2.6h-2.6zM200.9 248.8h2.6v2.6h-2.6zM232.9 254.6h2.6v2.6h-2.6zM237.8 251.3h2.6v2.6h-2.6zM347.7 196.3h2.6v2.6h-2.6zM348.8 241.7h2.6v2.6h-2.6zM300.2 235.6h2.6v2.6h-2.6zM299.1 239.3h2.6v2.6h-2.6zM366.1 204.4h2.6v2.6h-2.6zM370.4 206.6h2.6v2.6h-2.6zM448.7 176.9h2.6v2.6h-2.6zM456.5 190.9h2.6v2.6h-2.6zM420.2 207.8h2.6v2.6h-2.6zM467.8 204.2h2.6v2.6h-2.6zM481.6 201.2h2.6v2.6h-2.6zM468.7 205.0h2.6v2.6h-2.6z"/>
<path clip-path="url(#c1)" fill="none" stroke="#f00000" stroke-width="1.3" d="M62.0 265.6 63.5 265.5 65.0 265.3 66.5 265.1 68.0 264.8 69.5 264.5 71.0 264.3 72.5 264.0 74.0 263.7 75.5 263.3 77.0 263.0 78.5 262.7 80.0 262.3 81.5 262.0 83.0 261.6 84.5 261.2 86.0 260.8 87.5 260.4 89.0 259.9 90.5 259.5 92.0 259.0 93.5 258.5 95.0 258.0 96.5 257.5 98.0 256.9 99.5 256.4 101.0 255.8 102.5 255.3 104.0 254.8 105.5 254.2 107.0 253.7 108.5 253.2 110.0 252.7 111.5 252.3 113.0 252.0 114.5 251.7 116.0 251.5 117.5 251.4 119.0 251.3 120.5 251.2 122.0 251.2 123.5 251.1 125.0 251.0 126.5 250.9 128.0 250.9 129.5 250.8 131.0 250.7 132.5 250.6 134.0 250.6 135.5 250.5 137.0 250.5 138.5 250.5 140.0 250.5 141.5 250.5 143.0 250.5 144.5 250.5 146.0 250.5 147.5 250.5 149.0 250.4 150.5 250.3 152.0 250.2 153.5 250.0 155.0 249.9 156.5 249.7 158.0 249.5 159.5 249.3 161.0 249.2 162.5 249.0 164.0 248.7 165.5 248.5 167.0 248.3 168.5 248.0 170.0 247.6 171.5 247.3 173.0 246.8 174.5 246.4 176.0 245.9 177.5 245.4 179.0 244.8 180.5 244.3 182.0 243.7 183.5 243.0 185.0 242.4 186.5 241.7 188.0 241.1 189.5 240.6 191.0 240.0 192.5 239.6 194.0 239.2 195.5 238.9 197.0 238.6 198.5 238.3 200.0 238.1 201.5 237.8 203.0 237.5 204.5 237.3 206.0 237.0 207.5 236.7 209.0 236.5 210.5 236.2 212.0 236.0 213.5 235.8 215.0 235.7 216.5 235.6 218.0 235.5 219.5 235.4 221.0 235.3 222.5 235.3 224.0 235.2 225.5 235.2 227.0 235.2 228.5 235.2 230.0 235.2 231.5 235.2 233.0 235.2 234.5 235.2 236.0 235.2 237.5 235.1 239.0 235.0 240.5 234.9 242.0 234.8 243.5 234.6 245.0 234.4 246.5 234.3 248.0 234.1 249.5 233.9 251.0 233.6 252.5 233.4 254.0 233.1 255.5 232.8 257.0 232.6 258.5 232.3 260.0 232.0 261.5 231.7 263.0 231.5 264.5 231.2 266.0 230.9 267.5 230.5 269.0 230.1 270.5 229.7 272.0 229.2 273.5 228.8 275.0 228.3 276.5 227.9 278.0 227.4 279.5 227.1 281.0 226.8 282.5 226.5 284.0 226.3 285.5 226.1 287.0 225.8 288.5 225.6 290.0 225.3 291.5 225.0 293.0 224.6 294.5 224.1 296.0 223.7 297.5 223.2 299.0 222.7 300.5 222.3 302.0 221.9 303.5 221.5 305.0 221.2 306.5 220.9 308.0 220.6 309.5 220.4 311.0 220.1 312.5 220.0 314.0 219.8 315.5 219.7 317.0 219.6 318.5 219.5 320.0 219.4 321.5 219.4 323.0 219.3 324.5 219.3 326.0 219.3 327.5 219.3 329.0 219.3 330.5 219.3 332.0 219.3 333.5 219.3 335.0 219.3 336.5 219.2 338.0 219.2 339.5 219.1 341.0 219.0 342.5 218.9 344.0 218.7 345.5 218.6 347.0 218.4 348.5 218.2 350.0 217.9 351.5 217.7 353.0 217.4 354.5 217.1 356.0 216.8 357.5 216.4 359.0 216.1 360.5 215.7 362.0 215.3 363.5 214.9 365.0 214.5 366.5 214.0 368.0 213.6 369.5 213.1 371.0 212.7 372.5 212.2 374.0 211.8 375.5 211.3 377.0 210.9 378.5 210.4 380.0 209.9 381.5 209.5 383.0 209.0 384.5 208.5 386.0 208.1 387.5 207.7 389.0 207.4 390.5 207.1 392.0 206.8 393.5 206.5 395.0 206.3 396.5 206.0 398.0 205.8 399.5 205.6 401.0 205.4 402.5 205.2 404.0 205.0 405.5 204.7 407.0 204.5 408.5 204.2 410.0 204.0 411.5 203.7 413.0 203.5 414.5 203.3 416.0 203.1 417.5 203.0 419.0 203.0 420.5 203.0 422.0 203.1 423.5 203.2 425.0 203.3 426.5 203.5 428.0 203.6 429.5 203.7 431.0 203.8 432.5 203.9 434.0 203.9 435.5 203.9 437.0 203.8 438.5 203.6 440.0 203.4 441.5 203.2 443.0 202.9 444.5 202.7 446.0 202.4 447.5 202.1 449.0 201.9 450.5 201.6 452.0 201.3 453.5 201.1 455.0 200.8 456.5 200.5 458.0 200.1 459.5 199.8 461.0 199.5 462.5 199.1 464.0 198.7 465.5 198.3 467.0 197.9 468.5 197.5 470.0 197.0 471.5 196.6 473.0 196.1 474.5 195.6 476.0 195.1 477.5 194.6 479.0 194.1 480.5 193.6 482.0 193.0 483.5 192.5 485.0 191.9 486.5 191.4 488.0 190.9 489.5 190.5 491.0 190.1 492.5 189.7 494.0 189.4 495.5 189.1 497.0 188.8 498.5 188.5 500.0 188.3 501.5 188.1 503.0 187.9 504.5 187.7 506.0 187.6 507.5 187.4 509.0 187.3 510.5 187.1 512.0 187.0 513.5 186.9 515.0 186.8 516.5 186.7 518.0 186.7 519.5 186.6 521.0 186.6 522.5 186.6 524.0 186.6 525.5 186.6 527.0 186.6 528.5 186.6 530.0 186.6 531.5 186.6 533.0 186.6"/>
<path clip-path="url(#c2)" fill="#000" d="M60.6 389.2h2.8v2.8h-2.8zM61.1 342.7h2.8v2.8h-2.8zM61.4 381.0h2.8v2.8h-2.8zM61.7 372.6h2.8v2.8h-2.8zM62.2 384.4h2.8v2.8h-2.8zM62.4 375.6h2.8v2.8h-2.8zM62.7 389.3h2.8v2.8h-2.8zM63.0 372.2h2.8v2.8h-2.8zM63.2 367.8h2.8v2.8h-2.8zM63.5 377.4h2.8v2.8h-2.8zM63.8 376.0h2.8v2.8h-2.8zM64.0 368.5h2.8v2.8h-2.8zM64.3 374.1h2.8v2.8h-2.8zM64.5 378.7h2.8v2.8h-2.8zM65.1 378.6h2.8v2.8h-2.8zM65.3 367.2h2.8v2.8h-2.8zM65.9 368.4h2.8v2.8h-2.8zM66.1 397.1h2.8v2.8h-2.8zM66.4 387.8h2.8v2.8h-2.8zM66.7 369.7h2.8v2.8h-2.8zM66.9 384.6h2.8v2.8h-2.8zM67.2 375.8h2.8v2.8h-2.8zM67.4 390.3h2.8v2.8h-2.8zM68.0 345.4h2.8v2.8h-2.8zM68.2 387.1h2.8v2.8h-2.8zM68.5 385.9h2.8v2.8h-2.8zM68.8 364.0h2.8v2.8h-2.8zM69.0 379.1h2.8v2.8h-2.8zM69.3 357.7h2.8v2.8h-2.8zM69.5 375.0h2.8v2.8h-2.8zM69.8 373.1h2.8v2.8h-2.8zM70.1 373.8h2.8v2.8h-2.8zM70.3 368.2h2.8v2.8h-2.8zM70.6 364.0h2.8v2.8h-2.8zM70.9 368.4h2.8v2.8h-2.8zM71.1 381.6h2.8v2.8h-2.8zM71.7 376.2h2.8v2.8h-2.8zM71.9 369.1h2.8v2.8h-2.8zM72.2 359.8h2.8v2.8h-2.8zM72.4 359.4h2.8v2.8h-2.8zM72.7 357.8h2.8v2.8h-2.8zM73.0 381.4h2.8v2.8h-2.8zM73.2 364.5h2.8v2.8h-2.8zM73.8 378.5h2.8v2.8h-2.8zM74.0 373.7h2.8v2.8h-2.8zM74.3 385.5h2.8v2.8h-2.8zM74.5 389.2h2.8v2.8h-2.8zM74.8 377.9h2.8v2.8h-2.8zM75.1 376.4h2.8v2.8h-2.8zM75.3 384.7h2.8v2.8h-2.8zM75.6 370.9h2.8v2.8h-2.8zM76.1 377.2h2.8v2.8h-2.8zM76.4 370.0h2.8v2.8h-2.8zM76.7 348.1h2.8v2.8h-2.8zM76.9 377.5h2.8v2.8h-2.8zM77.2 340.0h2.8v2.8h-2.8zM77.4 383.0h2.8v2.8h-2.8zM77.7 400.1h2.8v2.8h-2.8zM78.0 367.5h2.8v2.8h-2.8zM78.2 367.8h2.8v2.8h-2.8zM78.8 374.4h2.8v2.8h-2.8zM79.3 364.8h2.8v2.8h-2.8zM79.8 372.7h2.8v2.8h-2.8zM80.1 377.5h2.8v2.8h-2.8zM80.3 347.9h2.8v2.8h-2.8zM81.1 375.8h2.8v2.8h-2.8zM81.4 344.8h2.8v2.8h-2.8zM81.7 361.2h2.8v2.8h-2.8zM82.2 359.9h2.8v2.8h-2.8zM82.4 354.9h2.8v2.8h-2.8zM83.0 366.0h2.8v2.8h-2.8zM83.2 387.1h2.8v2.8h-2.8zM83.5 377.2h2.8v2.8h-2.8zM83.8 362.7h2.8v2.8h-2.8zM84.0 376.3h2.8v2.8h-2.8zM84.3 370.2h2.8v2.8h-2.8zM84.8 370.5h2.8v2.8h-2.8zM85.1 370.6h2.8v2.8h-2.8zM85.3 369.2h2.8v2.8h-2.8zM85.6 398.1h2.8v2.8h-2.8zM85.9 350.9h2.8v2.8h-2.8zM86.1 353.7h2.8v2.8h-2.8zM86.4 379.2h2.8v2.8h-2.8zM86.7 376.8h2.8v2.8h-2.8zM87.2 363.8h2.8v2.8h-2.8zM87.4 379.4h2.8v2.8h-2.8zM87.7 366.6h2.8v2.8h-2.8zM88.2 356.9h2.8v2.8h-2.8zM88.5 364.9h2.8v2.8h-2.8zM88.8 383.7h2.8v2.8h-2.8zM89.0 369.1h2.8v2.8h-2.8zM89.3 378.9h2.8v2.8h-2.8zM89.5 365.6h2.8v2.8h-2.8zM90.1 371.0h2.8v2.8h-2.8zM90.6 380.4h2.8v2.8h-2.8zM90.9 354.4h2.8v2.8h-2.8zM91.1 363.7h2.8v2.8h-2.8zM91.4 365.4h2.8v2.8h-2.8zM91.7 343.7h2.8v2.8h-2.8zM91.9 371.2h2.8v2.8h-2.8zM92.2 378.6h2.8v2.8h-2.8zM92.4 352.2h2.8v2.8h-2.8zM92.7 367.2h2.8v2.8h-2.8zM93.0 357.7h2.8v2.8h-2.8zM93.2 357.4h2.8v2.8h-2.8zM93.5 363.0h2.8v2.8h-2.8zM93.8 381.9h2.8v2.8h-2.8zM94.0 368.0h2.8v2.8h-2.8zM94.3 358.9h2.8v2.8h-2.8zM94.5 373.7h2.8v2.8h-2.8zM95.1 376.4h2.8v2.8h-2.8zM95.3 381.1h2.8v2.8h-2.8zM95.6 343.1h2.8v2.8h-2.8zM96.1 375.7h2.8v2.8h-2.8zM96.7 355.8h2.8v2.8h-2.8zM96.9 357.6h2.8v2.8h-2.8zM97.4 353.7h2.8v2.8h-2.8zM97.7 376.9h2.8v2.8h-2.8zM98.0 357.9h2.8v2.8h-2.8zM98.5 396.9h2.8v2.8h-2.8zM99.0 389.0h2.8v2.8h-2.8zM99.3 387.3h2.8v2.8h-2.8zM99.6 362.4h2.8v2.8h-2.8zM100.1 371.3h2.8v2.8h-2.8zM100.3 367.6h2.8v2.8h-2.8zM100.6 373.6h2.8v2.8h-2.8zM100.9 356.4h2.8v2.8h-2.8zM101.1 359.7h2.8v2.8h-2.8zM101.7 359.3h2.8v2.8h-2.8zM101.9 341.6h2.8v2.8h-2.8zM102.2 369.4h2.8v2.8h-2.8zM102.4 371.2h2.8v2.8h-2.8zM102.7 363.5h2.8v2.8h-2.8zM103.2 392.3h2.8v2.8h-2.8zM103.5 354.6h2.8v2.8h-2.8zM103.8 371.1h2.8v2.8h-2.8zM104.0 360.2h2.8v2.8h-2.8zM104.3 366.5h2.8v2.8h-2.8zM104.6 348.7h2.8v2.8h-2.8zM104.8 365.4h2.8v2.8h-2.8zM105.3 380.8h2.8v2.8h-2.8zM105.6 359.0h2.8v2.8h-2.8zM105.9 376.0h2.8v2.8h-2.8zM106.1 362.0h2.8v2.8h-2.8zM106.4 372.1h2.8v2.8h-2.8zM106.7 371.7h2.8v2.8h-2.8zM106.9 362.2h2.8v2.8h-2.8zM107.2 355.8h2.8v2.8h-2.8zM107.4 364.3h2.8v2.8h-2.8zM107.7 361.9h2.8v2.8h-2.8zM108.2 366.3h2.8v2.8h-2.8zM108.8 354.2h2.8v2.8h-2.8zM109.3 365.8h2.8v2.8h-2.8zM109.6 375.7h2.8v2.8h-2.8zM109.8 412.2h2.8v2.8h-2.8zM110.1 389.5h2.8v2.8h-2.8zM110.3 369.6h2.8v2.8h-2.8zM110.6 362.8h2.8v2.8h-2.8zM110.9 385.8h2.8v2.8h-2.8zM111.1 357.7h2.8v2.8h-2.8zM111.4 338.6h2.8v2.8h-2.8zM111.7 386.1h2.8v2.8h-2.8zM111.9 347.9h2.8v2.8h-2.8zM112.2 386.8h2.8v2.8h-2.8zM112.4 383.4h2.8v2.8h-2.8zM113.0 354.6h2.8v2.8h-2.8zM113.2 357.8h2.8v2.8h-2.8zM113.5 367.5h2.8v2.8h-2.8zM113.8 375.4h2.8v2.8h-2.8zM114.0 352.8h2.8v2.8h-2.8zM114.3 367.6h2.8v2.8h-2.8zM114.6 363.7h2.8v2.8h-2.8zM114.8 339.3h2.8v2.8h-2.8zM115.6 353.5h2.8v2.8h-2.8zM115.9 356.6h2.8v2.8h-2.8zM116.1 358.3h2.8v2.8h-2.8zM116.4 373.6h2.8v2.8h-2.8zM116.7 350.4h2.8v2.8h-2.8zM116.9 366.5h2.8v2.8h-2.8zM117.2 366.6h2.8v2.8h-2.8zM117.7 381.6h2.8v2.8h-2.8zM118.0 368.2h2.8v2.8h-2.8zM118.2 353.9h2.8v2.8h-2.8zM118.8 345.3h2.8v2.8h-2.8zM119.0 378.9h2.8v2.8h-2.8zM119.3 372.3h2.8v2.8h-2.8zM119.6 375.2h2.8v2.8h-2.8zM119.8 364.2h2.8v2.8h-2.8zM120.1 382.1h2.8v2.8h-2.8zM120.3 385.6h2.8v2.8h-2.8zM120.6 371.1h2.8v2.8h-2.8zM120.9 357.6h2.8v2.8h-2.8zM121.1 364.3h2.8v2.8h-2.8zM121.4 381.7h2.8v2.8h-2.8zM122.2 358.8h2.8v2.8h-2.8zM122.4 344.9h2.8v2.8h-2.8zM122.7 347.8h2.8v2.8h-2.8zM123.0 357.1h2.8v2.8h-2.8zM123.2 377.6h2.8v2.8h-2.8zM123.8 371.2h2.8v2.8h-2.8zM124.0 363.3h2.8v2.8h-2.8zM124.3 358.5h2.8v2.8h-2.8zM124.6 369.8h2.8v2.8h-2.8zM124.8 369.6h2.8v2.8h-2.8zM125.1 365.9h2.8v2.8h-2.8zM125.3 369.1h2.8v2.8h-2.8zM125.6 344.8h2.8v2.8h-2.8zM125.9 373.0h2.8v2.8h-2.8zM126.1 386.5h2.8v2.8h-2.8zM126.4 373.3h2.8v2.8h-2.8zM126.7 362.6h2.8v2.8h-2.8zM126.9 379.2h2.8v2.8h-2.8zM127.2 379.6h2.8v2.8h-2.8zM127.4 376.1h2.8v2.8h-2.8zM127.7 378.0h2.8v2.8h-2.8zM128.0 375.0h2.8v2.8h-2.8zM128.2 382.6h2.8v2.8h-2.8zM128.5 360.1h2.8v2.8h-2.8zM128.8 364.7h2.8v2.8h-2.8zM129.0 360.8h2.8v2.8h-2.8zM129.3 377.3h2.8v2.8h-2.8zM129.6 388.6h2.8v2.8h-2.8zM129.8 384.6h2.8v2.8h-2.8zM130.1 375.0h2.8v2.8h-2.8zM130.3 352.8h2.8v2.8h-2.8zM130.9 365.3h2.8v2.8h-2.8zM131.1 383.7h2.8v2.8h-2.8zM131.4 363.8h2.8v2.8h-2.8zM131.7 372.9h2.8v2.8h-2.8zM131.9 391.0h2.8v2.8h-2.8zM132.2 383.1h2.8v2.8h-2.8zM132.7 368.5h2.8v2.8h-2.8zM133.0 379.3h2.8v2.8h-2.8zM133.2 375.8h2.8v2.8h-2.8zM133.5 375.8h2.8v2.8h-2.8zM133.8 374.2h2.8v2.8h-2.8zM134.0 376.6h2.8v2.8h-2.8zM134.3 383.7h2.8v2.8h-2.8zM134.6 376.5h2.8v2.8h-2.8zM134.8 386.0h2.8v2.8h-2.8zM135.1 379.0h2.8v2.8h-2.8zM135.3 379.4h2.8v2.8h-2.8zM135.6 366.8h2.8v2.8h-2.8zM135.9 381.1h2.8v2.8h-2.8zM136.1 378.7h2.8v2.8h-2.8zM136.4 391.1h2.8v2.8h-2.8zM136.9 359.1h2.8v2.8h-2.8zM137.2 372.2h2.8v2.8h-2.8zM137.4 372.4h2.8v2.8h-2.8zM137.7 375.8h2.8v2.8h-2.8zM138.0 374.5h2.8v2.8h-2.8zM138.8 385.7h2.8v2.8h-2.8zM139.0 352.3h2.8v2.8h-2.8zM139.3 371.8h2.8v2.8h-2.8zM139.6 373.4h2.8v2.8h-2.8zM139.8 369.6h2.8v2.8h-2.8zM140.1 376.7h2.8v2.8h-2.8zM140.3 374.2h2.8v2.8h-2.8zM140.6 383.3h2.8v2.8h-2.8zM140.9 401.7h2.8v2.8h-2.8zM141.1 347.8h2.8v2.8h-2.8zM141.4 378.9h2.8v2.8h-2.8zM141.7 395.6h2.8v2.8h-2.8zM141.9 388.3h2.8v2.8h-2.8zM142.2 398.9h2.8v2.8h-2.8zM142.4 358.4h2.8v2.8h-2.8zM142.7 393.7h2.8v2.8h-2.8zM143.0 353.0h2.8v2.8h-2.8zM143.2 363.6h2.8v2.8h-2.8zM143.5 378.9h2.8v2.8h-2.8zM144.0 374.7h2.8v2.8h-2.8zM144.3 361.1h2.8v2.8h-2.8zM144.6 368.3h2.8v2.8h-2.8zM145.1 382.0h2.8v2.8h-2.8zM145.3 367.0h2.8v2.8h-2.8zM145.6 358.4h2.8v2.8h-2.8zM146.1 371.1h2.8v2.8h-2.8zM146.4 372.0h2.8v2.8h-2.8zM146.9 392.4h2.8v2.8h-2.8zM147.2 380.3h2.8v2.8h-2.8zM147.4 375.7h2.8v2.8h-2.8zM147.7 334.5h2.8v2.8h-2.8zM148.0 399.1h2.8v2.8h-2.8zM148.2 372.3h2.8v2.8h-2.8zM148.8 369.7h2.8v2.8h-2.8zM149.0 362.8h2.8v2.8h-2.8zM149.3 353.5h2.8v2.8h-2.8zM149.6 362.3h2.8v2.8h-2.8zM149.8 361.0h2.8v2.8h-2.8zM150.1 378.2h2.8v2.8h-2.8zM150.3 360.0h2.8v2.8h-2.8zM150.6 360.8h2.8v2.8h-2.8zM150.9 376.0h2.8v2.8h-2.8zM151.1 378.4h2.8v2.8h-2.8zM152.2 396.6h2.8v2.8h-2.8zM152.4 373.1h2.8v2.8h-2.8zM152.7 363.1h2.8v2.8h-2.8zM153.0 370.5h2.8v2.8h-2.8zM153.2 379.7h2.8v2.8h-2.8zM153.5 355.9h2.8v2.8h-2.8zM153.8 364.1h2.8v2.8h-2.8zM154.0 347.2h2.8v2.8h-2.8zM154.6 372.8h2.8v2.8h-2.8zM154.8 399.1h2.8v2.8h-2.8zM155.1 354.2h2.8v2.8h-2.8zM155.3 364.5h2.8v2.8h-2.8zM155.6 360.2h2.8v2.8h-2.8zM155.9 367.6h2.8v2.8h-2.8zM156.1 371.2h2.8v2.8h-2.8zM156.4 358.5h2.8v2.8h-2.8zM156.7 374.6h2.8v2.8h-2.8zM156.9 364.5h2.8v2.8h-2.8zM157.2 365.0h2.8v2.8h-2.8zM157.7 374.3h2.8v2.8h-2.8zM158.0 353.3h2.8v2.8h-2.8zM158.2 357.5h2.8v2.8h-2.8zM159.0 338.8h2.8v2.8h-2.8zM159.6 350.4h2.8v2.8h-2.8zM159.8 362.3h2.8v2.8h-2.8zM160.1 358.6h2.8v2.8h-2.8zM160.6 377.9h2.8v2.8h-2.8zM160.9 377.9h2.8v2.8h-2.8zM161.1 378.1h2.8v2.8h-2.8zM161.4 382.7h2.8v2.8h-2.8zM161.7 342.1h2.8v2.8h-2.8zM161.9 375.0h2.8v2.8h-2.8zM162.4 370.2h2.8v2.8h-2.8zM162.7 379.5h2.8v2.8h-2.8zM163.0 344.2h2.8v2.8h-2.8zM163.2 342.5h2.8v2.8h-2.8zM163.5 369.7h2.8v2.8h-2.8zM163.8 342.0h2.8v2.8h-2.8zM164.0 350.5h2.8v2.8h-2.8zM164.3 366.0h2.8v2.8h-2.8zM164.6 368.3h2.8v2.8h-2.8zM164.8 381.3h2.8v2.8h-2.8zM165.1 366.7h2.8v2.8h-2.8zM165.6 370.9h2.8v2.8h-2.8zM165.9 365.6h2.8v2.8h-2.8zM166.4 360.5h2.8v2.8h-2.8zM166.7 356.9h2.8v2.8h-2.8zM166.9 375.9h2.8v2.8h-2.8zM167.4 381.0h2.8v2.8h-2.8zM167.7 384.0h2.8v2.8h-2.8zM168.0 362.2h2.8v2.8h-2.8zM168.2 381.7h2.8v2.8h-2.8zM168.5 356.5h2.8v2.8h-2.8zM168.8 377.6h2.8v2.8h-2.8zM169.3 357.8h2.8v2.8h-2.8zM169.6 351.1h2.8v2.8h-2.8zM169.8 363.4h2.8v2.8h-2.8zM170.1 367.9h2.8v2.8h-2.8zM170.3 367.9h2.8v2.8h-2.8zM170.6 378.3h2.8v2.8h-2.8zM170.9 369.2h2.8v2.8h-2.8zM171.1 375.9h2.8v2.8h-2.8zM171.4 368.0h2.8v2.8h-2.8zM171.7 368.0h2.8v2.8h-2.8zM171.9 370.9h2.8v2.8h-2.8zM172.2 366.9h2.8v2.8h-2.8zM172.7 382.5h2.8v2.8h-2.8zM173.0 364.4h2.8v2.8h-2.8zM173.2 366.9h2.8v2.8h-2.8zM173.5 362.9h2.8v2.8h-2.8zM173.8 376.7h2.8v2.8h-2.8zM174.0 374.0h2.8v2.8h-2.8zM174.3 363.8h2.8v2.8h-2.8zM174.6 353.7h2.8v2.8h-2.8zM175.1 366.9h2.8v2.8h-2.8zM175.3 361.7h2.8v2.8h-2.8zM175.6 372.2h2.8v2.8h-2.8zM175.9 379.4h2.8v2.8h-2.8zM176.1 377.2h2.8v2.8h-2.8zM176.4 340.6h2.8v2.8h-2.8zM176.7 383.6h2.8v2.8h-2.8zM176.9 374.4h2.8v2.8h-2.8zM177.5 387.6h2.8v2.8h-2.8zM177.7 374.0h2.8v2.8h-2.8zM178.0 359.8h2.8v2.8h-2.8zM178.2 357.9h2.8v2.8h-2.8zM178.5 370.7h2.8v2.8h-2.8zM178.8 376.5h2.8v2.8h-2.8zM179.0 387.5h2.8v2.8h-2.8zM179.3 349.8h2.8v2.8h-2.8zM179.6 361.8h2.8v2.8h-2.8zM179.8 360.2h2.8v2.8h-2.8zM180.1 375.3h2.8v2.8h-2.8zM180.3 368.3h2.8v2.8h-2.8zM180.6 372.4h2.8v2.8h-2.8zM180.9 359.6h2.8v2.8h-2.8zM181.1 364.1h2.8v2.8h-2.8zM181.4 388.1h2.8v2.8h-2.8zM181.7 368.3h2.8v2.8h-2.8zM181.9 362.2h2.8v2.8h-2.8zM182.2 352.4h2.8v2.8h-2.8zM182.5 384.2h2.8v2.8h-2.8zM182.7 367.4h2.8v2.8h-2.8zM183.0 353.7h2.8v2.8h-2.8zM183.2 357.5h2.8v2.8h-2.8zM183.5 379.7h2.8v2.8h-2.8zM183.8 358.6h2.8v2.8h-2.8zM184.0 369.6h2.8v2.8h-2.8zM184.3 368.5h2.8v2.8h-2.8zM184.6 373.2h2.8v2.8h-2.8zM185.1 368.7h2.8v2.8h-2.8zM185.3 390.2h2.8v2.8h-2.8zM185.6 356.9h2.8v2.8h-2.8zM185.9 384.6h2.8v2.8h-2.8zM186.1 361.9h2.8v2.8h-2.8zM186.4 363.6h2.8v2.8h-2.8zM186.7 358.8h2.8v2.8h-2.8zM186.9 370.3h2.8v2.8h-2.8zM187.2 350.5h2.8v2.8h-2.8zM187.5 382.5h2.8v2.8h-2.8zM188.0 357.0h2.8v2.8h-2.8zM188.2 351.8h2.8v2.8h-2.8zM188.5 355.9h2.8v2.8h-2.8zM188.8 359.9h2.8v2.8h-2.8zM189.6 382.8h2.8v2.8h-2.8zM189.8 338.1h2.8v2.8h-2.8zM190.3 365.8h2.8v2.8h-2.8zM190.6 355.0h2.8v2.8h-2.8zM190.9 359.1h2.8v2.8h-2.8zM191.4 370.3h2.8v2.8h-2.8zM191.7 367.8h2.8v2.8h-2.8zM191.9 354.0h2.8v2.8h-2.8zM192.2 359.5h2.8v2.8h-2.8zM192.5 378.1h2.8v2.8h-2.8zM192.7 373.1h2.8v2.8h-2.8zM193.0 368.4h2.8v2.8h-2.8zM193.2 360.1h2.8v2.8h-2.8zM193.5 386.8h2.8v2.8h-2.8zM193.8 363.6h2.8v2.8h-2.8zM194.0 341.3h2.8v2.8h-2.8zM194.3 350.2h2.8v2.8h-2.8zM194.6 364.6h2.8v2.8h-2.8zM194.8 363.2h2.8v2.8h-2.8zM195.1 371.0h2.8v2.8h-2.8zM195.3 354.8h2.8v2.8h-2.8zM195.6 372.7h2.8v2.8h-2.8zM195.9 323.9h2.8v2.8h-2.8zM196.1 371.1h2.8v2.8h-2.8zM196.4 357.2h2.8v2.8h-2.8zM196.7 395.7h2.8v2.8h-2.8zM196.9 350.0h2.8v2.8h-2.8zM197.2 363.9h2.8v2.8h-2.8zM197.5 356.3h2.8v2.8h-2.8zM197.7 363.2h2.8v2.8h-2.8zM198.0 352.2h2.8v2.8h-2.8zM198.2 344.6h2.8v2.8h-2.8zM198.5 389.1h2.8v2.8h-2.8zM198.8 390.0h2.8v2.8h-2.8zM199.0 374.1h2.8v2.8h-2.8zM199.6 410.1h2.8v2.8h-2.8zM199.8 355.8h2.8v2.8h-2.8zM200.1 359.4h2.8v2.8h-2.8zM200.3 350.0h2.8v2.8h-2.8zM200.6 355.9h2.8v2.8h-2.8zM200.9 355.6h2.8v2.8h-2.8zM201.1 374.5h2.8v2.8h-2.8zM201.4 352.3h2.8v2.8h-2.8zM201.7 358.1h2.8v2.8h-2.8zM201.9 388.8h2.8v2.8h-2.8zM202.2 358.7h2.8v2.8h-2.8zM202.5 359.1h2.8v2.8h-2.8zM203.0 348.7h2.8v2.8h-2.8zM203.2 350.4h2.8v2.8h-2.8zM203.5 347.4h2.8v2.8h-2.8zM203.8 396.2h2.8v2.8h-2.8zM204.0 370.0h2.8v2.8h-2.8zM204.3 370.9h2.8v2.8h-2.8zM204.6 374.0h2.8v2.8h-2.8zM204.8 355.9h2.8v2.8h-2.8zM205.1 358.8h2.8v2.8h-2.8zM205.3 360.9h2.8v2.8h-2.8zM205.6 362.5h2.8v2.8h-2.8zM205.9 363.9h2.8v2.8h-2.8zM206.1 372.8h2.8v2.8h-2.8zM206.4 330.2h2.8v2.8h-2.8zM206.7 353.1h2.8v2.8h-2.8zM207.2 364.9h2.8v2.8h-2.8zM207.5 355.1h2.8v2.8h-2.8zM207.7 357.1h2.8v2.8h-2.8zM208.0 372.8h2.8v2.8h-2.8zM208.2 360.6h2.8v2.8h-2.8zM208.5 375.8h2.8v2.8h-2.8zM208.8 346.6h2.8v2.8h-2.8zM209.0 361.2h2.8v2.8h-2.8zM209.3 348.9h2.8v2.8h-2.8zM209.6 336.5h2.8v2.8h-2.8zM209.8 355.3h2.8v2.8h-2.8zM210.1 360.0h2.8v2.8h-2.8zM210.3 351.7h2.8v2.8h-2.8zM210.6 346.8h2.8v2.8h-2.8zM210.9 391.6h2.8v2.8h-2.8zM211.7 360.7h2.8v2.8h-2.8zM211.9 360.3h2.8v2.8h-2.8zM212.2 352.9h2.8v2.8h-2.8zM212.5 376.1h2.8v2.8h-2.8zM212.7 384.0h2.8v2.8h-2.8zM213.0 363.7h2.8v2.8h-2.8zM213.8 375.0h2.8v2.8h-2.8zM214.0 366.7h2.8v2.8h-2.8zM214.3 377.6h2.8v2.8h-2.8zM214.6 368.1h2.8v2.8h-2.8zM215.3 362.3h2.8v2.8h-2.8zM215.6 358.3h2.8v2.8h-2.8zM215.9 345.3h2.8v2.8h-2.8zM216.1 389.2h2.8v2.8h-2.8zM216.7 373.9h2.8v2.8h-2.8zM216.9 388.9h2.8v2.8h-2.8zM217.2 368.1h2.8v2.8h-2.8zM217.5 358.9h2.8v2.8h-2.8zM217.7 397.2h2.8v2.8h-2.8zM218.0 348.5h2.8v2.8h-2.8zM218.2 341.0h2.8v2.8h-2.8zM218.8 368.6h2.8v2.8h-2.8zM219.0 375.6h2.8v2.8h-2.8zM219.3 348.8h2.8v2.8h-2.8zM219.6 373.1h2.8v2.8h-2.8zM219.8 362.7h2.8v2.8h-2.8zM220.1 371.0h2.8v2.8h-2.8zM220.3 382.6h2.8v2.8h-2.8zM220.9 373.5h2.8v2.8h-2.8zM221.4 365.9h2.8v2.8h-2.8zM221.9 352.9h2.8v2.8h-2.8zM222.2 370.1h2.8v2.8h-2.8zM222.5 353.3h2.8v2.8h-2.8zM222.7 372.2h2.8v2.8h-2.8zM223.0 374.8h2.8v2.8h-2.8zM223.2 351.7h2.8v2.8h-2.8zM223.5 381.2h2.8v2.8h-2.8zM223.8 373.5h2.8v2.8h-2.8zM224.0 364.3h2.8v2.8h-2.8zM224.6 367.7h2.8v2.8h-2.8zM224.8 361.0h2.8v2.8h-2.8zM225.1 380.3h2.8v2.8h-2.8zM225.3 365.8h2.8v2.8h-2.8zM225.6 359.8h2.8v2.8h-2.8zM225.9 368.5h2.8v2.8h-2.8zM226.1 370.1h2.8v2.8h-2.8zM226.4 375.6h2.8v2.8h-2.8zM226.7 388.5h2.8v2.8h-2.8zM226.9 363.0h2.8v2.8h-2.8zM227.2 373.2h2.8v2.8h-2.8zM227.5 390.9h2.8v2.8h-2.8zM227.7 374.2h2.8v2.8h-2.8zM228.0 356.9h2.8v2.8h-2.8zM228.2 384.4h2.8v2.8h-2.8zM228.5 390.7h2.8v2.8h-2.8zM229.0 352.7h2.8v2.8h-2.8zM229.3 370.5h2.8v2.8h-2.8zM229.6 379.5h2.8v2.8h-2.8zM229.8 374.5h2.8v2.8h-2.8zM230.1 358.0h2.8v2.8h-2.8zM230.3 381.5h2.8v2.8h-2.8zM230.6 378.4h2.8v2.8h-2.8zM230.9 405.3h2.8v2.8h-2.8zM231.1 372.3h2.8v2.8h-2.8zM231.7 370.5h2.8v2.8h-2.8zM231.9 384.3h2.8v2.8h-2.8zM232.2 387.8h2.8v2.8h-2.8zM232.5 357.6h2.8v2.8h-2.8zM232.7 385.2h2.8v2.8h-2.8zM233.2 376.5h2.8v2.8h-2.8zM233.5 366.7h2.8v2.8h-2.8zM233.8 391.7h2.8v2.8h-2.8zM234.0 372.4h2.8v2.8h-2.8zM234.3 411.1h2.8v2.8h-2.8zM234.6 378.5h2.8v2.8h-2.8zM234.8 399.0h2.8v2.8h-2.8zM235.1 369.1h2.8v2.8h-2.8zM235.3 366.0h2.8v2.8h-2.8zM235.6 365.9h2.8v2.8h-2.8zM235.9 366.6h2.8v2.8h-2.8zM236.4 358.0h2.8v2.8h-2.8zM236.7 372.7h2.8v2.8h-2.8zM236.9 364.3h2.8v2.8h-2.8zM237.2 371.9h2.8v2.8h-2.8zM237.5 377.8h2.8v2.8h-2.8zM238.0 392.2h2.8v2.8h-2.8zM238.2 389.3h2.8v2.8h-2.8zM238.5 387.3h2.8v2.8h-2.8zM238.8 381.4h2.8v2.8h-2.8zM239.6 352.2h2.8v2.8h-2.8zM239.8 373.2h2.8v2.8h-2.8zM240.1 357.8h2.8v2.8h-2.8zM240.3 369.6h2.8v2.8h-2.8zM240.6 397.2h2.8v2.8h-2.8zM240.9 369.2h2.8v2.8h-2.8zM241.1 370.7h2.8v2.8h-2.8zM241.4 372.1h2.8v2.8h-2.8zM241.7 369.1h2.8v2.8h-2.8zM242.2 396.6h2.8v2.8h-2.8zM242.5 360.0h2.8v2.8h-2.8zM243.0 359.9h2.8v2.8h-2.8zM243.2 409.4h2.8v2.8h-2.8zM243.5 361.0h2.8v2.8h-2.8zM244.0 368.2h2.8v2.8h-2.8zM244.3 370.0h2.8v2.8h-2.8zM244.6 375.1h2.8v2.8h-2.8zM244.8 351.0h2.8v2.8h-2.8zM245.1 370.6h2.8v2.8h-2.8zM245.3 365.9h2.8v2.8h-2.8zM245.6 370.2h2.8v2.8h-2.8zM245.9 362.8h2.8v2.8h-2.8zM246.1 381.7h2.8v2.8h-2.8zM246.4 375.5h2.8v2.8h-2.8zM246.7 360.5h2.8v2.8h-2.8zM246.9 355.4h2.8v2.8h-2.8zM247.2 387.0h2.8v2.8h-2.8zM247.5 348.1h2.8v2.8h-2.8zM247.7 365.8h2.8v2.8h-2.8zM248.0 370.5h2.8v2.8h-2.8zM248.2 362.2h2.8v2.8h-2.8zM248.5 339.7h2.8v2.8h-2.8zM248.8 370.1h2.8v2.8h-2.8zM249.0 379.4h2.8v2.8h-2.8zM249.3 374.6h2.8v2.8h-2.8zM249.6 371.3h2.8v2.8h-2.8zM249.8 360.6h2.8v2.8h-2.8zM250.1 364.1h2.8v2.8h-2.8zM250.3 362.6h2.8v2.8h-2.8zM250.9 365.4h2.8v2.8h-2.8zM251.1 366.2h2.8v2.8h-2.8zM251.4 357.3h2.8v2.8h-2.8zM251.7 380.2h2.8v2.8h-2.8zM252.2 354.8h2.8v2.8h-2.8zM252.5 368.1h2.8v2.8h-2.8zM252.7 356.5h2.8v2.8h-2.8zM253.0 364.2h2.8v2.8h-2.8zM253.5 357.9h2.8v2.8h-2.8zM253.8 364.5h2.8v2.8h-2.8zM254.0 382.6h2.8v2.8h-2.8zM254.3 370.0h2.8v2.8h-2.8zM254.6 383.4h2.8v2.8h-2.8zM254.8 369.4h2.8v2.8h-2.8zM255.1 361.9h2.8v2.8h-2.8zM255.4 345.9h2.8v2.8h-2.8zM255.9 339.4h2.8v2.8h-2.8zM256.1 339.9h2.8v2.8h-2.8zM256.4 396.5h2.8v2.8h-2.8zM256.7 382.5h2.8v2.8h-2.8zM256.9 359.4h2.8v2.8h-2.8zM257.2 343.0h2.8v2.8h-2.8zM257.7 361.7h2.8v2.8h-2.8zM258.0 354.6h2.8v2.8h-2.8zM258.2 373.8h2.8v2.8h-2.8zM258.5 366.2h2.8v2.8h-2.8zM258.8 362.3h2.8v2.8h-2.8zM259.0 371.6h2.8v2.8h-2.8zM259.3 336.4h2.8v2.8h-2.8zM259.6 336.9h2.8v2.8h-2.8zM259.8 358.3h2.8v2.8h-2.8zM260.1 366.1h2.8v2.8h-2.8zM260.4 344.0h2.8v2.8h-2.8zM260.6 352.9h2.8v2.8h-2.8zM260.9 386.9h2.8v2.8h-2.8zM261.1 355.8h2.8v2.8h-2.8zM261.4 357.2h2.8v2.8h-2.8zM261.7 363.1h2.8v2.8h-2.8zM261.9 368.6h2.8v2.8h-2.8zM262.2 377.7h2.8v2.8h-2.8zM262.5 352.6h2.8v2.8h-2.8zM262.7 373.0h2.8v2.8h-2.8zM263.0 369.3h2.8v2.8h-2.8zM263.8 363.3h2.8v2.8h-2.8zM264.0 342.9h2.8v2.8h-2.8zM264.3 366.5h2.8v2.8h-2.8zM264.6 362.0h2.8v2.8h-2.8zM264.8 363.1h2.8v2.8h-2.8zM265.1 373.3h2.8v2.8h-2.8zM265.6 367.3h2.8v2.8h-2.8zM265.9 361.4h2.8v2.8h-2.8zM266.1 353.8h2.8v2.8h-2.8zM266.4 362.0h2.8v2.8h-2.8zM266.9 354.9h2.8v2.8h-2.8zM267.2 357.5h2.8v2.8h-2.8zM267.7 375.5h2.8v2.8h-2.8zM268.0 369.7h2.8v2.8h-2.8zM268.2 364.1h2.8v2.8h-2.8zM268.8 386.9h2.8v2.8h-2.8zM269.3 347.6h2.8v2.8h-2.8zM269.6 362.3h2.8v2.8h-2.8zM269.8 369.1h2.8v2.8h-2.8zM270.1 345.1h2.8v2.8h-2.8zM270.4 364.7h2.8v2.8h-2.8zM270.6 353.3h2.8v2.8h-2.8zM270.9 375.7h2.8v2.8h-2.8zM271.4 362.5h2.8v2.8h-2.8zM271.7 361.5h2.8v2.8h-2.8zM271.9 360.9h2.8v2.8h-2.8zM272.2 374.2h2.8v2.8h-2.8zM273.0 373.1h2.8v2.8h-2.8zM273.2 346.9h2.8v2.8h-2.8zM274.0 407.0h2.8v2.8h-2.8zM274.6 373.0h2.8v2.8h-2.8zM274.8 358.1h2.8v2.8h-2.8zM275.1 370.1h2.8v2.8h-2.8zM275.4 386.2h2.8v2.8h-2.8zM275.6 348.9h2.8v2.8h-2.8zM275.9 343.5h2.8v2.8h-2.8zM276.1 337.3h2.8v2.8h-2.8zM276.4 358.5h2.8v2.8h-2.8zM276.7 361.2h2.8v2.8h-2.8zM276.9 348.8h2.8v2.8h-2.8zM277.2 358.4h2.8v2.8h-2.8zM277.5 355.3h2.8v2.8h-2.8zM277.7 364.7h2.8v2.8h-2.8zM278.0 365.6h2.8v2.8h-2.8zM278.2 366.0h2.8v2.8h-2.8zM278.5 364.5h2.8v2.8h-2.8zM278.8 347.7h2.8v2.8h-2.8zM279.0 372.2h2.8v2.8h-2.8zM279.3 358.0h2.8v2.8h-2.8zM279.6 386.4h2.8v2.8h-2.8zM279.8 356.4h2.8v2.8h-2.8zM280.1 346.4h2.8v2.8h-2.8zM280.4 358.0h2.8v2.8h-2.8zM280.6 362.4h2.8v2.8h-2.8zM280.9 342.9h2.8v2.8h-2.8zM281.1 364.5h2.8v2.8h-2.8zM281.4 345.4h2.8v2.8h-2.8zM281.7 343.9h2.8v2.8h-2.8zM281.9 358.6h2.8v2.8h-2.8zM282.2 360.0h2.8v2.8h-2.8zM282.5 370.5h2.8v2.8h-2.8zM282.7 356.1h2.8v2.8h-2.8zM283.0 373.6h2.8v2.8h-2.8zM283.2 357.7h2.8v2.8h-2.8zM283.5 361.8h2.8v2.8h-2.8zM283.8 363.5h2.8v2.8h-2.8zM284.0 367.1h2.8v2.8h-2.8zM284.6 372.0h2.8v2.8h-2.8zM284.8 357.9h2.8v2.8h-2.8zM285.1 363.4h2.8v2.8h-2.8zM285.6 364.8h2.8v2.8h-2.8zM285.9 353.2h2.8v2.8h-2.8zM286.7 373.0h2.8v2.8h-2.8zM286.9 355.1h2.8v2.8h-2.8zM287.2 349.9h2.8v2.8h-2.8zM287.5 373.3h2.8v2.8h-2.8zM287.7 367.9h2.8v2.8h-2.8zM288.0 331.0h2.8v2.8h-2.8zM288.2 364.2h2.8v2.8h-2.8zM288.5 358.1h2.8v2.8h-2.8zM288.8 356.7h2.8v2.8h-2.8zM289.0 377.9h2.8v2.8h-2.8zM289.3 368.6h2.8v2.8h-2.8zM289.6 363.0h2.8v2.8h-2.8zM289.8 344.6h2.8v2.8h-2.8zM290.1 348.4h2.8v2.8h-2.8zM290.6 372.7h2.8v2.8h-2.8zM290.9 360.4h2.8v2.8h-2.8zM291.1 346.1h2.8v2.8h-2.8zM291.4 334.3h2.8v2.8h-2.8zM291.7 340.3h2.8v2.8h-2.8zM292.5 357.7h2.8v2.8h-2.8zM292.7 359.7h2.8v2.8h-2.8zM293.0 353.3h2.8v2.8h-2.8zM293.2 344.6h2.8v2.8h-2.8zM293.5 355.7h2.8v2.8h-2.8zM293.8 336.7h2.8v2.8h-2.8zM294.0 348.3h2.8v2.8h-2.8zM294.3 364.5h2.8v2.8h-2.8zM294.6 367.0h2.8v2.8h-2.8zM294.8 385.5h2.8v2.8h-2.8zM295.4 362.8h2.8v2.8h-2.8zM295.6 348.8h2.8v2.8h-2.8zM295.9 360.1h2.8v2.8h-2.8zM296.1 352.9h2.8v2.8h-2.8zM296.4 362.1h2.8v2.8h-2.8zM296.7 360.1h2.8v2.8h-2.8zM296.9 343.0h2.8v2.8h-2.8zM297.2 341.9h2.8v2.8h-2.8zM297.5 351.2h2.8v2.8h-2.8zM297.7 332.0h2.8v2.8h-2.8zM298.2 360.4h2.8v2.8h-2.8zM298.5 341.0h2.8v2.8h-2.8zM298.8 364.2h2.8v2.8h-2.8zM299.0 371.7h2.8v2.8h-2.8zM299.6 375.5h2.8v2.8h-2.8zM299.8 368.6h2.8v2.8h-2.8zM300.1 343.0h2.8v2.8h-2.8zM300.4 359.6h2.8v2.8h-2.8zM300.6 365.3h2.8v2.8h-2.8zM300.9 354.6h2.8v2.8h-2.8zM301.1 401.5h2.8v2.8h-2.8zM301.4 353.9h2.8v2.8h-2.8zM302.2 355.8h2.8v2.8h-2.8zM302.7 350.1h2.8v2.8h-2.8zM303.0 375.7h2.8v2.8h-2.8zM303.2 360.2h2.8v2.8h-2.8zM303.5 353.3h2.8v2.8h-2.8zM303.8 383.9h2.8v2.8h-2.8zM304.0 384.6h2.8v2.8h-2.8zM304.3 349.8h2.8v2.8h-2.8zM304.6 364.0h2.8v2.8h-2.8zM305.4 353.0h2.8v2.8h-2.8zM305.6 356.0h2.8v2.8h-2.8zM306.1 338.2h2.8v2.8h-2.8zM306.4 336.4h2.8v2.8h-2.8zM306.7 375.3h2.8v2.8h-2.8zM307.2 327.2h2.8v2.8h-2.8zM307.5 340.6h2.8v2.8h-2.8zM307.7 353.0h2.8v2.8h-2.8zM308.0 364.1h2.8v2.8h-2.8zM308.2 369.3h2.8v2.8h-2.8zM309.0 357.0h2.8v2.8h-2.8zM309.3 345.2h2.8v2.8h-2.8zM309.6 362.9h2.8v2.8h-2.8zM309.8 364.5h2.8v2.8h-2.8zM310.1 358.7h2.8v2.8h-2.8zM310.4 338.8h2.8v2.8h-2.8zM310.6 370.2h2.8v2.8h-2.8zM310.9 359.2h2.8v2.8h-2.8zM311.1 366.4h2.8v2.8h-2.8zM311.4 348.6h2.8v2.8h-2.8zM311.7 363.6h2.8v2.8h-2.8zM311.9 357.0h2.8v2.8h-2.8zM312.2 357.1h2.8v2.8h-2.8zM312.7 341.3h2.8v2.8h-2.8zM313.0 371.0h2.8v2.8h-2.8zM313.2 335.6h2.8v2.8h-2.8zM313.5 365.8h2.8v2.8h-2.8zM313.8 351.1h2.8v2.8h-2.8zM314.0 365.9h2.8v2.8h-2.8zM314.3 354.0h2.8v2.8h-2.8zM314.6 367.8h2.8v2.8h-2.8zM314.8 332.2h2.8v2.8h-2.8zM315.1 349.3h2.8v2.8h-2.8zM315.4 355.0h2.8v2.8h-2.8zM315.6 380.7h2.8v2.8h-2.8zM315.9 377.6h2.8v2.8h-2.8zM316.7 372.2h2.8v2.8h-2.8zM316.9 368.2h2.8v2.8h-2.8zM317.5 363.2h2.8v2.8h-2.8zM317.7 373.4h2.8v2.8h-2.8zM318.0 349.7h2.8v2.8h-2.8zM318.2 368.1h2.8v2.8h-2.8zM318.5 362.5h2.8v2.8h-2.8zM318.8 348.3h2.8v2.8h-2.8zM319.3 374.3h2.8v2.8h-2.8zM319.6 350.8h2.8v2.8h-2.8zM319.8 355.5h2.8v2.8h-2.8zM320.1 366.2h2.8v2.8h-2.8zM320.4 351.0h2.8v2.8h-2.8zM320.6 361.1h2.8v2.8h-2.8zM320.9 369.4h2.8v2.8h-2.8zM321.1 374.1h2.8v2.8h-2.8zM321.4 369.9h2.8v2.8h-2.8zM321.7 350.1h2.8v2.8h-2.8zM322.7 361.6h2.8v2.8h-2.8zM323.0 365.9h2.8v2.8h-2.8zM323.5 359.2h2.8v2.8h-2.8zM324.3 374.0h2.8v2.8h-2.8zM324.6 358.0h2.8v2.8h-2.8zM324.8 368.8h2.8v2.8h-2.8zM325.1 370.0h2.8v2.8h-2.8zM325.4 359.5h2.8v2.8h-2.8zM325.6 354.7h2.8v2.8h-2.8zM325.9 374.6h2.8v2.8h-2.8zM326.1 377.3h2.8v2.8h-2.8zM326.7 382.3h2.8v2.8h-2.8zM326.9 362.7h2.8v2.8h-2.8zM327.2 360.3h2.8v2.8h-2.8zM327.5 365.9h2.8v2.8h-2.8zM327.7 316.9h2.8v2.8h-2.8zM328.0 364.8h2.8v2.8h-2.8zM328.2 358.7h2.8v2.8h-2.8zM328.5 343.8h2.8v2.8h-2.8zM328.8 350.6h2.8v2.8h-2.8zM329.0 379.2h2.8v2.8h-2.8zM329.3 340.3h2.8v2.8h-2.8zM329.6 363.3h2.8v2.8h-2.8zM329.8 374.9h2.8v2.8h-2.8zM330.4 364.9h2.8v2.8h-2.8zM330.6 359.6h2.8v2.8h-2.8zM330.9 397.0h2.8v2.8h-2.8zM331.4 380.5h2.8v2.8h-2.8zM331.7 368.5h2.8v2.8h-2.8zM332.2 348.0h2.8v2.8h-2.8zM332.5 376.0h2.8v2.8h-2.8zM332.7 396.6h2.8v2.8h-2.8zM333.3 349.0h2.8v2.8h-2.8zM333.5 389.1h2.8v2.8h-2.8zM334.0 364.9h2.8v2.8h-2.8zM334.3 360.9h2.8v2.8h-2.8zM334.6 364.1h2.8v2.8h-2.8zM334.8 346.8h2.8v2.8h-2.8zM335.1 374.3h2.8v2.8h-2.8zM335.4 377.1h2.8v2.8h-2.8zM335.6 368.6h2.8v2.8h-2.8zM335.9 363.6h2.8v2.8h-2.8zM336.1 362.7h2.8v2.8h-2.8zM336.4 321.3h2.8v2.8h-2.8zM336.7 368.1h2.8v2.8h-2.8zM336.9 357.7h2.8v2.8h-2.8zM337.2 370.1h2.8v2.8h-2.8zM337.5 380.0h2.8v2.8h-2.8zM337.7 369.5h2.8v2.8h-2.8zM338.3 367.3h2.8v2.8h-2.8zM338.5 361.9h2.8v2.8h-2.8zM338.8 378.7h2.8v2.8h-2.8zM339.0 362.3h2.8v2.8h-2.8zM339.3 401.2h2.8v2.8h-2.8zM339.6 351.0h2.8v2.8h-2.8zM339.8 359.0h2.8v2.8h-2.8zM340.4 332.2h2.8v2.8h-2.8zM340.6 333.6h2.8v2.8h-2.8zM340.9 366.1h2.8v2.8h-2.8zM341.1 350.7h2.8v2.8h-2.8zM341.4 348.7h2.8v2.8h-2.8zM341.7 363.9h2.8v2.8h-2.8zM341.9 344.0h2.8v2.8h-2.8zM342.2 365.2h2.8v2.8h-2.8zM342.7 355.3h2.8v2.8h-2.8zM343.0 349.3h2.8v2.8h-2.8zM343.3 364.2h2.8v2.8h-2.8zM343.8 349.6h2.8v2.8h-2.8zM344.0 367.6h2.8v2.8h-2.8zM344.3 372.8h2.8v2.8h-2.8zM345.1 394.2h2.8v2.8h-2.8zM345.6 343.8h2.8v2.8h-2.8zM345.9 349.5h2.8v2.8h-2.8zM346.1 362.4h2.8v2.8h-2.8zM346.4 361.1h2.8v2.8h-2.8zM346.7 364.3h2.8v2.8h-2.8zM346.9 402.0h2.8v2.8h-2.8zM347.2 366.7h2.8v2.8h-2.8zM347.5 360.4h2.8v2.8h-2.8zM347.7 380.1h2.8v2.8h-2.8zM348.0 371.2h2.8v2.8h-2.8zM348.5 331.1h2.8v2.8h-2.8zM348.8 370.3h2.8v2.8h-2.8zM349.0 363.6h2.8v2.8h-2.8zM349.3 351.7h2.8v2.8h-2.8zM349.8 351.1h2.8v2.8h-2.8zM350.4 369.1h2.8v2.8h-2.8zM350.6 343.8h2.8v2.8h-2.8zM350.9 360.4h2.8v2.8h-2.8zM351.1 355.1h2.8v2.8h-2.8zM351.7 336.4h2.8v2.8h-2.8zM351.9 378.3h2.8v2.8h-2.8zM352.2 351.4h2.8v2.8h-2.8zM352.5 385.2h2.8v2.8h-2.8zM352.7 341.5h2.8v2.8h-2.8zM353.0 348.3h2.8v2.8h-2.8zM353.3 384.9h2.8v2.8h-2.8zM353.5 314.2h2.8v2.8h-2.8zM353.8 359.7h2.8v2.8h-2.8zM354.3 358.5h2.8v2.8h-2.8zM354.6 407.7h2.8v2.8h-2.8zM355.1 362.1h2.8v2.8h-2.8zM355.4 339.4h2.8v2.8h-2.8zM355.6 350.4h2.8v2.8h-2.8zM356.1 355.7h2.8v2.8h-2.8zM356.7 365.7h2.8v2.8h-2.8zM357.2 358.6h2.8v2.8h-2.8zM357.5 352.9h2.8v2.8h-2.8zM357.7 363.2h2.8v2.8h-2.8zM358.0 372.7h2.8v2.8h-2.8zM358.3 389.1h2.8v2.8h-2.8zM358.5 382.1h2.8v2.8h-2.8zM358.8 371.5h2.8v2.8h-2.8zM359.3 386.4h2.8v2.8h-2.8zM359.6 361.9h2.8v2.8h-2.8zM359.8 337.0h2.8v2.8h-2.8zM360.1 363.0h2.8v2.8h-2.8zM360.4 404.0h2.8v2.8h-2.8zM360.6 365.3h2.8v2.8h-2.8zM360.9 378.1h2.8v2.8h-2.8zM361.1 365.5h2.8v2.8h-2.8zM361.4 325.0h2.8v2.8h-2.8zM361.7 330.6h2.8v2.8h-2.8zM361.9 352.2h2.8v2.8h-2.8zM362.5 356.9h2.8v2.8h-2.8zM362.7 367.8h2.8v2.8h-2.8zM363.0 371.2h2.8v2.8h-2.8zM363.3 354.6h2.8v2.8h-2.8zM363.5 344.1h2.8v2.8h-2.8zM363.8 353.5h2.8v2.8h-2.8zM364.3 360.9h2.8v2.8h-2.8zM364.6 389.4h2.8v2.8h-2.8zM364.8 367.9h2.8v2.8h-2.8zM365.4 348.6h2.8v2.8h-2.8zM365.6 347.3h2.8v2.8h-2.8zM365.9 372.5h2.8v2.8h-2.8zM366.1 369.8h2.8v2.8h-2.8zM366.7 365.5h2.8v2.8h-2.8zM366.9 338.2h2.8v2.8h-2.8zM367.2 348.5h2.8v2.8h-2.8zM367.5 354.7h2.8v2.8h-2.8zM367.7 343.8h2.8v2.8h-2.8zM368.0 362.2h2.8v2.8h-2.8zM368.3 376.4h2.8v2.8h-2.8zM368.5 365.2h2.8v2.8h-2.8zM368.8 372.1h2.8v2.8h-2.8zM369.0 358.8h2.8v2.8h-2.8zM369.8 343.5h2.8v2.8h-2.8zM370.1 362.6h2.8v2.8h-2.8zM370.6 376.3h2.8v2.8h-2.8zM370.9 331.8h2.8v2.8h-2.8zM371.1 355.2h2.8v2.8h-2.8zM371.4 360.9h2.8v2.8h-2.8zM371.7 351.0h2.8v2.8h-2.8zM371.9 373.2h2.8v2.8h-2.8zM372.5 341.1h2.8v2.8h-2.8zM372.7 360.0h2.8v2.8h-2.8zM373.0 351.9h2.8v2.8h-2.8zM373.3 385.3h2.8v2.8h-2.8zM373.8 354.8h2.8v2.8h-2.8zM374.0 373.4h2.8v2.8h-2.8zM374.6 345.7h2.8v2.8h-2.8zM374.8 346.8h2.8v2.8h-2.8zM375.1 315.6h2.8v2.8h-2.8zM375.4 351.5h2.8v2.8h-2.8zM375.9 341.0h2.8v2.8h-2.8zM376.1 363.7h2.8v2.8h-2.8zM376.4 350.9h2.8v2.8h-2.8zM376.7 354.5h2.8v2.8h-2.8zM376.9 345.9h2.8v2.8h-2.8zM378.0 363.9h2.8v2.8h-2.8zM378.3 364.1h2.8v2.8h-2.8zM378.5 348.0h2.8v2.8h-2.8zM379.0 354.6h2.8v2.8h-2.8zM379.3 350.9h2.8v2.8h-2.8zM379.6 328.3h2.8v2.8h-2.8zM380.4 357.9h2.8v2.8h-2.8zM380.9 342.8h2.8v2.8h-2.8zM381.1 355.3h2.8v2.8h-2.8zM381.4 348.1h2.8v2.8h-2.8zM381.7 351.0h2.8v2.8h-2.8zM381.9 323.0h2.8v2.8h-2.8zM382.2 351.7h2.8v2.8h-2.8zM382.7 332.4h2.8v2.8h-2.8zM383.0 360.3h2.8v2.8h-2.8zM383.5 342.4h2.8v2.8h-2.8zM384.3 357.3h2.8v2.8h-2.8zM384.6 343.6h2.8v2.8h-2.8zM384.8 364.1h2.8v2.8h-2.8zM385.4 375.3h2.8v2.8h-2.8zM385.6 358.8h2.8v2.8h-2.8zM386.1 348.7h2.8v2.8h-2.8zM386.4 340.1h2.8v2.8h-2.8zM386.7 331.7h2.8v2.8h-2.8zM386.9 366.8h2.8v2.8h-2.8zM387.2 359.2h2.8v2.8h-2.8zM387.5 346.2h2.8v2.8h-2.8zM387.7 325.5h2.8v2.8h-2.8zM388.0 353.0h2.8v2.8h-2.8zM388.3 354.0h2.8v2.8h-2.8zM388.5 336.6h2.8v2.8h-2.8zM388.8 345.2h2.8v2.8h-2.8zM389.0 363.3h2.8v2.8h-2.8zM389.3 356.4h2.8v2.8h-2.8zM389.8 403.6h2.8v2.8h-2.8zM390.1 329.4h2.8v2.8h-2.8zM390.4 348.9h2.8v2.8h-2.8zM390.9 365.4h2.8v2.8h-2.8zM391.1 357.0h2.8v2.8h-2.8zM391.4 383.3h2.8v2.8h-2.8zM391.7 348.7h2.8v2.8h-2.8zM392.2 339.4h2.8v2.8h-2.8zM392.5 352.1h2.8v2.8h-2.8zM392.7 343.2h2.8v2.8h-2.8zM393.0 350.4h2.8v2.8h-2.8zM393.8 343.1h2.8v2.8h-2.8zM394.0 328.7h2.8v2.8h-2.8zM394.3 365.6h2.8v2.8h-2.8zM394.6 361.1h2.8v2.8h-2.8zM394.8 350.6h2.8v2.8h-2.8zM395.4 344.2h2.8v2.8h-2.8zM395.6 348.2h2.8v2.8h-2.8zM395.9 334.2h2.8v2.8h-2.8zM396.1 343.2h2.8v2.8h-2.8zM396.4 340.8h2.8v2.8h-2.8zM396.7 354.2h2.8v2.8h-2.8zM396.9 359.8h2.8v2.8h-2.8zM397.2 337.0h2.8v2.8h-2.8zM397.5 357.7h2.8v2.8h-2.8zM397.7 351.3h2.8v2.8h-2.8zM398.0 344.4h2.8v2.8h-2.8zM398.3 338.0h2.8v2.8h-2.8zM398.5 354.6h2.8v2.8h-2.8zM398.8 344.0h2.8v2.8h-2.8zM399.0 354.4h2.8v2.8h-2.8zM399.3 359.8h2.8v2.8h-2.8zM399.8 343.3h2.8v2.8h-2.8zM400.1 345.2h2.8v2.8h-2.8zM400.4 361.6h2.8v2.8h-2.8zM400.6 357.8h2.8v2.8h-2.8zM401.1 352.3h2.8v2.8h-2.8zM401.7 354.3h2.8v2.8h-2.8zM401.9 353.8h2.8v2.8h-2.8zM402.2 367.5h2.8v2.8h-2.8zM402.7 347.5h2.8v2.8h-2.8zM403.0 352.7h2.8v2.8h-2.8zM403.3 356.9h2.8v2.8h-2.8zM403.5 366.0h2.8v2.8h-2.8zM403.8 351.8h2.8v2.8h-2.8zM404.0 352.6h2.8v2.8h-2.8zM404.3 348.7h2.8v2.8h-2.8zM404.6 365.2h2.8v2.8h-2.8zM405.1 350.8h2.8v2.8h-2.8zM405.4 335.4h2.8v2.8h-2.8zM405.6 358.6h2.8v2.8h-2.8zM405.9 325.0h2.8v2.8h-2.8zM406.1 356.0h2.8v2.8h-2.8zM406.4 367.0h2.8v2.8h-2.8zM406.7 341.3h2.8v2.8h-2.8zM406.9 357.9h2.8v2.8h-2.8zM407.2 375.8h2.8v2.8h-2.8zM407.5 343.2h2.8v2.8h-2.8zM407.7 357.1h2.8v2.8h-2.8zM408.0 355.9h2.8v2.8h-2.8zM408.3 331.8h2.8v2.8h-2.8zM408.5 348.3h2.8v2.8h-2.8zM408.8 363.8h2.8v2.8h-2.8zM409.0 348.7h2.8v2.8h-2.8zM409.8 347.5h2.8v2.8h-2.8zM410.1 351.8h2.8v2.8h-2.8zM410.4 351.1h2.8v2.8h-2.8zM410.6 356.6h2.8v2.8h-2.8zM410.9 342.6h2.8v2.8h-2.8zM411.2 343.8h2.8v2.8h-2.8zM411.4 362.0h2.8v2.8h-2.8zM411.7 367.7h2.8v2.8h-2.8zM411.9 335.7h2.8v2.8h-2.8zM412.2 366.4h2.8v2.8h-2.8zM412.5 350.4h2.8v2.8h-2.8zM412.7 341.6h2.8v2.8h-2.8zM413.0 350.1h2.8v2.8h-2.8zM413.3 357.7h2.8v2.8h-2.8zM413.5 339.7h2.8v2.8h-2.8zM413.8 355.1h2.8v2.8h-2.8zM414.0 359.7h2.8v2.8h-2.8zM414.3 351.2h2.8v2.8h-2.8zM414.6 400.4h2.8v2.8h-2.8zM414.8 367.2h2.8v2.8h-2.8zM415.1 334.5h2.8v2.8h-2.8zM415.4 347.0h2.8v2.8h-2.8zM415.6 351.8h2.8v2.8h-2.8zM416.2 367.5h2.8v2.8h-2.8zM416.4 365.0h2.8v2.8h-2.8zM416.7 333.8h2.8v2.8h-2.8zM416.9 364.6h2.8v2.8h-2.8zM417.5 369.1h2.8v2.8h-2.8zM417.7 366.2h2.8v2.8h-2.8zM418.0 354.0h2.8v2.8h-2.8zM418.3 348.9h2.8v2.8h-2.8zM418.5 334.6h2.8v2.8h-2.8zM418.8 384.9h2.8v2.8h-2.8zM419.0 370.2h2.8v2.8h-2.8zM419.6 354.0h2.8v2.8h-2.8zM419.8 326.3h2.8v2.8h-2.8zM420.1 350.4h2.8v2.8h-2.8zM420.4 364.4h2.8v2.8h-2.8zM420.6 367.2h2.8v2.8h-2.8zM420.9 399.8h2.8v2.8h-2.8zM421.2 394.4h2.8v2.8h-2.8zM421.4 337.9h2.8v2.8h-2.8zM421.7 378.7h2.8v2.8h-2.8zM421.9 388.0h2.8v2.8h-2.8zM422.2 355.2h2.8v2.8h-2.8zM422.7 356.9h2.8v2.8h-2.8zM423.5 367.2h2.8v2.8h-2.8zM423.8 374.0h2.8v2.8h-2.8zM424.0 364.0h2.8v2.8h-2.8zM424.3 358.4h2.8v2.8h-2.8zM424.6 382.9h2.8v2.8h-2.8zM425.1 354.6h2.8v2.8h-2.8zM425.4 360.3h2.8v2.8h-2.8zM425.6 365.7h2.8v2.8h-2.8zM425.9 370.6h2.8v2.8h-2.8zM426.2 378.3h2.8v2.8h-2.8zM426.4 378.9h2.8v2.8h-2.8zM426.7 339.4h2.8v2.8h-2.8zM426.9 344.7h2.8v2.8h-2.8zM427.2 348.4h2.8v2.8h-2.8zM427.5 321.5h2.8v2.8h-2.8zM427.7 377.6h2.8v2.8h-2.8zM428.0 354.0h2.8v2.8h-2.8zM428.3 348.4h2.8v2.8h-2.8zM428.5 336.0h2.8v2.8h-2.8zM428.8 359.8h2.8v2.8h-2.8zM429.0 353.6h2.8v2.8h-2.8zM429.3 361.7h2.8v2.8h-2.8zM429.6 348.7h2.8v2.8h-2.8zM429.8 349.9h2.8v2.8h-2.8zM430.4 362.9h2.8v2.8h-2.8zM430.6 347.2h2.8v2.8h-2.8zM430.9 363.9h2.8v2.8h-2.8zM431.2 356.0h2.8v2.8h-2.8zM431.4 330.2h2.8v2.8h-2.8zM431.7 361.2h2.8v2.8h-2.8zM431.9 353.5h2.8v2.8h-2.8zM432.2 359.0h2.8v2.8h-2.8zM432.5 361.8h2.8v2.8h-2.8zM432.7 351.2h2.8v2.8h-2.8zM433.0 369.3h2.8v2.8h-2.8zM433.3 322.2h2.8v2.8h-2.8zM433.5 363.9h2.8v2.8h-2.8zM433.8 359.0h2.8v2.8h-2.8zM434.0 359.1h2.8v2.8h-2.8zM434.3 351.4h2.8v2.8h-2.8zM434.6 352.8h2.8v2.8h-2.8zM435.1 359.9h2.8v2.8h-2.8zM435.4 347.9h2.8v2.8h-2.8zM435.9 349.2h2.8v2.8h-2.8zM436.2 352.3h2.8v2.8h-2.8zM436.4 339.4h2.8v2.8h-2.8zM436.7 372.8h2.8v2.8h-2.8zM437.2 372.1h2.8v2.8h-2.8zM437.5 363.2h2.8v2.8h-2.8zM438.0 344.0h2.8v2.8h-2.8zM438.3 359.1h2.8v2.8h-2.8zM438.5 357.6h2.8v2.8h-2.8zM438.8 345.8h2.8v2.8h-2.8zM439.0 353.8h2.8v2.8h-2.8zM439.3 349.0h2.8v2.8h-2.8zM439.6 351.3h2.8v2.8h-2.8zM439.8 368.7h2.8v2.8h-2.8zM440.4 337.6h2.8v2.8h-2.8zM440.6 363.7h2.8v2.8h-2.8zM441.2 376.4h2.8v2.8h-2.8zM441.9 352.5h2.8v2.8h-2.8zM442.2 342.1h2.8v2.8h-2.8zM442.5 354.3h2.8v2.8h-2.8zM442.7 367.5h2.8v2.8h-2.8zM443.0 348.5h2.8v2.8h-2.8zM443.3 359.2h2.8v2.8h-2.8zM443.5 378.9h2.8v2.8h-2.8zM444.0 345.3h2.8v2.8h-2.8zM444.6 354.9h2.8v2.8h-2.8zM444.8 347.5h2.8v2.8h-2.8zM445.1 365.2h2.8v2.8h-2.8zM445.4 354.9h2.8v2.8h-2.8zM445.6 345.4h2.8v2.8h-2.8zM446.2 358.5h2.8v2.8h-2.8zM446.4 334.1h2.8v2.8h-2.8zM446.7 355.8h2.8v2.8h-2.8zM446.9 360.9h2.8v2.8h-2.8zM447.2 357.6h2.8v2.8h-2.8zM447.5 363.2h2.8v2.8h-2.8zM447.7 330.7h2.8v2.8h-2.8zM448.0 353.8h2.8v2.8h-2.8zM448.3 346.3h2.8v2.8h-2.8zM448.5 369.0h2.8v2.8h-2.8zM448.8 345.4h2.8v2.8h-2.8zM449.0 364.0h2.8v2.8h-2.8zM449.3 369.2h2.8v2.8h-2.8zM449.8 355.7h2.8v2.8h-2.8zM450.1 341.8h2.8v2.8h-2.8zM450.4 345.0h2.8v2.8h-2.8zM450.6 367.9h2.8v2.8h-2.8zM450.9 344.3h2.8v2.8h-2.8zM451.2 351.1h2.8v2.8h-2.8zM451.4 361.7h2.8v2.8h-2.8zM451.9 357.8h2.8v2.8h-2.8zM452.5 351.2h2.8v2.8h-2.8zM452.7 360.8h2.8v2.8h-2.8zM453.0 370.6h2.8v2.8h-2.8zM453.3 349.5h2.8v2.8h-2.8zM453.5 337.4h2.8v2.8h-2.8zM453.8 359.8h2.8v2.8h-2.8zM454.0 376.0h2.8v2.8h-2.8zM454.3 371.7h2.8v2.8h-2.8zM454.6 350.2h2.8v2.8h-2.8zM454.8 356.1h2.8v2.8h-2.8zM455.1 347.3h2.8v2.8h-2.8zM455.4 343.5h2.8v2.8h-2.8zM455.6 340.5h2.8v2.8h-2.8zM455.9 369.1h2.8v2.8h-2.8zM456.2 367.7h2.8v2.8h-2.8zM456.4 354.9h2.8v2.8h-2.8zM456.7 355.0h2.8v2.8h-2.8zM456.9 331.3h2.8v2.8h-2.8zM457.5 354.1h2.8v2.8h-2.8zM457.7 355.1h2.8v2.8h-2.8zM458.0 360.5h2.8v2.8h-2.8zM458.3 385.2h2.8v2.8h-2.8zM458.8 334.5h2.8v2.8h-2.8zM459.0 389.4h2.8v2.8h-2.8zM459.3 353.3h2.8v2.8h-2.8zM459.6 349.9h2.8v2.8h-2.8zM460.1 344.9h2.8v2.8h-2.8zM460.4 366.9h2.8v2.8h-2.8zM460.6 336.3h2.8v2.8h-2.8zM460.9 358.6h2.8v2.8h-2.8zM461.4 351.9h2.8v2.8h-2.8zM461.9 340.8h2.8v2.8h-2.8zM462.2 358.1h2.8v2.8h-2.8zM462.5 377.5h2.8v2.8h-2.8zM462.7 358.3h2.8v2.8h-2.8zM463.0 327.7h2.8v2.8h-2.8zM463.3 352.3h2.8v2.8h-2.8zM463.5 341.0h2.8v2.8h-2.8zM463.8 322.4h2.8v2.8h-2.8zM464.0 367.2h2.8v2.8h-2.8zM464.3 379.1h2.8v2.8h-2.8zM464.8 359.5h2.8v2.8h-2.8zM465.1 385.2h2.8v2.8h-2.8zM465.4 347.3h2.8v2.8h-2.8zM465.6 371.9h2.8v2.8h-2.8zM465.9 393.4h2.8v2.8h-2.8zM466.2 342.8h2.8v2.8h-2.8zM466.4 330.8h2.8v2.8h-2.8zM466.7 358.1h2.8v2.8h-2.8zM466.9 347.8h2.8v2.8h-2.8zM467.2 342.2h2.8v2.8h-2.8zM467.5 345.5h2.8v2.8h-2.8zM467.7 389.7h2.8v2.8h-2.8zM468.0 343.8h2.8v2.8h-2.8zM468.3 362.2h2.8v2.8h-2.8zM468.5 335.8h2.8v2.8h-2.8zM468.8 353.0h2.8v2.8h-2.8zM469.0 333.1h2.8v2.8h-2.8zM469.3 339.8h2.8v2.8h-2.8zM469.6 368.6h2.8v2.8h-2.8zM469.8 358.2h2.8v2.8h-2.8zM470.4 348.8h2.8v2.8h-2.8zM470.6 344.8h2.8v2.8h-2.8zM470.9 347.8h2.8v2.8h-2.8zM471.4 334.4h2.8v2.8h-2.8zM471.7 340.3h2.8v2.8h-2.8zM472.2 339.1h2.8v2.8h-2.8zM472.7 336.4h2.8v2.8h-2.8zM473.0 352.8h2.8v2.8h-2.8zM473.3 359.0h2.8v2.8h-2.8zM473.5 361.1h2.8v2.8h-2.8zM473.8 351.2h2.8v2.8h-2.8zM474.0 359.5h2.8v2.8h-2.8zM474.3 325.9h2.8v2.8h-2.8zM474.6 341.8h2.8v2.8h-2.8zM474.8 353.3h2.8v2.8h-2.8zM475.1 386.0h2.8v2.8h-2.8zM475.4 375.3h2.8v2.8h-2.8zM475.6 340.8h2.8v2.8h-2.8zM476.7 325.7h2.8v2.8h-2.8zM476.9 360.8h2.8v2.8h-2.8zM477.2 355.3h2.8v2.8h-2.8zM477.5 399.5h2.8v2.8h-2.8zM477.7 333.2h2.8v2.8h-2.8zM478.0 348.2h2.8v2.8h-2.8zM478.3 364.4h2.8v2.8h-2.8zM478.5 349.9h2.8v2.8h-2.8zM478.8 329.7h2.8v2.8h-2.8zM479.0 331.5h2.8v2.8h-2.8zM479.3 362.5h2.8v2.8h-2.8zM479.6 362.2h2.8v2.8h-2.8zM479.8 348.4h2.8v2.8h-2.8zM480.6 347.5h2.8v2.8h-2.8zM480.9 374.3h2.8v2.8h-2.8zM481.2 355.5h2.8v2.8h-2.8zM481.7 362.0h2.8v2.8h-2.8zM481.9 344.6h2.8v2.8h-2.8zM482.2 361.3h2.8v2.8h-2.8zM482.5 367.1h2.8v2.8h-2.8zM482.7 339.6h2.8v2.8h-2.8zM483.0 347.3h2.8v2.8h-2.8zM483.3 359.1h2.8v2.8h-2.8zM483.5 341.5h2.8v2.8h-2.8zM483.8 325.5h2.8v2.8h-2.8zM484.1 363.7h2.8v2.8h-2.8zM484.3 351.0h2.8v2.8h-2.8zM484.6 351.8h2.8v2.8h-2.8zM484.8 347.3h2.8v2.8h-2.8zM485.1 350.2h2.8v2.8h-2.8zM485.4 355.7h2.8v2.8h-2.8zM485.6 357.5h2.8v2.8h-2.8zM485.9 345.9h2.8v2.8h-2.8zM486.2 351.8h2.8v2.8h-2.8zM486.4 371.2h2.8v2.8h-2.8zM486.7 361.3h2.8v2.8h-2.8zM486.9 348.7h2.8v2.8h-2.8zM487.2 343.8h2.8v2.8h-2.8zM487.5 346.4h2.8v2.8h-2.8zM487.7 333.7h2.8v2.8h-2.8zM488.0 339.1h2.8v2.8h-2.8zM488.3 354.8h2.8v2.8h-2.8zM488.5 352.3h2.8v2.8h-2.8zM488.8 374.6h2.8v2.8h-2.8zM489.1 369.5h2.8v2.8h-2.8zM489.3 365.6h2.8v2.8h-2.8zM489.6 346.7h2.8v2.8h-2.8zM489.8 366.3h2.8v2.8h-2.8zM490.1 356.2h2.8v2.8h-2.8zM490.4 346.5h2.8v2.8h-2.8zM490.6 345.3h2.8v2.8h-2.8zM490.9 340.9h2.8v2.8h-2.8zM491.2 344.2h2.8v2.8h-2.8zM491.4 344.6h2.8v2.8h-2.8zM491.7 386.0h2.8v2.8h-2.8zM491.9 350.0h2.8v2.8h-2.8zM492.2 368.5h2.8v2.8h-2.8zM492.5 339.0h2.8v2.8h-2.8zM492.7 360.4h2.8v2.8h-2.8zM493.0 334.5h2.8v2.8h-2.8zM493.3 340.6h2.8v2.8h-2.8zM493.5 335.7h2.8v2.8h-2.8zM493.8 325.5h2.8v2.8h-2.8zM494.1 357.5h2.8v2.8h-2.8zM494.3 344.9h2.8v2.8h-2.8zM494.6 358.2h2.8v2.8h-2.8zM494.8 341.2h2.8v2.8h-2.8zM495.1 349.9h2.8v2.8h-2.8zM495.4 346.1h2.8v2.8h-2.8zM495.9 369.2h2.8v2.8h-2.8zM496.2 344.5h2.8v2.8h-2.8zM496.4 348.6h2.8v2.8h-2.8zM496.7 327.6h2.8v2.8h-2.8zM496.9 349.4h2.8v2.8h-2.8zM497.2 328.5h2.8v2.8h-2.8zM497.5 345.1h2.8v2.8h-2.8zM497.7 367.7h2.8v2.8h-2.8zM498.0 354.7h2.8v2.8h-2.8zM498.3 323.9h2.8v2.8h-2.8zM498.5 337.1h2.8v2.8h-2.8zM498.8 347.2h2.8v2.8h-2.8zM499.1 341.3h2.8v2.8h-2.8zM499.3 339.9h2.8v2.8h-2.8zM499.8 344.4h2.8v2.8h-2.8zM500.1 353.3h2.8v2.8h-2.8zM500.4 346.7h2.8v2.8h-2.8zM500.6 358.6h2.8v2.8h-2.8zM501.4 367.9h2.8v2.8h-2.8zM501.7 327.8h2.8v2.8h-2.8zM501.9 343.1h2.8v2.8h-2.8zM502.2 355.8h2.8v2.8h-2.8zM502.5 343.4h2.8v2.8h-2.8zM502.7 343.9h2.8v2.8h-2.8zM503.0 356.4h2.8v2.8h-2.8zM503.3 351.7h2.8v2.8h-2.8zM503.5 340.7h2.8v2.8h-2.8zM503.8 339.3h2.8v2.8h-2.8zM504.1 342.9h2.8v2.8h-2.8zM504.3 328.1h2.8v2.8h-2.8zM504.6 329.8h2.8v2.8h-2.8zM504.8 335.6h2.8v2.8h-2.8zM505.1 359.5h2.8v2.8h-2.8zM505.4 362.7h2.8v2.8h-2.8zM505.6 344.9h2.8v2.8h-2.8zM505.9 351.9h2.8v2.8h-2.8zM506.4 352.4h2.8v2.8h-2.8zM506.7 358.8h2.8v2.8h-2.8zM506.9 342.8h2.8v2.8h-2.8zM507.2 358.0h2.8v2.8h-2.8zM507.5 355.3h2.8v2.8h-2.8zM507.7 321.2h2.8v2.8h-2.8zM508.0 357.7h2.8v2.8h-2.8zM508.3 342.8h2.8v2.8h-2.8zM508.5 341.9h2.8v2.8h-2.8zM509.1 354.9h2.8v2.8h-2.8zM509.3 336.8h2.8v2.8h-2.8zM509.6 347.2h2.8v2.8h-2.8zM509.8 335.3h2.8v2.8h-2.8zM510.1 356.9h2.8v2.8h-2.8zM510.4 344.9h2.8v2.8h-2.8zM510.6 347.5h2.8v2.8h-2.8zM510.9 341.5h2.8v2.8h-2.8zM511.2 359.6h2.8v2.8h-2.8zM511.4 352.2h2.8v2.8h-2.8zM511.7 362.8h2.8v2.8h-2.8zM511.9 362.9h2.8v2.8h-2.8zM512.2 351.7h2.8v2.8h-2.8zM512.5 344.6h2.8v2.8h-2.8zM512.7 341.9h2.8v2.8h-2.8zM513.0 350.7h2.8v2.8h-2.8zM513.3 355.4h2.8v2.8h-2.8zM513.5 370.3h2.8v2.8h-2.8zM513.8 370.3h2.8v2.8h-2.8zM514.1 360.4h2.8v2.8h-2.8zM514.3 344.1h2.8v2.8h-2.8zM514.6 349.2h2.8v2.8h-2.8zM514.8 348.5h2.8v2.8h-2.8zM515.1 361.3h2.8v2.8h-2.8zM515.4 349.9h2.8v2.8h-2.8zM515.6 341.3h2.8v2.8h-2.8zM515.9 368.3h2.8v2.8h-2.8zM516.7 342.7h2.8v2.8h-2.8zM516.9 352.6h2.8v2.8h-2.8zM517.2 344.5h2.8v2.8h-2.8zM517.5 394.0h2.8v2.8h-2.8zM518.0 376.3h2.8v2.8h-2.8zM518.3 361.9h2.8v2.8h-2.8zM518.5 380.6h2.8v2.8h-2.8zM518.8 361.8h2.8v2.8h-2.8zM519.1 352.7h2.8v2.8h-2.8zM519.6 362.5h2.8v2.8h-2.8zM519.8 332.1h2.8v2.8h-2.8zM520.1 344.5h2.8v2.8h-2.8zM520.6 360.3h2.8v2.8h-2.8zM520.9 373.5h2.8v2.8h-2.8zM521.9 373.1h2.8v2.8h-2.8zM522.2 350.7h2.8v2.8h-2.8zM522.5 368.9h2.8v2.8h-2.8zM522.7 337.8h2.8v2.8h-2.8zM523.0 356.1h2.8v2.8h-2.8zM523.5 367.9h2.8v2.8h-2.8zM523.8 362.6h2.8v2.8h-2.8zM524.1 359.5h2.8v2.8h-2.8zM524.3 342.9h2.8v2.8h-2.8zM524.6 354.6h2.8v2.8h-2.8zM524.8 337.5h2.8v2.8h-2.8zM525.4 353.6h2.8v2.8h-2.8zM525.6 359.8h2.8v2.8h-2.8zM525.9 329.3h2.8v2.8h-2.8zM526.2 361.3h2.8v2.8h-2.8zM526.4 356.0h2.8v2.8h-2.8zM526.7 365.7h2.8v2.8h-2.8zM527.2 351.9h2.8v2.8h-2.8zM527.5 347.0h2.8v2.8h-2.8zM528.3 341.5h2.8v2.8h-2.8zM528.5 346.9h2.8v2.8h-2.8zM529.1 355.0h2.8v2.8h-2.8zM529.3 356.0h2.8v2.8h-2.8zM529.6 386.6h2.8v2.8h-2.8zM529.8 356.0h2.8v2.8h-2.8zM530.4 348.5h2.8v2.8h-2.8zM530.6 356.4h2.8v2.8h-2.8zM530.9 339.9h2.8v2.8h-2.8zM531.2 367.7h2.8v2.8h-2.8zM531.7 357.3h2.8v2.8h-2.8zM531.9 349.9h2.8v2.8h-2.8z"/>
<path clip-path="url(#c2)" fill="none" stroke="#f00000" stroke-width="2.4" d="M62.0 372.6 63.5 372.6 65.0 372.5 66.5 372.5 68.0 372.5 69.5 372.4 71.0 372.3 72.5 372.2 74.0 372.2 75.5 372.1 77.0 371.9 78.5 371.8 80.0 371.6 81.5 371.4 83.0 371.2 84.5 371.0 86.0 370.7 87.5 370.4 89.0 370.0 90.5 369.7 92.0 369.3 93.5 368.9 95.0 368.5 96.5 368.1 98.0 367.7 99.5 367.3 101.0 366.9 102.5 366.6 104.0 366.3 105.5 366.1 107.0 365.9 108.5 365.8 110.0 365.8 111.5 365.9 113.0 366.1 114.5 366.5 116.0 367.0 117.5 367.5 119.0 368.2 120.5 368.8 122.0 369.5 123.5 370.2 125.0 370.8 126.5 371.4 128.0 372.0 129.5 372.5 131.0 372.9 132.5 373.3 134.0 373.5 135.5 373.7 137.0 373.7 138.5 373.6 140.0 373.5 141.5 373.2 143.0 372.9 144.5 372.5 146.0 372.1 147.5 371.7 149.0 371.2 150.5 370.8 152.0 370.3 153.5 369.9 155.0 369.5 156.5 369.2 158.0 368.9 159.5 368.6 161.0 368.5 162.5 368.3 164.0 368.2 165.5 368.1 167.0 368.0 168.5 367.9 170.0 367.8 171.5 367.6 173.0 367.5 174.5 367.3 176.0 367.0 177.5 366.8 179.0 366.6 180.5 366.3 182.0 366.0 183.5 365.7 185.0 365.4 186.5 365.1 188.0 364.7 189.5 364.4 191.0 364.1 192.5 363.7 194.0 363.4 195.5 363.1 197.0 362.9 198.5 362.6 200.0 362.4 201.5 362.2 203.0 362.1 204.5 362.0 206.0 362.0 207.5 362.1 209.0 362.3 210.5 362.5 212.0 362.9 213.5 363.3 215.0 363.8 216.5 364.3 218.0 364.8 219.5 365.4 221.0 366.0 222.5 366.6 224.0 367.2 225.5 367.8 227.0 368.2 228.5 368.7 230.0 369.0 231.5 369.3 233.0 369.4 234.5 369.5 236.0 369.4 237.5 369.3 239.0 369.0 240.5 368.8 242.0 368.4 243.5 368.0 245.0 367.6 246.5 367.2 248.0 366.8 249.5 366.4 251.0 366.0 252.5 365.7 254.0 365.3 255.5 365.0 257.0 364.8 258.5 364.5 260.0 364.3 261.5 364.0 263.0 363.8 264.5 363.7 266.0 363.5 267.5 363.3 269.0 363.2 270.5 363.1 272.0 363.0 273.5 362.9 275.0 362.7 276.5 362.6 278.0 362.4 279.5 362.1 281.0 361.8 282.5 361.5 284.0 361.2 285.5 360.9 287.0 360.5 288.5 360.2 290.0 359.8 291.5 359.4 293.0 359.1 294.5 358.7 296.0 358.4 297.5 358.2 299.0 358.0 300.5 357.9 302.0 357.9 303.5 357.9 305.0 358.1 306.5 358.3 308.0 358.6 309.5 359.0 311.0 359.5 312.5 360.0 314.0 360.5 315.5 361.1 317.0 361.6 318.5 362.2 320.0 362.7 321.5 363.2 323.0 363.7 324.5 364.1 326.0 364.5 327.5 364.8 329.0 365.1 330.5 365.1 332.0 365.1 333.5 364.8 335.0 364.5 336.5 364.1 338.0 363.6 339.5 363.1 341.0 362.6 342.5 362.2 344.0 361.7 345.5 361.3 347.0 360.9 348.5 360.5 350.0 360.1 351.5 359.8 353.0 359.4 354.5 359.2 356.0 358.9 357.5 358.7 359.0 358.5 360.5 358.3 362.0 358.1 363.5 358.0 365.0 357.8 366.5 357.7 368.0 357.5 369.5 357.4 371.0 357.3 372.5 357.1 374.0 356.9 375.5 356.7 377.0 356.5 378.5 356.2 380.0 355.9 381.5 355.6 383.0 355.3 384.5 355.0 386.0 354.6 387.5 354.3 389.0 354.0 390.5 353.7 392.0 353.5 393.5 353.4 395.0 353.3 396.5 353.3 398.0 353.4 399.5 353.5 401.0 353.7 402.5 354.0 404.0 354.4 405.5 354.8 407.0 355.3 408.5 355.8 410.0 356.4 411.5 357.0 413.0 357.6 414.5 358.2 416.0 358.7 417.5 359.2 419.0 359.6 420.5 359.9 422.0 360.0 423.5 359.9 425.0 359.6 426.5 359.3 428.0 358.9 429.5 358.4 431.0 358.0 432.5 357.6 434.0 357.2 435.5 356.9 437.0 356.6 438.5 356.3 440.0 356.0 441.5 355.8 443.0 355.6 444.5 355.3 446.0 355.1 447.5 354.9 449.0 354.8 450.5 354.6 452.0 354.5 453.5 354.4 455.0 354.3 456.5 354.3 458.0 354.2 459.5 354.1 461.0 354.1 462.5 354.0 464.0 353.9 465.5 353.7 467.0 353.5 468.5 353.3 470.0 353.1 471.5 352.8 473.0 352.6 474.5 352.3 476.0 352.0 477.5 351.7 479.0 351.4 480.5 351.1 482.0 350.8 483.5 350.5 485.0 350.2 486.5 350.0 488.0 349.8 489.5 349.6 491.0 349.5 492.5 349.5 494.0 349.6 495.5 349.7 497.0 350.0 498.5 350.3 500.0 350.7 501.5 351.2 503.0 351.8 504.5 352.4 506.0 353.1 507.5 353.8 509.0 354.5 510.5 355.1 512.0 355.6 513.5 356.0 515.0 356.4 516.5 356.7 518.0 356.9 519.5 357.0 521.0 357.0 522.5 357.0 524.0 356.9 525.5 356.7 527.0 356.5 528.5 356.2 530.0 355.8 531.5 355.5 533.0 355.2"/>
<rect x="62.0" y="35.9" width="479.79999999999995" height="103.1" fill="none" stroke="#222" stroke-width="1.9"/>
<rect x="62.0" y="173.5" width="479.79999999999995" height="103.19999999999999" fill="none" stroke="#222" stroke-width="1.9"/>
<rect x="62.0" y="310.9" width="479.79999999999995" height="102.70000000000005" fill="none" stroke="#222" stroke-width="1.9"/>
<path d="M62.00 35.9v-13.5M62.00 139.0v13.5" stroke="#444" stroke-width="1.0"/><path d="M70.16 35.9v-2.3M70.16 139.0v2.3" stroke="#222" stroke-width="1.0"/><path d="M77.53 35.9v-2.3M77.53 139.0v2.3" stroke="#222" stroke-width="1.0"/><path d="M85.69 35.9v-2.3M85.69 139.0v2.3" stroke="#222" stroke-width="1.0"/><path d="M93.58 35.9v-2.3M93.58 139.0v2.3" stroke="#222" stroke-width="1.0"/><path d="M101.74 35.9v-2.3M101.74 139.0v2.3" stroke="#222" stroke-width="1.0"/><path d="M109.63 35.9v-4.5M109.63 139.0v4.5" stroke="#222" stroke-width="1.2"/><path d="M117.79 35.9v-2.3M117.79 139.0v2.3" stroke="#222" stroke-width="1.0"/><path d="M125.95 35.9v-2.3M125.95 139.0v2.3" stroke="#222" stroke-width="1.0"/><path d="M133.85 35.9v-2.3M133.85 139.0v2.3" stroke="#222" stroke-width="1.0"/><path d="M142.01 35.9v-2.3M142.01 139.0v2.3" stroke="#222" stroke-width="1.0"/><path d="M149.90 35.9v-2.3M149.90 139.0v2.3" stroke="#222" stroke-width="1.0"/><path d="M158.06 35.9v-13.5M158.06 139.0v13.5" stroke="#444" stroke-width="1.0"/><path d="M166.22 35.9v-2.3M166.22 139.0v2.3" stroke="#222" stroke-width="1.0"/><path d="M173.59 35.9v-2.3M173.59 139.0v2.3" stroke="#222" stroke-width="1.0"/><path d="M181.75 35.9v-2.3M181.75 139.0v2.3" stroke="#222" stroke-width="1.0"/><path d="M189.64 35.9v-2.3M189.64 139.0v2.3" stroke="#222" stroke-width="1.0"/><path d="M197.80 35.9v-2.3M197.80 139.0v2.3" stroke="#222" stroke-width="1.0"/><path d="M205.69 35.9v-4.5M205.69 139.0v4.5" stroke="#222" stroke-width="1.2"/><path d="M213.85 35.9v-2.3M213.85 139.0v2.3" stroke="#222" stroke-width="1.0"/><path d="M222.01 35.9v-2.3M222.01 139.0v2.3" stroke="#222" stroke-width="1.0"/><path d="M229.91 35.9v-2.3M229.91 139.0v2.3" stroke="#222" stroke-width="1.0"/><path d="M238.06 35.9v-2.3M238.06 139.0v2.3" stroke="#222" stroke-width="1.0"/><path d="M245.96 35.9v-2.3M245.96 139.0v2.3" stroke="#222" stroke-width="1.0"/><path d="M254.12 35.9v-13.5M254.12 139.0v13.5" stroke="#444" stroke-width="1.0"/><path d="M262.28 35.9v-2.3M262.28 139.0v2.3" stroke="#222" stroke-width="1.0"/><path d="M269.65 35.9v-2.3M269.65 139.0v2.3" stroke="#222" stroke-width="1.0"/><path d="M277.80 35.9v-2.3M277.80 139.0v2.3" stroke="#222" stroke-width="1.0"/><path d="M285.70 35.9v-2.3M285.70 139.0v2.3" stroke="#222" stroke-width="1.0"/><path d="M293.86 35.9v-2.3M293.86 139.0v2.3" stroke="#222" stroke-width="1.0"/><path d="M301.75 35.9v-4.5M301.75 139.0v4.5" stroke="#222" stroke-width="1.2"/><path d="M309.91 35.9v-2.3M309.91 139.0v2.3" stroke="#222" stroke-width="1.0"/><path d="M318.07 35.9v-2.3M318.07 139.0v2.3" stroke="#222" stroke-width="1.0"/><path d="M325.97 35.9v-2.3M325.97 139.0v2.3" stroke="#222" stroke-width="1.0"/><path d="M334.12 35.9v-2.3M334.12 139.0v2.3" stroke="#222" stroke-width="1.0"/><path d="M342.02 35.9v-2.3M342.02 139.0v2.3" stroke="#222" stroke-width="1.0"/><path d="M350.18 35.9v-13.5M350.18 139.0v13.5" stroke="#444" stroke-width="1.0"/><path d="M358.34 35.9v-2.3M358.34 139.0v2.3" stroke="#222" stroke-width="1.0"/><path d="M365.97 35.9v-2.3M365.97 139.0v2.3" stroke="#222" stroke-width="1.0"/><path d="M374.13 35.9v-2.3M374.13 139.0v2.3" stroke="#222" stroke-width="1.0"/><path d="M382.02 35.9v-2.3M382.02 139.0v2.3" stroke="#222" stroke-width="1.0"/><path d="M390.18 35.9v-2.3M390.18 139.0v2.3" stroke="#222" stroke-width="1.0"/><path d="M398.08 35.9v-4.5M398.08 139.0v4.5" stroke="#222" stroke-width="1.2"/><path d="M406.23 35.9v-2.3M406.23 139.0v2.3" stroke="#222" stroke-width="1.0"/><path d="M414.39 35.9v-2.3M414.39 139.0v2.3" stroke="#222" stroke-width="1.0"/><path d="M422.29 35.9v-2.3M422.29 139.0v2.3" stroke="#222" stroke-width="1.0"/><path d="M430.45 35.9v-2.3M430.45 139.0v2.3" stroke="#222" stroke-width="1.0"/><path d="M438.34 35.9v-2.3M438.34 139.0v2.3" stroke="#222" stroke-width="1.0"/><path d="M446.50 35.9v-13.5M446.50 139.0v13.5" stroke="#444" stroke-width="1.0"/><path d="M454.66 35.9v-2.3M454.66 139.0v2.3" stroke="#222" stroke-width="1.0"/><path d="M462.03 35.9v-2.3M462.03 139.0v2.3" stroke="#222" stroke-width="1.0"/><path d="M470.19 35.9v-2.3M470.19 139.0v2.3" stroke="#222" stroke-width="1.0"/><path d="M478.08 35.9v-2.3M478.08 139.0v2.3" stroke="#222" stroke-width="1.0"/><path d="M486.24 35.9v-2.3M486.24 139.0v2.3" stroke="#222" stroke-width="1.0"/><path d="M494.13 35.9v-4.5M494.13 139.0v4.5" stroke="#222" stroke-width="1.2"/><path d="M502.29 35.9v-2.3M502.29 139.0v2.3" stroke="#222" stroke-width="1.0"/><path d="M510.45 35.9v-2.3M510.45 139.0v2.3" stroke="#222" stroke-width="1.0"/><path d="M518.35 35.9v-2.3M518.35 139.0v2.3" stroke="#222" stroke-width="1.0"/><path d="M526.51 35.9v-2.3M526.51 139.0v2.3" stroke="#222" stroke-width="1.0"/><path d="M534.40 35.9v-2.3M534.40 139.0v2.3" stroke="#222" stroke-width="1.0"/><path d="M62.0 139.00h-4.8M541.8 139.00h4.8" stroke="#222" stroke-width="1.2"/><path d="M62.0 130.41h-2.0M541.8 130.41h2.0" stroke="#222" stroke-width="1.2"/><path d="M62.0 121.82h-2.0M541.8 121.82h2.0" stroke="#222" stroke-width="1.2"/><path d="M62.0 113.22h-4.8M541.8 113.22h4.8" stroke="#222" stroke-width="1.2"/><path d="M62.0 104.63h-2.0M541.8 104.63h2.0" stroke="#222" stroke-width="1.2"/><path d="M62.0 96.04h-2.0M541.8 96.04h2.0" stroke="#222" stroke-width="1.2"/><path d="M62.0 87.45h-4.8M541.8 87.45h4.8" stroke="#222" stroke-width="1.2"/><path d="M62.0 78.86h-2.0M541.8 78.86h2.0" stroke="#222" stroke-width="1.2"/><path d="M62.0 70.27h-2.0M541.8 70.27h2.0" stroke="#222" stroke-width="1.2"/><path d="M62.0 61.68h-4.8M541.8 61.68h4.8" stroke="#222" stroke-width="1.2"/><path d="M62.0 53.08h-2.0M541.8 53.08h2.0" stroke="#222" stroke-width="1.2"/><path d="M62.0 44.49h-2.0M541.8 44.49h2.0" stroke="#222" stroke-width="1.2"/><path d="M62.0 35.90h-4.8M541.8 35.90h4.8" stroke="#222" stroke-width="1.2"/><path d="M62.00 173.5v-13.5M62.00 276.7v13.5" stroke="#444" stroke-width="1.0"/><path d="M70.16 173.5v-2.3M70.16 276.7v2.3" stroke="#222" stroke-width="1.0"/><path d="M77.53 173.5v-2.3M77.53 276.7v2.3" stroke="#222" stroke-width="1.0"/><path d="M85.69 173.5v-2.3M85.69 276.7v2.3" stroke="#222" stroke-width="1.0"/><path d="M93.58 173.5v-2.3M93.58 276.7v2.3" stroke="#222" stroke-width="1.0"/><path d="M101.74 173.5v-2.3M101.74 276.7v2.3" stroke="#222" stroke-width="1.0"/><path d="M109.63 173.5v-4.5M109.63 276.7v4.5" stroke="#222" stroke-width="1.2"/><path d="M117.79 173.5v-2.3M117.79 276.7v2.3" stroke="#222" stroke-width="1.0"/><path d="M125.95 173.5v-2.3M125.95 276.7v2.3" stroke="#222" stroke-width="1.0"/><path d="M133.85 173.5v-2.3M133.85 276.7v2.3" stroke="#222" stroke-width="1.0"/><path d="M142.01 173.5v-2.3M142.01 276.7v2.3" stroke="#222" stroke-width="1.0"/><path d="M149.90 173.5v-2.3M149.90 276.7v2.3" stroke="#222" stroke-width="1.0"/><path d="M158.06 173.5v-13.5M158.06 276.7v13.5" stroke="#444" stroke-width="1.0"/><path d="M166.22 173.5v-2.3M166.22 276.7v2.3" stroke="#222" stroke-width="1.0"/><path d="M173.59 173.5v-2.3M173.59 276.7v2.3" stroke="#222" stroke-width="1.0"/><path d="M181.75 173.5v-2.3M181.75 276.7v2.3" stroke="#222" stroke-width="1.0"/><path d="M189.64 173.5v-2.3M189.64 276.7v2.3" stroke="#222" stroke-width="1.0"/><path d="M197.80 173.5v-2.3M197.80 276.7v2.3" stroke="#222" stroke-width="1.0"/><path d="M205.69 173.5v-4.5M205.69 276.7v4.5" stroke="#222" stroke-width="1.2"/><path d="M213.85 173.5v-2.3M213.85 276.7v2.3" stroke="#222" stroke-width="1.0"/><path d="M222.01 173.5v-2.3M222.01 276.7v2.3" stroke="#222" stroke-width="1.0"/><path d="M229.91 173.5v-2.3M229.91 276.7v2.3" stroke="#222" stroke-width="1.0"/><path d="M238.06 173.5v-2.3M238.06 276.7v2.3" stroke="#222" stroke-width="1.0"/><path d="M245.96 173.5v-2.3M245.96 276.7v2.3" stroke="#222" stroke-width="1.0"/><path d="M254.12 173.5v-13.5M254.12 276.7v13.5" stroke="#444" stroke-width="1.0"/><path d="M262.28 173.5v-2.3M262.28 276.7v2.3" stroke="#222" stroke-width="1.0"/><path d="M269.65 173.5v-2.3M269.65 276.7v2.3" stroke="#222" stroke-width="1.0"/><path d="M277.80 173.5v-2.3M277.80 276.7v2.3" stroke="#222" stroke-width="1.0"/><path d="M285.70 173.5v-2.3M285.70 276.7v2.3" stroke="#222" stroke-width="1.0"/><path d="M293.86 173.5v-2.3M293.86 276.7v2.3" stroke="#222" stroke-width="1.0"/><path d="M301.75 173.5v-4.5M301.75 276.7v4.5" stroke="#222" stroke-width="1.2"/><path d="M309.91 173.5v-2.3M309.91 276.7v2.3" stroke="#222" stroke-width="1.0"/><path d="M318.07 173.5v-2.3M318.07 276.7v2.3" stroke="#222" stroke-width="1.0"/><path d="M325.97 173.5v-2.3M325.97 276.7v2.3" stroke="#222" stroke-width="1.0"/><path d="M334.12 173.5v-2.3M334.12 276.7v2.3" stroke="#222" stroke-width="1.0"/><path d="M342.02 173.5v-2.3M342.02 276.7v2.3" stroke="#222" stroke-width="1.0"/><path d="M350.18 173.5v-13.5M350.18 276.7v13.5" stroke="#444" stroke-width="1.0"/><path d="M358.34 173.5v-2.3M358.34 276.7v2.3" stroke="#222" stroke-width="1.0"/><path d="M365.97 173.5v-2.3M365.97 276.7v2.3" stroke="#222" stroke-width="1.0"/><path d="M374.13 173.5v-2.3M374.13 276.7v2.3" stroke="#222" stroke-width="1.0"/><path d="M382.02 173.5v-2.3M382.02 276.7v2.3" stroke="#222" stroke-width="1.0"/><path d="M390.18 173.5v-2.3M390.18 276.7v2.3" stroke="#222" stroke-width="1.0"/><path d="M398.08 173.5v-4.5M398.08 276.7v4.5" stroke="#222" stroke-width="1.2"/><path d="M406.23 173.5v-2.3M406.23 276.7v2.3" stroke="#222" stroke-width="1.0"/><path d="M414.39 173.5v-2.3M414.39 276.7v2.3" stroke="#222" stroke-width="1.0"/><path d="M422.29 173.5v-2.3M422.29 276.7v2.3" stroke="#222" stroke-width="1.0"/><path d="M430.45 173.5v-2.3M430.45 276.7v2.3" stroke="#222" stroke-width="1.0"/><path d="M438.34 173.5v-2.3M438.34 276.7v2.3" stroke="#222" stroke-width="1.0"/><path d="M446.50 173.5v-13.5M446.50 276.7v13.5" stroke="#444" stroke-width="1.0"/><path d="M454.66 173.5v-2.3M454.66 276.7v2.3" stroke="#222" stroke-width="1.0"/><path d="M462.03 173.5v-2.3M462.03 276.7v2.3" stroke="#222" stroke-width="1.0"/><path d="M470.19 173.5v-2.3M470.19 276.7v2.3" stroke="#222" stroke-width="1.0"/><path d="M478.08 173.5v-2.3M478.08 276.7v2.3" stroke="#222" stroke-width="1.0"/><path d="M486.24 173.5v-2.3M486.24 276.7v2.3" stroke="#222" stroke-width="1.0"/><path d="M494.13 173.5v-4.5M494.13 276.7v4.5" stroke="#222" stroke-width="1.2"/><path d="M502.29 173.5v-2.3M502.29 276.7v2.3" stroke="#222" stroke-width="1.0"/><path d="M510.45 173.5v-2.3M510.45 276.7v2.3" stroke="#222" stroke-width="1.0"/><path d="M518.35 173.5v-2.3M518.35 276.7v2.3" stroke="#222" stroke-width="1.0"/><path d="M526.51 173.5v-2.3M526.51 276.7v2.3" stroke="#222" stroke-width="1.0"/><path d="M534.40 173.5v-2.3M534.40 276.7v2.3" stroke="#222" stroke-width="1.0"/><path d="M62.0 276.70h-4.8M541.8 276.70h4.8" stroke="#222" stroke-width="1.2"/><path d="M62.0 268.10h-2.0M541.8 268.10h2.0" stroke="#222" stroke-width="1.2"/><path d="M62.0 259.50h-2.0M541.8 259.50h2.0" stroke="#222" stroke-width="1.2"/><path d="M62.0 250.90h-4.8M541.8 250.90h4.8" stroke="#222" stroke-width="1.2"/><path d="M62.0 242.30h-2.0M541.8 242.30h2.0" stroke="#222" stroke-width="1.2"/><path d="M62.0 233.70h-2.0M541.8 233.70h2.0" stroke="#222" stroke-width="1.2"/><path d="M62.0 225.10h-4.8M541.8 225.10h4.8" stroke="#222" stroke-width="1.2"/><path d="M62.0 216.50h-2.0M541.8 216.50h2.0" stroke="#222" stroke-width="1.2"/><path d="M62.0 207.90h-2.0M541.8 207.90h2.0" stroke="#222" stroke-width="1.2"/><path d="M62.0 199.30h-4.8M541.8 199.30h4.8" stroke="#222" stroke-width="1.2"/><path d="M62.0 190.70h-2.0M541.8 190.70h2.0" stroke="#222" stroke-width="1.2"/><path d="M62.0 182.10h-2.0M541.8 182.10h2.0" stroke="#222" stroke-width="1.2"/><path d="M62.0 173.50h-4.8M541.8 173.50h4.8" stroke="#222" stroke-width="1.2"/><path d="M62.00 310.9v-13.5M62.00 413.6v13.5" stroke="#444" stroke-width="1.0"/><path d="M70.16 310.9v-2.3M70.16 413.6v2.3" stroke="#222" stroke-width="1.0"/><path d="M77.53 310.9v-2.3M77.53 413.6v2.3" stroke="#222" stroke-width="1.0"/><path d="M85.69 310.9v-2.3M85.69 413.6v2.3" stroke="#222" stroke-width="1.0"/><path d="M93.58 310.9v-2.3M93.58 413.6v2.3" stroke="#222" stroke-width="1.0"/><path d="M101.74 310.9v-2.3M101.74 413.6v2.3" stroke="#222" stroke-width="1.0"/><path d="M109.63 310.9v-4.5M109.63 413.6v4.5" stroke="#222" stroke-width="1.2"/><path d="M117.79 310.9v-2.3M117.79 413.6v2.3" stroke="#222" stroke-width="1.0"/><path d="M125.95 310.9v-2.3M125.95 413.6v2.3" stroke="#222" stroke-width="1.0"/><path d="M133.85 310.9v-2.3M133.85 413.6v2.3" stroke="#222" stroke-width="1.0"/><path d="M142.01 310.9v-2.3M142.01 413.6v2.3" stroke="#222" stroke-width="1.0"/><path d="M149.90 310.9v-2.3M149.90 413.6v2.3" stroke="#222" stroke-width="1.0"/><path d="M158.06 310.9v-13.5M158.06 413.6v13.5" stroke="#444" stroke-width="1.0"/><path d="M166.22 310.9v-2.3M166.22 413.6v2.3" stroke="#222" stroke-width="1.0"/><path d="M173.59 310.9v-2.3M173.59 413.6v2.3" stroke="#222" stroke-width="1.0"/><path d="M181.75 310.9v-2.3M181.75 413.6v2.3" stroke="#222" stroke-width="1.0"/><path d="M189.64 310.9v-2.3M189.64 413.6v2.3" stroke="#222" stroke-width="1.0"/><path d="M197.80 310.9v-2.3M197.80 413.6v2.3" stroke="#222" stroke-width="1.0"/><path d="M205.69 310.9v-4.5M205.69 413.6v4.5" stroke="#222" stroke-width="1.2"/><path d="M213.85 310.9v-2.3M213.85 413.6v2.3" stroke="#222" stroke-width="1.0"/><path d="M222.01 310.9v-2.3M222.01 413.6v2.3" stroke="#222" stroke-width="1.0"/><path d="M229.91 310.9v-2.3M229.91 413.6v2.3" stroke="#222" stroke-width="1.0"/><path d="M238.06 310.9v-2.3M238.06 413.6v2.3" stroke="#222" stroke-width="1.0"/><path d="M245.96 310.9v-2.3M245.96 413.6v2.3" stroke="#222" stroke-width="1.0"/><path d="M254.12 310.9v-13.5M254.12 413.6v13.5" stroke="#444" stroke-width="1.0"/><path d="M262.28 310.9v-2.3M262.28 413.6v2.3" stroke="#222" stroke-width="1.0"/><path d="M269.65 310.9v-2.3M269.65 413.6v2.3" stroke="#222" stroke-width="1.0"/><path d="M277.80 310.9v-2.3M277.80 413.6v2.3" stroke="#222" stroke-width="1.0"/><path d="M285.70 310.9v-2.3M285.70 413.6v2.3" stroke="#222" stroke-width="1.0"/><path d="M293.86 310.9v-2.3M293.86 413.6v2.3" stroke="#222" stroke-width="1.0"/><path d="M301.75 310.9v-4.5M301.75 413.6v4.5" stroke="#222" stroke-width="1.2"/><path d="M309.91 310.9v-2.3M309.91 413.6v2.3" stroke="#222" stroke-width="1.0"/><path d="M318.07 310.9v-2.3M318.07 413.6v2.3" stroke="#222" stroke-width="1.0"/><path d="M325.97 310.9v-2.3M325.97 413.6v2.3" stroke="#222" stroke-width="1.0"/><path d="M334.12 310.9v-2.3M334.12 413.6v2.3" stroke="#222" stroke-width="1.0"/><path d="M342.02 310.9v-2.3M342.02 413.6v2.3" stroke="#222" stroke-width="1.0"/><path d="M350.18 310.9v-13.5M350.18 413.6v13.5" stroke="#444" stroke-width="1.0"/><path d="M358.34 310.9v-2.3M358.34 413.6v2.3" stroke="#222" stroke-width="1.0"/><path d="M365.97 310.9v-2.3M365.97 413.6v2.3" stroke="#222" stroke-width="1.0"/><path d="M374.13 310.9v-2.3M374.13 413.6v2.3" stroke="#222" stroke-width="1.0"/><path d="M382.02 310.9v-2.3M382.02 413.6v2.3" stroke="#222" stroke-width="1.0"/><path d="M390.18 310.9v-2.3M390.18 413.6v2.3" stroke="#222" stroke-width="1.0"/><path d="M398.08 310.9v-4.5M398.08 413.6v4.5" stroke="#222" stroke-width="1.2"/><path d="M406.23 310.9v-2.3M406.23 413.6v2.3" stroke="#222" stroke-width="1.0"/><path d="M414.39 310.9v-2.3M414.39 413.6v2.3" stroke="#222" stroke-width="1.0"/><path d="M422.29 310.9v-2.3M422.29 413.6v2.3" stroke="#222" stroke-width="1.0"/><path d="M430.45 310.9v-2.3M430.45 413.6v2.3" stroke="#222" stroke-width="1.0"/><path d="M438.34 310.9v-2.3M438.34 413.6v2.3" stroke="#222" stroke-width="1.0"/><path d="M446.50 310.9v-13.5M446.50 413.6v13.5" stroke="#444" stroke-width="1.0"/><path d="M454.66 310.9v-2.3M454.66 413.6v2.3" stroke="#222" stroke-width="1.0"/><path d="M462.03 310.9v-2.3M462.03 413.6v2.3" stroke="#222" stroke-width="1.0"/><path d="M470.19 310.9v-2.3M470.19 413.6v2.3" stroke="#222" stroke-width="1.0"/><path d="M478.08 310.9v-2.3M478.08 413.6v2.3" stroke="#222" stroke-width="1.0"/><path d="M486.24 310.9v-2.3M486.24 413.6v2.3" stroke="#222" stroke-width="1.0"/><path d="M494.13 310.9v-4.5M494.13 413.6v4.5" stroke="#222" stroke-width="1.2"/><path d="M502.29 310.9v-2.3M502.29 413.6v2.3" stroke="#222" stroke-width="1.0"/><path d="M510.45 310.9v-2.3M510.45 413.6v2.3" stroke="#222" stroke-width="1.0"/><path d="M518.35 310.9v-2.3M518.35 413.6v2.3" stroke="#222" stroke-width="1.0"/><path d="M526.51 310.9v-2.3M526.51 413.6v2.3" stroke="#222" stroke-width="1.0"/><path d="M534.40 310.9v-2.3M534.40 413.6v2.3" stroke="#222" stroke-width="1.0"/><path d="M62.0 413.60h-4.8M541.8 413.60h4.8" stroke="#222" stroke-width="1.2"/><path d="M62.0 396.48h-2.0M541.8 396.48h2.0" stroke="#222" stroke-width="1.2"/><path d="M62.0 379.37h-2.0M541.8 379.37h2.0" stroke="#222" stroke-width="1.2"/><path d="M62.0 362.25h-4.8M541.8 362.25h4.8" stroke="#222" stroke-width="1.2"/><path d="M62.0 345.13h-2.0M541.8 345.13h2.0" stroke="#222" stroke-width="1.2"/><path d="M62.0 328.02h-2.0M541.8 328.02h2.0" stroke="#222" stroke-width="1.2"/><path d="M62.0 310.90h-4.8M541.8 310.90h4.8" stroke="#222" stroke-width="1.2"/>
<g font-family="Liberation Sans, Arial, Helvetica, sans-serif" fill="#1a1a1a" stroke="#1a1a1a" stroke-width="0.25"><text x="109.9" y="12.6" text-anchor="middle" font-size="13.4" letter-spacing="0.5">2017</text><text x="109.9" y="446.9" text-anchor="middle" font-size="13.4" letter-spacing="0.5">2017</text><text x="65.9" y="26.7" text-anchor="middle" font-size="12.5" >Jan</text><text x="65.9" y="431.6" text-anchor="middle" font-size="12.5" >Jan</text><text x="113.6" y="26.7" text-anchor="middle" font-size="12.5" >Jul</text><text x="113.6" y="431.6" text-anchor="middle" font-size="12.5" >Jul</text><text x="206.0" y="12.6" text-anchor="middle" font-size="13.4" letter-spacing="0.5">2018</text><text x="206.0" y="446.9" text-anchor="middle" font-size="13.4" letter-spacing="0.5">2018</text><text x="162.0" y="26.7" text-anchor="middle" font-size="12.5" >Jan</text><text x="162.0" y="431.6" text-anchor="middle" font-size="12.5" >Jan</text><text x="209.6" y="26.7" text-anchor="middle" font-size="12.5" >Jul</text><text x="209.6" y="431.6" text-anchor="middle" font-size="12.5" >Jul</text><text x="302.0" y="12.6" text-anchor="middle" font-size="13.4" letter-spacing="0.5">2019</text><text x="302.0" y="446.9" text-anchor="middle" font-size="13.4" letter-spacing="0.5">2019</text><text x="258.1" y="26.7" text-anchor="middle" font-size="12.5" >Jan</text><text x="258.1" y="431.6" text-anchor="middle" font-size="12.5" >Jan</text><text x="305.7" y="26.7" text-anchor="middle" font-size="12.5" >Jul</text><text x="305.7" y="431.6" text-anchor="middle" font-size="12.5" >Jul</text><text x="398.3" y="12.6" text-anchor="middle" font-size="13.4" letter-spacing="0.5">2020</text><text x="398.3" y="446.9" text-anchor="middle" font-size="13.4" letter-spacing="0.5">2020</text><text x="354.1" y="26.7" text-anchor="middle" font-size="12.5" >Jan</text><text x="354.1" y="431.6" text-anchor="middle" font-size="12.5" >Jan</text><text x="402.0" y="26.7" text-anchor="middle" font-size="12.5" >Jul</text><text x="402.0" y="431.6" text-anchor="middle" font-size="12.5" >Jul</text><text x="494.4" y="12.6" text-anchor="middle" font-size="13.4" letter-spacing="0.5">2021</text><text x="494.4" y="446.9" text-anchor="middle" font-size="13.4" letter-spacing="0.5">2021</text><text x="450.4" y="26.7" text-anchor="middle" font-size="12.5" >Jan</text><text x="450.4" y="431.6" text-anchor="middle" font-size="12.5" >Jan</text><text x="498.1" y="26.7" text-anchor="middle" font-size="12.5" >Jul</text><text x="498.1" y="431.6" text-anchor="middle" font-size="12.5" >Jul</text><text x="52.6" y="40.4" text-anchor="end" font-size="12.5" >30</text><text x="52.6" y="66.2" text-anchor="end" font-size="12.5" >15</text><text x="52.6" y="92.0" text-anchor="end" font-size="12.5" >0</text><text x="52.6" y="117.7" text-anchor="end" font-size="12.5" >−15</text><text x="52.6" y="143.5" text-anchor="end" font-size="12.5" >−30</text><text transform="translate(19.7 87.5) rotate(-90)" text-anchor="middle" font-size="20.2">(mm)</text><text x="52.6" y="178.0" text-anchor="end" font-size="12.5" >30</text><text x="52.6" y="203.8" text-anchor="end" font-size="12.5" >15</text><text x="52.6" y="229.6" text-anchor="end" font-size="12.5" >0</text><text x="52.6" y="255.4" text-anchor="end" font-size="12.5" >−15</text><text x="52.6" y="281.2" text-anchor="end" font-size="12.5" >−30</text><text transform="translate(19.7 225.1) rotate(-90)" text-anchor="middle" font-size="20.2">(mm)</text><text x="52.6" y="315.4" text-anchor="end" font-size="12.5" >15</text><text x="52.6" y="366.8" text-anchor="end" font-size="12.5" >0</text><text x="52.6" y="418.1" text-anchor="end" font-size="12.5" >−15</text><text transform="translate(19.7 362.2) rotate(-90)" text-anchor="middle" font-size="20.2">(mm)</text><text x="114" y="123.9" font-size="14.6" font-weight="bold" fill="#f00" stroke="#f00" stroke-width="0.2">North</text><text x="114" y="194.3" font-size="14.6" font-weight="bold" fill="#f00" stroke="#f00" stroke-width="0.2">East</text><text x="114.3" y="334.2" font-size="14.6" font-weight="bold" fill="#f00" stroke="#f00" stroke-width="0.2">Up</text></g>
</g></svg>
</div></body></html>
